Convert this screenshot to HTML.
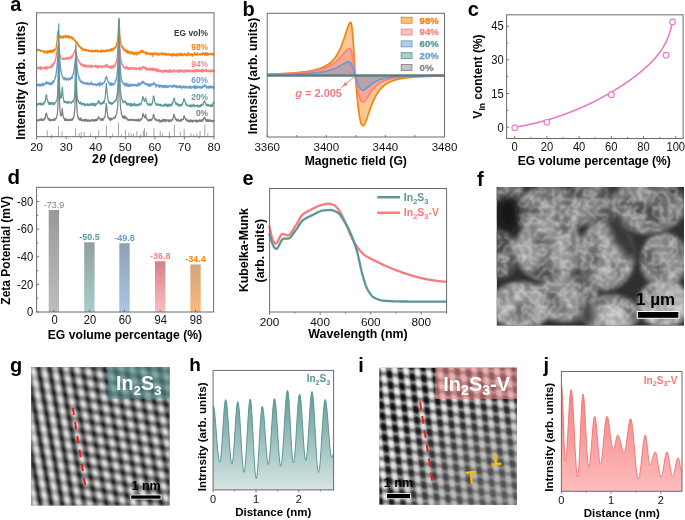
<!DOCTYPE html>
<html><head><meta charset="utf-8"><title>Figure</title>
<style>html,body{margin:0;padding:0;background:#fff;}svg{display:block;will-change:transform;-webkit-font-smoothing:antialiased;font-family:"Liberation Sans",sans-serif;}</style></head>
<body><svg width="685" height="520" viewBox="0 0 685 520" font-family="Liberation Sans, sans-serif">
<rect width="685" height="520" fill="#fff"/>
<path d="M36.60,49.81 L36.78,49.49 L36.95,50.02 L37.13,49.26 L37.31,50.15 L37.49,50.34 L37.66,50.06 L37.84,50.52 L38.02,50.03 L38.20,50.25 L38.37,49.40 L38.55,50.32 L38.73,49.81 L38.91,50.07 L39.08,50.32 L39.26,50.52 L39.44,49.45 L39.62,49.53 L39.79,50.32 L39.97,50.82 L40.15,50.79 L40.33,51.15 L40.50,51.43 L40.68,50.99 L40.86,50.72 L41.03,50.16 L41.21,50.25 L41.39,50.58 L41.57,51.07 L41.74,51.09 L41.92,51.00 L42.10,50.96 L42.28,51.48 L42.45,51.27 L42.63,51.37 L42.81,51.43 L42.99,50.96 L43.16,50.72 L43.34,51.68 L43.52,51.68 L43.70,51.34 L43.87,51.27 L44.05,52.92 L44.23,51.14 L44.41,51.51 L44.58,51.83 L44.76,51.02 L44.94,51.81 L45.12,52.85 L45.29,52.36 L45.47,52.21 L45.65,52.20 L45.82,51.94 L46.00,52.46 L46.18,51.81 L46.36,51.66 L46.53,51.98 L46.71,52.47 L46.89,52.12 L47.07,52.33 L47.24,50.70 L47.42,52.62 L47.60,53.30 L47.78,52.68 L47.95,51.67 L48.13,51.33 L48.31,51.98 L48.49,51.20 L48.66,52.20 L48.84,51.41 L49.02,52.27 L49.20,52.47 L49.37,50.40 L49.55,51.75 L49.73,51.11 L49.90,50.64 L50.08,51.07 L50.26,51.26 L50.44,51.96 L50.61,50.38 L50.79,51.87 L50.97,52.39 L51.15,51.49 L51.32,51.40 L51.50,51.01 L51.68,50.26 L51.86,51.22 L52.03,51.08 L52.21,51.23 L52.39,52.27 L52.57,51.11 L52.74,50.87 L52.92,51.49 L53.10,49.68 L53.28,49.74 L53.45,50.14 L53.63,49.90 L53.81,50.64 L53.99,49.95 L54.16,51.10 L54.34,50.87 L54.52,50.32 L54.69,49.50 L54.87,49.95 L55.05,49.89 L55.23,48.56 L55.40,49.15 L55.58,49.05 L55.76,48.37 L55.94,48.71 L56.11,47.92 L56.29,45.99 L56.47,45.68 L56.65,44.00 L56.82,43.46 L57.00,40.82 L57.18,39.66 L57.36,36.68 L57.53,34.36 L57.71,31.92 L57.89,30.99 L58.07,34.01 L58.24,34.23 L58.42,36.25 L58.60,36.39 L58.77,36.92 L58.95,37.79 L59.13,36.96 L59.31,37.60 L59.48,35.84 L59.66,37.23 L59.84,36.55 L60.02,36.61 L60.19,36.71 L60.37,36.94 L60.55,37.77 L60.73,35.72 L60.90,36.92 L61.08,36.53 L61.26,37.73 L61.44,36.84 L61.61,37.44 L61.79,36.99 L61.97,37.68 L62.15,37.94 L62.32,37.13 L62.50,37.42 L62.68,36.55 L62.86,37.58 L63.03,37.89 L63.21,37.02 L63.39,37.98 L63.56,36.01 L63.74,36.08 L63.92,36.29 L64.10,36.76 L64.27,36.99 L64.45,36.85 L64.63,36.79 L64.81,37.19 L64.98,36.40 L65.16,35.86 L65.34,35.82 L65.52,37.78 L65.69,35.06 L65.87,36.33 L66.05,37.28 L66.23,36.68 L66.40,35.88 L66.58,36.37 L66.76,36.88 L66.94,37.09 L67.11,35.84 L67.29,36.85 L67.47,36.56 L67.64,37.10 L67.82,37.29 L68.00,36.28 L68.18,35.65 L68.35,36.80 L68.53,37.66 L68.71,37.05 L68.89,36.82 L69.06,38.17 L69.24,36.16 L69.42,37.38 L69.60,36.55 L69.77,36.98 L69.95,37.07 L70.13,37.99 L70.31,36.59 L70.48,36.91 L70.66,36.35 L70.84,37.68 L71.02,37.20 L71.19,37.82 L71.37,37.02 L71.55,37.55 L71.73,38.50 L71.90,37.88 L72.08,38.48 L72.26,38.54 L72.43,38.14 L72.61,37.55 L72.79,39.22 L72.97,38.88 L73.14,39.52 L73.32,37.88 L73.50,38.26 L73.68,38.14 L73.85,39.07 L74.03,40.41 L74.21,40.31 L74.39,40.15 L74.56,40.44 L74.74,41.03 L74.92,40.60 L75.10,41.23 L75.27,41.30 L75.45,40.13 L75.63,41.44 L75.81,42.71 L75.98,41.89 L76.16,42.28 L76.34,42.24 L76.51,42.55 L76.69,43.76 L76.87,43.17 L77.05,42.95 L77.22,41.94 L77.40,43.70 L77.58,43.10 L77.76,43.43 L77.93,45.23 L78.11,45.41 L78.29,44.06 L78.47,45.94 L78.64,45.93 L78.82,45.40 L79.00,46.52 L79.18,45.30 L79.35,45.76 L79.53,45.81 L79.71,46.19 L79.89,47.57 L80.06,46.42 L80.24,46.70 L80.42,46.99 L80.60,47.83 L80.77,47.66 L80.95,48.53 L81.13,47.73 L81.30,47.52 L81.48,48.12 L81.66,48.57 L81.84,48.11 L82.01,48.95 L82.19,49.98 L82.37,48.64 L82.55,49.12 L82.72,50.00 L82.90,48.89 L83.08,48.85 L83.26,48.79 L83.43,49.76 L83.61,49.90 L83.79,49.58 L83.97,49.76 L84.14,50.56 L84.32,50.38 L84.50,49.07 L84.68,49.96 L84.85,50.09 L85.03,50.51 L85.21,49.99 L85.38,49.78 L85.56,49.93 L85.74,49.18 L85.92,50.27 L86.09,49.97 L86.27,50.64 L86.45,49.78 L86.63,50.17 L86.80,49.87 L86.98,49.85 L87.16,50.94 L87.34,50.26 L87.51,50.84 L87.69,49.92 L87.87,50.68 L88.05,49.63 L88.22,50.37 L88.40,50.38 L88.58,51.05 L88.76,50.83 L88.93,50.63 L89.11,51.26 L89.29,50.89 L89.47,51.11 L89.64,51.26 L89.82,50.78 L90.00,50.66 L90.17,51.04 L90.35,50.61 L90.53,51.10 L90.71,51.55 L90.88,51.41 L91.06,50.68 L91.24,50.15 L91.42,50.89 L91.59,50.86 L91.77,51.61 L91.95,50.73 L92.13,50.84 L92.30,51.41 L92.48,50.70 L92.66,50.89 L92.84,52.02 L93.01,51.90 L93.19,51.39 L93.37,51.18 L93.55,50.44 L93.72,51.36 L93.90,51.07 L94.08,51.17 L94.25,50.74 L94.43,51.04 L94.61,50.95 L94.79,51.25 L94.96,51.92 L95.14,51.29 L95.32,50.08 L95.50,50.50 L95.67,50.13 L95.85,50.61 L96.03,51.42 L96.21,51.33 L96.38,50.73 L96.56,51.25 L96.74,50.64 L96.92,50.25 L97.09,50.26 L97.27,50.59 L97.45,51.95 L97.63,50.30 L97.80,51.85 L97.98,51.90 L98.16,51.00 L98.34,51.08 L98.51,50.74 L98.69,51.09 L98.87,51.50 L99.04,51.11 L99.22,51.70 L99.40,51.81 L99.58,51.31 L99.75,51.30 L99.93,51.06 L100.11,51.31 L100.29,50.43 L100.46,51.34 L100.64,51.21 L100.82,50.57 L101.00,52.37 L101.17,50.50 L101.35,50.56 L101.53,51.24 L101.71,49.91 L101.88,50.59 L102.06,50.15 L102.24,50.48 L102.42,50.97 L102.59,51.24 L102.77,51.70 L102.95,51.52 L103.12,51.74 L103.30,51.37 L103.48,50.73 L103.66,51.67 L103.83,50.71 L104.01,50.62 L104.19,51.90 L104.37,51.44 L104.54,51.09 L104.72,51.40 L104.90,51.47 L105.08,50.11 L105.25,50.86 L105.43,50.20 L105.61,50.97 L105.79,50.48 L105.96,51.68 L106.14,51.16 L106.32,50.35 L106.50,50.80 L106.67,50.07 L106.85,50.80 L107.03,51.09 L107.21,50.90 L107.38,49.56 L107.56,50.50 L107.74,50.98 L107.91,50.83 L108.09,51.32 L108.27,49.83 L108.45,50.88 L108.62,50.15 L108.80,50.63 L108.98,50.72 L109.16,50.85 L109.33,50.06 L109.51,50.48 L109.69,49.63 L109.87,49.44 L110.04,50.58 L110.22,50.17 L110.40,49.18 L110.58,49.59 L110.75,50.06 L110.93,50.93 L111.11,50.56 L111.29,50.35 L111.46,48.74 L111.64,49.68 L111.82,49.95 L111.99,49.83 L112.17,49.76 L112.35,49.29 L112.53,50.39 L112.70,50.13 L112.88,49.09 L113.06,48.46 L113.24,50.17 L113.41,48.49 L113.59,49.42 L113.77,49.72 L113.95,47.87 L114.12,48.46 L114.30,47.93 L114.48,48.28 L114.66,47.99 L114.83,48.78 L115.01,47.77 L115.19,47.20 L115.37,47.65 L115.54,46.57 L115.72,46.24 L115.90,47.51 L116.08,45.35 L116.25,45.19 L116.43,45.10 L116.61,43.97 L116.78,42.80 L116.96,44.07 L117.14,42.21 L117.32,41.44 L117.49,40.41 L117.67,38.63 L117.85,36.79 L118.03,35.26 L118.20,33.77 L118.38,29.41 L118.56,25.81 L118.74,21.38 L118.91,20.78 L119.09,20.87 L119.27,24.76 L119.45,27.73 L119.62,31.42 L119.80,34.40 L119.98,36.59 L120.16,38.00 L120.33,40.82 L120.51,40.90 L120.69,42.03 L120.86,43.40 L121.04,43.86 L121.22,45.04 L121.40,46.02 L121.57,46.02 L121.75,46.40 L121.93,46.67 L122.11,47.51 L122.28,46.19 L122.46,47.81 L122.64,47.30 L122.82,47.37 L122.99,48.35 L123.17,48.34 L123.35,49.13 L123.53,49.64 L123.70,47.77 L123.88,49.31 L124.06,50.70 L124.24,50.21 L124.41,50.71 L124.59,50.05 L124.77,49.28 L124.95,49.60 L125.12,50.83 L125.30,51.11 L125.48,50.22 L125.65,50.61 L125.83,51.04 L126.01,49.95 L126.19,50.89 L126.36,52.17 L126.54,52.61 L126.72,51.33 L126.90,52.58 L127.07,51.25 L127.25,51.17 L127.43,50.39 L127.61,52.39 L127.78,51.66 L127.96,53.36 L128.14,52.23 L128.32,52.21 L128.49,51.08 L128.67,53.13 L128.85,52.08 L129.03,52.26 L129.20,51.09 L129.38,53.03 L129.56,53.12 L129.73,52.22 L129.91,52.69 L130.09,52.92 L130.27,53.31 L130.44,52.85 L130.62,53.86 L130.80,52.73 L130.98,52.56 L131.15,52.68 L131.33,51.48 L131.51,52.56 L131.69,53.69 L131.86,53.28 L132.04,52.67 L132.22,53.40 L132.40,52.02 L132.57,53.09 L132.75,53.61 L132.93,53.74 L133.11,52.88 L133.28,53.92 L133.46,54.52 L133.64,53.17 L133.82,53.89 L133.99,52.53 L134.17,52.30 L134.35,53.87 L134.52,53.54 L134.70,53.64 L134.88,53.18 L135.06,53.36 L135.23,54.02 L135.41,54.56 L135.59,53.40 L135.77,52.53 L135.94,54.27 L136.12,53.85 L136.30,53.88 L136.48,53.55 L136.65,54.81 L136.83,53.42 L137.01,53.65 L137.19,52.18 L137.36,52.90 L137.54,52.78 L137.72,53.12 L137.90,53.28 L138.07,52.56 L138.25,53.98 L138.43,52.23 L138.60,52.52 L138.78,52.86 L138.96,51.88 L139.14,52.90 L139.31,52.85 L139.49,52.21 L139.67,53.45 L139.85,52.28 L140.02,52.32 L140.20,51.50 L140.38,51.00 L140.56,51.56 L140.73,51.68 L140.91,51.54 L141.09,52.23 L141.27,50.29 L141.44,51.00 L141.62,50.56 L141.80,52.44 L141.98,51.28 L142.15,51.31 L142.33,50.96 L142.51,52.18 L142.69,51.41 L142.86,51.82 L143.04,50.51 L143.22,52.48 L143.39,52.06 L143.57,52.22 L143.75,52.69 L143.93,51.90 L144.10,51.99 L144.28,52.60 L144.46,52.51 L144.64,52.19 L144.81,52.45 L144.99,52.20 L145.17,53.02 L145.35,53.24 L145.52,52.76 L145.70,53.97 L145.88,52.00 L146.06,52.86 L146.23,54.11 L146.41,52.90 L146.59,52.26 L146.77,54.12 L146.94,53.67 L147.12,52.68 L147.30,53.92 L147.47,52.88 L147.65,52.74 L147.83,53.49 L148.01,53.33 L148.18,52.99 L148.36,53.46 L148.54,53.10 L148.72,53.77 L148.89,53.74 L149.07,54.22 L149.25,53.51 L149.43,52.99 L149.60,53.01 L149.78,53.66 L149.96,54.74 L150.14,54.33 L150.31,53.44 L150.49,54.40 L150.67,53.13 L150.85,54.44 L151.02,53.60 L151.20,54.29 L151.38,54.20 L151.56,53.66 L151.73,54.02 L151.91,53.18 L152.09,53.78 L152.26,54.47 L152.44,56.28 L152.62,54.24 L152.80,53.87 L152.97,53.20 L153.15,54.45 L153.33,52.81 L153.51,53.33 L153.68,54.02 L153.86,53.08 L154.04,54.73 L154.22,54.47 L154.39,53.47 L154.57,53.48 L154.75,53.02 L154.93,52.97 L155.10,54.08 L155.28,54.19 L155.46,54.03 L155.64,53.98 L155.81,53.49 L155.99,54.05 L156.17,52.95 L156.34,53.84 L156.52,54.73 L156.70,54.65 L156.88,53.58 L157.05,53.66 L157.23,54.70 L157.41,54.95 L157.59,52.98 L157.76,53.63 L157.94,54.04 L158.12,54.64 L158.30,53.41 L158.47,54.31 L158.65,53.75 L158.83,55.37 L159.01,54.21 L159.18,53.88 L159.36,53.77 L159.54,54.62 L159.72,54.40 L159.89,53.35 L160.07,54.15 L160.25,53.22 L160.43,53.58 L160.60,53.27 L160.78,53.26 L160.96,53.66 L161.13,53.49 L161.31,54.41 L161.49,54.59 L161.67,53.98 L161.84,53.46 L162.02,54.63 L162.20,52.94 L162.38,53.01 L162.55,54.62 L162.73,54.59 L162.91,54.80 L163.09,54.09 L163.26,53.47 L163.44,53.94 L163.62,54.60 L163.80,53.81 L163.97,53.86 L164.15,53.46 L164.33,53.61 L164.51,54.83 L164.68,54.61 L164.86,53.64 L165.04,53.70 L165.21,54.03 L165.39,54.71 L165.57,53.69 L165.75,54.30 L165.92,53.12 L166.10,53.67 L166.28,54.69 L166.46,54.98 L166.63,53.76 L166.81,54.00 L166.99,54.95 L167.17,54.25 L167.34,54.17 L167.52,54.81 L167.70,54.63 L167.88,55.19 L168.05,55.01 L168.23,54.19 L168.41,54.47 L168.59,54.52 L168.76,53.74 L168.94,53.98 L169.12,55.16 L169.30,53.62 L169.47,55.19 L169.65,54.77 L169.83,54.52 L170.00,54.93 L170.18,54.90 L170.36,55.34 L170.54,54.38 L170.71,54.49 L170.89,54.48 L171.07,55.77 L171.25,55.21 L171.42,54.09 L171.60,54.45 L171.78,54.23 L171.96,54.66 L172.13,54.78 L172.31,56.04 L172.49,53.56 L172.67,55.28 L172.84,54.93 L173.02,54.24 L173.20,54.58 L173.38,54.37 L173.55,54.70 L173.73,55.28 L173.91,53.76 L174.08,55.46 L174.26,54.45 L174.44,55.58 L174.62,54.92 L174.79,55.42 L174.97,55.01 L175.15,55.33 L175.33,54.71 L175.50,54.17 L175.68,55.07 L175.86,55.10 L176.04,55.93 L176.21,53.46 L176.39,54.54 L176.57,55.30 L176.75,53.91 L176.92,54.52 L177.10,55.93 L177.28,55.51 L177.46,54.12 L177.63,55.51 L177.81,55.36 L177.99,55.11 L178.17,54.87 L178.34,54.78 L178.52,54.11 L178.70,54.32 L178.87,55.07 L179.05,54.71 L179.23,55.73 L179.41,54.42 L179.58,53.17 L179.76,54.41 L179.94,54.77 L180.12,54.83 L180.29,54.64 L180.47,54.10 L180.65,55.49 L180.83,54.19 L181.00,55.01 L181.18,54.41 L181.36,53.85 L181.54,55.42 L181.71,53.06 L181.89,54.05 L182.07,54.82 L182.25,54.34 L182.42,55.00 L182.60,54.49 L182.78,54.27 L182.95,55.83 L183.13,54.40 L183.31,54.43 L183.49,53.87 L183.66,54.07 L183.84,54.90 L184.02,54.85 L184.20,54.51 L184.37,54.08 L184.55,54.91 L184.73,53.47 L184.91,54.28 L185.08,54.33 L185.26,53.97 L185.44,54.57 L185.62,54.07 L185.79,53.98 L185.97,55.54 L186.15,54.90 L186.33,55.17 L186.50,54.48 L186.68,55.02 L186.86,54.91 L187.04,55.17 L187.21,55.85 L187.39,54.29 L187.57,54.58 L187.74,54.39 L187.92,52.31 L188.10,53.57 L188.28,54.42 L188.45,54.78 L188.63,54.05 L188.81,55.08 L188.99,55.16 L189.16,54.14 L189.34,55.24 L189.52,55.43 L189.70,54.65 L189.87,53.78 L190.05,55.25 L190.23,54.27 L190.41,54.13 L190.58,54.43 L190.76,54.03 L190.94,54.99 L191.12,54.81 L191.29,55.07 L191.47,54.69 L191.65,53.86 L191.82,54.23 L192.00,54.85 L192.18,54.08 L192.36,56.07 L192.53,54.17 L192.71,53.96 L192.89,55.00 L193.07,54.75 L193.24,54.28 L193.42,54.16 L193.60,54.55 L193.78,54.79 L193.95,54.74 L194.13,54.10 L194.31,54.54 L194.49,54.78 L194.66,54.73 L194.84,52.42 L195.02,53.73 L195.20,53.79 L195.37,54.12 L195.55,54.36 L195.73,54.80 L195.91,54.62 L196.08,54.17 L196.26,54.25 L196.44,55.29 L196.61,53.87 L196.79,54.41 L196.97,55.17 L197.15,54.43 L197.32,53.00 L197.50,54.44 L197.68,53.98 L197.86,54.15 L198.03,54.84 L198.21,54.49 L198.39,54.05 L198.57,54.74 L198.74,54.46 L198.92,54.26 L199.10,54.37 L199.28,54.34 L199.45,53.98 L199.63,53.91 L199.81,54.20 L199.99,53.61 L200.16,53.42 L200.34,54.96 L200.52,54.03 L200.69,54.16 L200.87,54.09 L201.05,54.18 L201.23,54.18 L201.40,54.20 L201.58,53.68 L201.76,54.72 L201.94,53.74 L202.11,54.77 L202.29,53.00 L202.47,53.51 L202.65,54.74 L202.82,54.05 L203.00,53.74 L203.18,54.36 L203.36,53.51 L203.53,54.18 L203.71,52.80 L203.89,53.86 L204.07,53.74 L204.24,54.45 L204.42,54.65 L204.60,53.61 L204.78,55.09 L204.95,53.76 L205.13,52.88 L205.31,52.69 L205.48,55.04 L205.66,54.06 L205.84,53.72 L206.02,53.66 L206.19,53.45 L206.37,54.92 L206.55,54.05 L206.73,55.18 L206.90,53.98 L207.08,52.69 L207.26,54.60 L207.44,53.87 L207.61,53.95 L207.79,55.03 L207.97,53.93 L208.15,54.79 L208.32,54.08 L208.50,53.64 L208.68,54.39 L208.86,53.72 L209.03,54.82 L209.21,54.66 L209.39,54.12 L209.56,54.44 L209.74,54.42 L209.92,53.91 L210.10,54.61 L210.27,53.94 L210.45,54.44 L210.63,53.50 L210.81,54.13 L210.98,54.32 L211.16,53.59 L211.34,53.82 L211.52,53.75 L211.69,54.50 L211.87,53.63 L212.05,54.33 L212.23,54.98 L212.40,54.28 L212.58,53.09 L212.76,54.14 L212.94,54.68 L213.11,53.89 L213.29,54.72 L213.47,54.43 L213.65,54.31 L213.82,53.90 L214.00,53.75" fill="none" stroke="#f7820f" stroke-width="1.35" stroke-linejoin="round"/>
<path d="M36.60,67.45 L36.78,68.72 L36.95,67.65 L37.13,67.44 L37.31,67.76 L37.49,68.06 L37.66,68.55 L37.84,68.50 L38.02,68.11 L38.20,68.68 L38.37,68.17 L38.55,68.65 L38.73,67.27 L38.91,67.17 L39.08,68.58 L39.26,67.28 L39.44,67.93 L39.62,68.05 L39.79,67.81 L39.97,67.83 L40.15,68.93 L40.33,66.58 L40.50,68.62 L40.68,69.47 L40.86,68.10 L41.03,68.07 L41.21,68.51 L41.39,69.17 L41.57,67.36 L41.74,68.12 L41.92,67.95 L42.10,68.39 L42.28,68.14 L42.45,68.44 L42.63,67.78 L42.81,68.06 L42.99,67.62 L43.16,67.61 L43.34,67.92 L43.52,67.91 L43.70,67.28 L43.87,68.92 L44.05,67.88 L44.23,67.12 L44.41,68.60 L44.58,67.48 L44.76,68.22 L44.94,67.89 L45.12,68.03 L45.29,67.97 L45.47,67.50 L45.65,67.85 L45.82,69.03 L46.00,66.45 L46.18,67.81 L46.36,68.01 L46.53,67.09 L46.71,66.88 L46.89,68.97 L47.07,67.42 L47.24,68.86 L47.42,67.90 L47.60,67.60 L47.78,67.80 L47.95,67.86 L48.13,68.15 L48.31,67.66 L48.49,67.44 L48.66,67.42 L48.84,68.07 L49.02,67.70 L49.20,66.56 L49.37,66.72 L49.55,67.24 L49.73,66.61 L49.90,66.69 L50.08,66.27 L50.26,66.62 L50.44,66.95 L50.61,67.21 L50.79,66.53 L50.97,67.68 L51.15,66.29 L51.32,68.15 L51.50,66.73 L51.68,66.31 L51.86,65.59 L52.03,64.06 L52.21,65.53 L52.39,65.58 L52.57,66.47 L52.74,64.31 L52.92,66.10 L53.10,64.61 L53.28,64.99 L53.45,62.80 L53.63,64.17 L53.81,63.61 L53.99,63.94 L54.16,63.27 L54.34,62.19 L54.52,63.07 L54.69,62.50 L54.87,61.99 L55.05,61.74 L55.23,61.24 L55.40,59.95 L55.58,58.47 L55.76,57.69 L55.94,58.50 L56.11,57.19 L56.29,55.80 L56.47,54.37 L56.65,53.46 L56.82,52.21 L57.00,50.71 L57.18,49.24 L57.36,49.80 L57.53,47.65 L57.71,46.42 L57.89,45.59 L58.07,45.87 L58.24,47.02 L58.42,47.63 L58.60,47.86 L58.77,48.98 L58.95,49.80 L59.13,50.35 L59.31,52.79 L59.48,53.16 L59.66,55.27 L59.84,54.09 L60.02,55.12 L60.19,56.32 L60.37,56.14 L60.55,55.89 L60.73,56.53 L60.90,57.47 L61.08,57.88 L61.26,57.85 L61.44,58.69 L61.61,58.84 L61.79,58.57 L61.97,58.49 L62.15,58.40 L62.32,58.95 L62.50,59.22 L62.68,58.74 L62.86,58.99 L63.03,58.54 L63.21,57.89 L63.39,58.13 L63.56,59.17 L63.74,58.97 L63.92,59.63 L64.10,58.68 L64.27,59.14 L64.45,59.38 L64.63,59.15 L64.81,58.15 L64.98,58.37 L65.16,58.52 L65.34,57.82 L65.52,58.66 L65.69,58.95 L65.87,58.01 L66.05,59.45 L66.23,58.06 L66.40,58.07 L66.58,58.02 L66.76,57.71 L66.94,58.35 L67.11,58.08 L67.29,59.04 L67.47,58.38 L67.64,58.31 L67.82,57.83 L68.00,57.09 L68.18,57.86 L68.35,57.38 L68.53,58.44 L68.71,57.82 L68.89,58.81 L69.06,58.23 L69.24,58.26 L69.42,57.86 L69.60,57.81 L69.77,58.04 L69.95,58.16 L70.13,57.13 L70.31,57.79 L70.48,59.01 L70.66,57.30 L70.84,57.12 L71.02,56.76 L71.19,56.19 L71.37,57.65 L71.55,56.83 L71.73,56.80 L71.90,57.54 L72.08,57.72 L72.26,55.43 L72.43,56.32 L72.61,55.75 L72.79,55.27 L72.97,54.93 L73.14,54.21 L73.32,54.73 L73.50,53.66 L73.68,53.00 L73.85,53.03 L74.03,52.33 L74.21,51.60 L74.39,51.12 L74.56,51.67 L74.74,50.73 L74.92,50.31 L75.10,49.94 L75.27,50.49 L75.45,50.46 L75.63,51.66 L75.81,52.36 L75.98,51.65 L76.16,53.61 L76.34,54.72 L76.51,55.16 L76.69,55.21 L76.87,57.23 L77.05,56.70 L77.22,56.99 L77.40,57.65 L77.58,58.83 L77.76,59.92 L77.93,60.49 L78.11,60.34 L78.29,59.90 L78.47,60.58 L78.64,60.78 L78.82,61.52 L79.00,60.86 L79.18,62.26 L79.35,62.84 L79.53,62.60 L79.71,63.19 L79.89,62.56 L80.06,62.45 L80.24,63.12 L80.42,64.37 L80.60,64.46 L80.77,63.72 L80.95,64.86 L81.13,64.08 L81.30,65.31 L81.48,64.81 L81.66,64.37 L81.84,65.22 L82.01,64.38 L82.19,64.38 L82.37,64.17 L82.55,65.28 L82.72,65.17 L82.90,65.24 L83.08,65.11 L83.26,66.29 L83.43,65.24 L83.61,65.12 L83.79,66.36 L83.97,66.52 L84.14,65.92 L84.32,64.72 L84.50,65.45 L84.68,66.22 L84.85,65.90 L85.03,66.86 L85.21,65.14 L85.38,66.40 L85.56,65.65 L85.74,66.84 L85.92,66.03 L86.09,66.72 L86.27,65.73 L86.45,65.30 L86.63,65.50 L86.80,65.82 L86.98,65.58 L87.16,66.93 L87.34,67.03 L87.51,66.40 L87.69,65.62 L87.87,66.18 L88.05,65.85 L88.22,67.14 L88.40,66.47 L88.58,66.58 L88.76,66.05 L88.93,65.08 L89.11,65.83 L89.29,65.63 L89.47,66.52 L89.64,66.36 L89.82,65.82 L90.00,66.07 L90.17,67.24 L90.35,65.73 L90.53,65.75 L90.71,66.17 L90.88,65.88 L91.06,66.04 L91.24,66.62 L91.42,67.34 L91.59,65.23 L91.77,66.29 L91.95,66.32 L92.13,66.24 L92.30,66.18 L92.48,66.09 L92.66,66.89 L92.84,66.01 L93.01,66.21 L93.19,66.29 L93.37,66.35 L93.55,66.18 L93.72,66.89 L93.90,66.28 L94.08,66.39 L94.25,66.26 L94.43,65.69 L94.61,65.79 L94.79,65.66 L94.96,66.41 L95.14,65.87 L95.32,65.66 L95.50,66.44 L95.67,66.62 L95.85,65.25 L96.03,67.33 L96.21,66.33 L96.38,66.26 L96.56,66.96 L96.74,66.37 L96.92,65.97 L97.09,67.66 L97.27,65.70 L97.45,66.29 L97.63,66.87 L97.80,65.72 L97.98,66.31 L98.16,66.61 L98.34,67.83 L98.51,65.86 L98.69,66.38 L98.87,66.81 L99.04,66.47 L99.22,65.71 L99.40,66.68 L99.58,66.51 L99.75,66.72 L99.93,67.14 L100.11,67.08 L100.29,66.73 L100.46,66.68 L100.64,65.84 L100.82,66.42 L101.00,66.64 L101.17,66.28 L101.35,66.58 L101.53,66.04 L101.71,67.46 L101.88,67.83 L102.06,66.31 L102.24,66.78 L102.42,66.40 L102.59,67.30 L102.77,66.80 L102.95,66.58 L103.12,66.39 L103.30,66.59 L103.48,65.89 L103.66,66.88 L103.83,66.02 L104.01,66.74 L104.19,66.46 L104.37,67.00 L104.54,66.28 L104.72,66.84 L104.90,65.61 L105.08,66.46 L105.25,65.88 L105.43,66.05 L105.61,65.90 L105.79,66.35 L105.96,64.52 L106.14,65.89 L106.32,64.80 L106.50,66.44 L106.67,64.58 L106.85,65.24 L107.03,64.93 L107.21,67.02 L107.38,65.37 L107.56,66.33 L107.74,66.04 L107.91,65.38 L108.09,66.35 L108.27,67.04 L108.45,66.61 L108.62,67.35 L108.80,66.63 L108.98,66.91 L109.16,66.72 L109.33,67.20 L109.51,68.17 L109.69,67.28 L109.87,67.20 L110.04,66.74 L110.22,66.67 L110.40,68.02 L110.58,66.49 L110.75,66.61 L110.93,67.11 L111.11,66.91 L111.29,68.33 L111.46,65.73 L111.64,67.36 L111.82,67.55 L111.99,66.43 L112.17,66.69 L112.35,67.30 L112.53,67.98 L112.70,66.41 L112.88,65.96 L113.06,67.44 L113.24,67.70 L113.41,66.51 L113.59,65.30 L113.77,67.40 L113.95,66.30 L114.12,66.97 L114.30,66.13 L114.48,65.77 L114.66,65.55 L114.83,66.50 L115.01,66.24 L115.19,63.83 L115.37,64.24 L115.54,65.52 L115.72,63.82 L115.90,62.75 L116.08,63.02 L116.25,62.30 L116.43,61.55 L116.61,60.42 L116.78,59.46 L116.96,58.10 L117.14,57.06 L117.32,54.55 L117.49,52.70 L117.67,50.24 L117.85,48.14 L118.03,44.24 L118.20,40.39 L118.38,37.30 L118.56,34.30 L118.74,32.91 L118.91,32.30 L119.09,34.42 L119.27,36.77 L119.45,39.31 L119.62,42.69 L119.80,46.92 L119.98,49.83 L120.16,52.17 L120.33,53.65 L120.51,55.39 L120.69,58.33 L120.86,59.95 L121.04,61.12 L121.22,60.84 L121.40,63.06 L121.57,62.82 L121.75,63.98 L121.93,64.52 L122.11,64.24 L122.28,64.76 L122.46,64.21 L122.64,65.21 L122.82,64.95 L122.99,66.53 L123.17,66.52 L123.35,67.22 L123.53,67.05 L123.70,66.61 L123.88,67.34 L124.06,67.02 L124.24,67.73 L124.41,67.66 L124.59,66.97 L124.77,67.65 L124.95,67.77 L125.12,67.62 L125.30,68.41 L125.48,68.96 L125.65,67.77 L125.83,67.83 L126.01,66.74 L126.19,68.06 L126.36,67.91 L126.54,66.92 L126.72,68.42 L126.90,68.64 L127.07,67.87 L127.25,68.12 L127.43,67.79 L127.61,68.85 L127.78,67.50 L127.96,68.25 L128.14,69.62 L128.32,68.50 L128.49,68.77 L128.67,68.42 L128.85,67.81 L129.03,68.51 L129.20,68.79 L129.38,67.94 L129.56,68.77 L129.73,69.32 L129.91,69.23 L130.09,67.64 L130.27,68.02 L130.44,67.64 L130.62,69.26 L130.80,68.99 L130.98,69.05 L131.15,68.10 L131.33,67.93 L131.51,68.68 L131.69,68.70 L131.86,68.13 L132.04,68.73 L132.22,69.04 L132.40,68.79 L132.57,68.03 L132.75,67.39 L132.93,68.50 L133.11,68.76 L133.28,68.50 L133.46,68.40 L133.64,68.24 L133.82,69.09 L133.99,68.62 L134.17,68.73 L134.35,68.07 L134.52,68.28 L134.70,68.75 L134.88,68.05 L135.06,67.89 L135.23,68.45 L135.41,69.36 L135.59,68.75 L135.77,69.51 L135.94,68.55 L136.12,68.44 L136.30,67.79 L136.48,68.28 L136.65,69.48 L136.83,68.81 L137.01,69.04 L137.19,69.02 L137.36,68.58 L137.54,68.46 L137.72,68.65 L137.90,68.97 L138.07,68.83 L138.25,68.84 L138.43,68.62 L138.60,68.05 L138.78,68.34 L138.96,67.92 L139.14,69.06 L139.31,67.18 L139.49,68.28 L139.67,69.82 L139.85,68.15 L140.02,67.65 L140.20,68.28 L140.38,69.03 L140.56,68.11 L140.73,68.53 L140.91,68.17 L141.09,67.83 L141.27,69.89 L141.44,67.98 L141.62,67.55 L141.80,67.52 L141.98,67.98 L142.15,67.94 L142.33,68.11 L142.51,67.69 L142.69,66.71 L142.86,67.88 L143.04,67.38 L143.22,67.41 L143.39,66.73 L143.57,67.33 L143.75,67.30 L143.93,67.79 L144.10,67.02 L144.28,68.01 L144.46,68.14 L144.64,67.48 L144.81,67.86 L144.99,67.80 L145.17,68.94 L145.35,66.95 L145.52,68.34 L145.70,67.61 L145.88,68.41 L146.06,69.24 L146.23,68.41 L146.41,68.92 L146.59,68.38 L146.77,70.09 L146.94,69.52 L147.12,69.69 L147.30,68.26 L147.47,68.43 L147.65,69.77 L147.83,69.04 L148.01,69.03 L148.18,69.42 L148.36,68.49 L148.54,69.74 L148.72,69.31 L148.89,69.61 L149.07,68.94 L149.25,69.67 L149.43,68.96 L149.60,69.97 L149.78,70.09 L149.96,69.97 L150.14,69.75 L150.31,69.83 L150.49,67.83 L150.67,69.95 L150.85,69.29 L151.02,69.51 L151.20,69.27 L151.38,68.59 L151.56,69.08 L151.73,69.78 L151.91,70.20 L152.09,68.94 L152.26,68.73 L152.44,70.09 L152.62,68.64 L152.80,70.36 L152.97,69.10 L153.15,68.50 L153.33,69.59 L153.51,70.01 L153.68,68.14 L153.86,69.97 L154.04,68.93 L154.22,70.07 L154.39,69.04 L154.57,68.42 L154.75,69.76 L154.93,70.12 L155.10,70.92 L155.28,70.79 L155.46,70.25 L155.64,69.77 L155.81,69.68 L155.99,69.88 L156.17,69.62 L156.34,70.01 L156.52,68.70 L156.70,70.39 L156.88,70.31 L157.05,71.91 L157.23,70.86 L157.41,70.16 L157.59,70.82 L157.76,69.78 L157.94,70.19 L158.12,69.46 L158.30,71.47 L158.47,70.99 L158.65,69.96 L158.83,70.65 L159.01,71.28 L159.18,71.04 L159.36,70.99 L159.54,70.27 L159.72,70.42 L159.89,70.88 L160.07,71.40 L160.25,70.37 L160.43,70.21 L160.60,71.59 L160.78,70.36 L160.96,71.59 L161.13,71.10 L161.31,71.50 L161.49,72.03 L161.67,71.42 L161.84,71.48 L162.02,70.48 L162.20,70.63 L162.38,71.45 L162.55,71.99 L162.73,71.92 L162.91,72.49 L163.09,71.30 L163.26,71.24 L163.44,71.74 L163.62,71.16 L163.80,71.12 L163.97,70.54 L164.15,71.77 L164.33,70.54 L164.51,71.50 L164.68,70.35 L164.86,71.87 L165.04,70.60 L165.21,71.73 L165.39,70.28 L165.57,70.98 L165.75,71.95 L165.92,70.77 L166.10,71.30 L166.28,70.98 L166.46,69.88 L166.63,71.46 L166.81,71.54 L166.99,70.62 L167.17,71.63 L167.34,70.82 L167.52,70.69 L167.70,71.30 L167.88,70.89 L168.05,72.68 L168.23,70.38 L168.41,71.75 L168.59,71.91 L168.76,70.13 L168.94,70.28 L169.12,71.66 L169.30,71.03 L169.47,71.55 L169.65,72.00 L169.83,71.10 L170.00,70.68 L170.18,69.68 L170.36,71.44 L170.54,70.76 L170.71,71.51 L170.89,71.46 L171.07,70.49 L171.25,72.35 L171.42,71.97 L171.60,71.82 L171.78,70.60 L171.96,71.07 L172.13,70.98 L172.31,71.06 L172.49,70.63 L172.67,71.56 L172.84,71.44 L173.02,71.52 L173.20,70.99 L173.38,72.06 L173.55,71.40 L173.73,69.64 L173.91,70.90 L174.08,71.24 L174.26,71.85 L174.44,71.09 L174.62,71.11 L174.79,70.86 L174.97,71.66 L175.15,70.98 L175.33,70.89 L175.50,70.80 L175.68,71.57 L175.86,70.91 L176.04,70.22 L176.21,71.60 L176.39,70.80 L176.57,71.43 L176.75,71.43 L176.92,71.93 L177.10,71.83 L177.28,70.85 L177.46,71.09 L177.63,70.41 L177.81,72.18 L177.99,71.44 L178.17,72.00 L178.34,70.97 L178.52,69.93 L178.70,72.07 L178.87,71.20 L179.05,71.22 L179.23,71.17 L179.41,71.51 L179.58,71.44 L179.76,70.16 L179.94,71.76 L180.12,70.79 L180.29,70.82 L180.47,72.13 L180.65,71.64 L180.83,70.88 L181.00,69.96 L181.18,71.17 L181.36,71.39 L181.54,71.01 L181.71,70.30 L181.89,70.57 L182.07,70.29 L182.25,71.16 L182.42,71.52 L182.60,71.64 L182.78,70.58 L182.95,71.15 L183.13,71.34 L183.31,70.69 L183.49,70.91 L183.66,72.26 L183.84,71.11 L184.02,71.51 L184.20,70.71 L184.37,70.99 L184.55,69.93 L184.73,70.94 L184.91,71.67 L185.08,72.21 L185.26,71.66 L185.44,71.35 L185.62,70.96 L185.79,70.57 L185.97,70.83 L186.15,71.28 L186.33,70.44 L186.50,71.47 L186.68,70.31 L186.86,69.83 L187.04,70.29 L187.21,69.89 L187.39,70.06 L187.57,71.56 L187.74,70.75 L187.92,71.00 L188.10,71.56 L188.28,71.62 L188.45,70.55 L188.63,71.65 L188.81,71.08 L188.99,70.85 L189.16,71.11 L189.34,69.98 L189.52,70.36 L189.70,70.76 L189.87,71.19 L190.05,70.60 L190.23,70.74 L190.41,71.40 L190.58,71.66 L190.76,71.27 L190.94,71.56 L191.12,70.56 L191.29,70.61 L191.47,70.98 L191.65,70.61 L191.82,70.48 L192.00,71.78 L192.18,70.66 L192.36,70.20 L192.53,71.07 L192.71,71.87 L192.89,70.82 L193.07,71.51 L193.24,70.50 L193.42,70.47 L193.60,70.35 L193.78,70.67 L193.95,71.86 L194.13,70.06 L194.31,71.73 L194.49,70.14 L194.66,70.61 L194.84,71.25 L195.02,71.12 L195.20,70.91 L195.37,69.75 L195.55,70.96 L195.73,70.12 L195.91,72.28 L196.08,70.61 L196.26,70.84 L196.44,70.04 L196.61,70.44 L196.79,69.95 L196.97,71.32 L197.15,70.57 L197.32,71.06 L197.50,70.31 L197.68,70.42 L197.86,71.49 L198.03,70.14 L198.21,69.64 L198.39,70.96 L198.57,70.03 L198.74,70.45 L198.92,71.26 L199.10,70.22 L199.28,71.24 L199.45,70.31 L199.63,71.61 L199.81,71.51 L199.99,70.43 L200.16,70.59 L200.34,70.21 L200.52,70.83 L200.69,71.40 L200.87,69.84 L201.05,71.26 L201.23,69.92 L201.40,70.20 L201.58,69.64 L201.76,71.98 L201.94,70.75 L202.11,70.86 L202.29,70.31 L202.47,71.35 L202.65,69.45 L202.82,70.73 L203.00,72.04 L203.18,70.49 L203.36,70.73 L203.53,71.12 L203.71,70.23 L203.89,70.73 L204.07,71.30 L204.24,70.84 L204.42,70.94 L204.60,70.51 L204.78,70.91 L204.95,70.76 L205.13,71.60 L205.31,71.16 L205.48,70.58 L205.66,69.26 L205.84,71.16 L206.02,71.18 L206.19,70.18 L206.37,69.53 L206.55,70.05 L206.73,71.29 L206.90,70.10 L207.08,70.46 L207.26,70.87 L207.44,71.47 L207.61,70.73 L207.79,70.68 L207.97,70.41 L208.15,71.72 L208.32,71.38 L208.50,70.69 L208.68,69.91 L208.86,70.28 L209.03,71.10 L209.21,70.32 L209.39,71.29 L209.56,70.97 L209.74,70.93 L209.92,71.15 L210.10,71.06 L210.27,70.25 L210.45,70.57 L210.63,72.17 L210.81,70.04 L210.98,70.49 L211.16,71.41 L211.34,70.68 L211.52,70.29 L211.69,69.98 L211.87,71.10 L212.05,71.39 L212.23,71.62 L212.40,70.82 L212.58,71.41 L212.76,70.17 L212.94,70.89 L213.11,70.39 L213.29,70.90 L213.47,71.25 L213.65,71.44 L213.82,70.21 L214.00,71.56" fill="none" stroke="#fb8282" stroke-width="1.35" stroke-linejoin="round"/>
<path d="M36.60,85.09 L36.78,84.65 L36.95,85.65 L37.13,84.85 L37.31,84.87 L37.49,84.34 L37.66,84.69 L37.84,85.55 L38.02,84.18 L38.20,85.10 L38.37,85.57 L38.55,84.90 L38.73,85.27 L38.91,84.45 L39.08,85.89 L39.26,85.76 L39.44,85.23 L39.62,84.03 L39.79,84.45 L39.97,85.65 L40.15,86.08 L40.33,85.22 L40.50,85.77 L40.68,84.65 L40.86,84.88 L41.03,84.98 L41.21,85.22 L41.39,84.03 L41.57,85.49 L41.74,85.70 L41.92,84.19 L42.10,84.04 L42.28,85.04 L42.45,84.40 L42.63,83.34 L42.81,85.21 L42.99,84.78 L43.16,84.35 L43.34,85.85 L43.52,84.61 L43.70,84.01 L43.87,84.44 L44.05,83.67 L44.23,83.74 L44.41,84.32 L44.58,83.63 L44.76,83.55 L44.94,84.66 L45.12,84.00 L45.29,83.77 L45.47,83.39 L45.65,83.16 L45.82,83.54 L46.00,82.48 L46.18,83.49 L46.36,81.75 L46.53,82.18 L46.71,81.58 L46.89,82.33 L47.07,83.00 L47.24,83.73 L47.42,82.63 L47.60,83.18 L47.78,83.09 L47.95,82.98 L48.13,82.81 L48.31,83.63 L48.49,82.62 L48.66,83.77 L48.84,83.75 L49.02,83.36 L49.20,83.16 L49.37,82.93 L49.55,84.88 L49.73,82.93 L49.90,84.64 L50.08,84.04 L50.26,83.42 L50.44,82.90 L50.61,84.16 L50.79,84.52 L50.97,82.85 L51.15,83.16 L51.32,83.89 L51.50,83.37 L51.68,84.28 L51.86,82.63 L52.03,83.18 L52.21,81.98 L52.39,83.86 L52.57,82.02 L52.74,80.98 L52.92,82.06 L53.10,81.87 L53.28,82.90 L53.45,81.33 L53.63,81.29 L53.81,81.39 L53.99,81.70 L54.16,80.40 L54.34,80.72 L54.52,80.03 L54.69,79.12 L54.87,78.88 L55.05,78.34 L55.23,77.19 L55.40,77.83 L55.58,75.55 L55.76,76.27 L55.94,75.22 L56.11,73.56 L56.29,71.98 L56.47,70.97 L56.65,69.89 L56.82,68.35 L57.00,66.17 L57.18,64.47 L57.36,61.21 L57.53,59.20 L57.71,55.52 L57.89,54.35 L58.07,51.60 L58.24,49.27 L58.42,48.83 L58.60,47.92 L58.77,46.04 L58.95,48.78 L59.13,49.58 L59.31,53.25 L59.48,56.51 L59.66,57.19 L59.84,59.97 L60.02,62.04 L60.19,64.48 L60.37,66.51 L60.55,68.55 L60.73,68.64 L60.90,71.45 L61.08,71.06 L61.26,72.75 L61.44,74.13 L61.61,74.60 L61.79,74.25 L61.97,74.96 L62.15,75.59 L62.32,76.27 L62.50,77.37 L62.68,76.24 L62.86,77.59 L63.03,77.93 L63.21,78.13 L63.39,78.28 L63.56,79.08 L63.74,78.62 L63.92,78.98 L64.10,78.93 L64.27,79.77 L64.45,77.65 L64.63,79.65 L64.81,78.79 L64.98,78.85 L65.16,78.49 L65.34,78.00 L65.52,78.93 L65.69,78.79 L65.87,79.53 L66.05,78.37 L66.23,80.14 L66.40,79.46 L66.58,79.16 L66.76,78.89 L66.94,78.85 L67.11,78.65 L67.29,79.00 L67.47,79.33 L67.64,79.21 L67.82,78.46 L68.00,79.14 L68.18,78.75 L68.35,79.36 L68.53,80.36 L68.71,79.59 L68.89,79.00 L69.06,78.17 L69.24,78.26 L69.42,78.05 L69.60,79.45 L69.77,78.49 L69.95,78.92 L70.13,78.44 L70.31,78.78 L70.48,79.47 L70.66,78.12 L70.84,78.20 L71.02,77.79 L71.19,78.64 L71.37,77.33 L71.55,77.07 L71.73,76.70 L71.90,76.44 L72.08,77.29 L72.26,78.23 L72.43,75.73 L72.61,76.49 L72.79,75.60 L72.97,74.26 L73.14,74.16 L73.32,73.50 L73.50,72.45 L73.68,73.15 L73.85,69.86 L74.03,70.13 L74.21,68.87 L74.39,66.99 L74.56,66.00 L74.74,64.94 L74.92,63.01 L75.10,61.76 L75.27,60.68 L75.45,58.10 L75.63,59.64 L75.81,60.02 L75.98,59.61 L76.16,60.43 L76.34,60.14 L76.51,62.33 L76.69,63.47 L76.87,65.21 L77.05,67.72 L77.22,68.16 L77.40,69.97 L77.58,70.19 L77.76,72.40 L77.93,73.60 L78.11,74.06 L78.29,74.89 L78.47,77.21 L78.64,76.02 L78.82,76.72 L79.00,77.40 L79.18,79.09 L79.35,80.06 L79.53,79.39 L79.71,79.12 L79.89,79.61 L80.06,80.80 L80.24,79.88 L80.42,81.54 L80.60,81.74 L80.77,81.14 L80.95,81.67 L81.13,81.91 L81.30,82.55 L81.48,81.14 L81.66,82.61 L81.84,81.81 L82.01,81.69 L82.19,82.32 L82.37,82.24 L82.55,81.87 L82.72,81.59 L82.90,82.07 L83.08,83.59 L83.26,83.97 L83.43,83.25 L83.61,83.63 L83.79,82.67 L83.97,83.00 L84.14,83.27 L84.32,82.50 L84.50,82.60 L84.68,83.30 L84.85,83.09 L85.03,82.69 L85.21,83.60 L85.38,83.24 L85.56,84.05 L85.74,83.47 L85.92,83.32 L86.09,83.61 L86.27,83.46 L86.45,83.19 L86.63,83.37 L86.80,84.09 L86.98,84.05 L87.16,84.46 L87.34,82.69 L87.51,83.49 L87.69,83.50 L87.87,83.87 L88.05,83.51 L88.22,83.49 L88.40,84.29 L88.58,83.94 L88.76,83.15 L88.93,84.67 L89.11,84.48 L89.29,83.55 L89.47,84.41 L89.64,83.48 L89.82,84.61 L90.00,83.82 L90.17,83.48 L90.35,83.75 L90.53,83.53 L90.71,84.11 L90.88,84.12 L91.06,84.04 L91.24,83.70 L91.42,81.85 L91.59,84.11 L91.77,82.93 L91.95,84.23 L92.13,84.77 L92.30,84.27 L92.48,83.88 L92.66,84.02 L92.84,84.06 L93.01,83.82 L93.19,83.81 L93.37,83.61 L93.55,84.89 L93.72,84.18 L93.90,84.77 L94.08,84.06 L94.25,84.26 L94.43,84.13 L94.61,84.52 L94.79,84.74 L94.96,84.40 L95.14,83.86 L95.32,83.81 L95.50,85.28 L95.67,84.13 L95.85,84.13 L96.03,85.19 L96.21,84.97 L96.38,84.65 L96.56,84.09 L96.74,85.75 L96.92,84.58 L97.09,84.68 L97.27,84.26 L97.45,83.52 L97.63,83.57 L97.80,84.62 L97.98,84.61 L98.16,84.24 L98.34,83.68 L98.51,83.52 L98.69,84.19 L98.87,83.51 L99.04,84.92 L99.22,85.07 L99.40,86.08 L99.58,84.90 L99.75,84.01 L99.93,83.83 L100.11,82.28 L100.29,83.98 L100.46,84.21 L100.64,84.88 L100.82,84.65 L101.00,84.61 L101.17,84.36 L101.35,84.59 L101.53,85.03 L101.71,83.48 L101.88,83.79 L102.06,83.18 L102.24,84.92 L102.42,84.66 L102.59,84.25 L102.77,82.99 L102.95,83.71 L103.12,83.35 L103.30,83.40 L103.48,83.08 L103.66,83.33 L103.83,82.57 L104.01,83.09 L104.19,82.45 L104.37,81.83 L104.54,81.58 L104.72,80.99 L104.90,81.30 L105.08,80.16 L105.25,79.97 L105.43,79.01 L105.61,77.80 L105.79,78.71 L105.96,77.09 L106.14,77.82 L106.32,77.52 L106.50,76.31 L106.67,76.95 L106.85,77.58 L107.03,77.88 L107.21,78.21 L107.38,79.93 L107.56,79.90 L107.74,80.80 L107.91,80.80 L108.09,81.67 L108.27,81.43 L108.45,82.20 L108.62,82.87 L108.80,82.81 L108.98,82.74 L109.16,82.56 L109.33,83.49 L109.51,83.75 L109.69,83.52 L109.87,83.32 L110.04,84.21 L110.22,85.46 L110.40,83.86 L110.58,84.30 L110.75,84.38 L110.93,82.66 L111.11,84.30 L111.29,83.83 L111.46,85.10 L111.64,84.13 L111.82,83.82 L111.99,84.15 L112.17,84.37 L112.35,83.91 L112.53,84.19 L112.70,83.38 L112.88,84.01 L113.06,84.56 L113.24,85.22 L113.41,84.39 L113.59,84.05 L113.77,84.50 L113.95,84.30 L114.12,84.56 L114.30,84.08 L114.48,83.20 L114.66,83.24 L114.83,82.99 L115.01,82.83 L115.19,82.50 L115.37,81.60 L115.54,80.45 L115.72,80.90 L115.90,79.60 L116.08,80.29 L116.25,79.58 L116.43,77.78 L116.61,78.25 L116.78,77.21 L116.96,75.36 L117.14,74.60 L117.32,72.61 L117.49,68.14 L117.67,66.22 L117.85,61.79 L118.03,56.77 L118.20,51.10 L118.38,43.36 L118.56,36.66 L118.74,31.05 L118.91,28.55 L119.09,30.25 L119.27,34.10 L119.45,40.87 L119.62,48.72 L119.80,54.62 L119.98,60.23 L120.16,63.25 L120.33,67.43 L120.51,70.40 L120.69,73.02 L120.86,74.48 L121.04,76.89 L121.22,77.52 L121.40,78.59 L121.57,79.43 L121.75,80.56 L121.93,80.46 L122.11,81.94 L122.28,81.98 L122.46,82.18 L122.64,82.45 L122.82,83.03 L122.99,83.58 L123.17,83.77 L123.35,83.63 L123.53,84.11 L123.70,83.81 L123.88,84.63 L124.06,83.99 L124.24,82.88 L124.41,85.03 L124.59,84.38 L124.77,83.70 L124.95,84.36 L125.12,84.02 L125.30,85.87 L125.48,84.97 L125.65,83.78 L125.83,85.10 L126.01,84.57 L126.19,86.00 L126.36,84.25 L126.54,83.57 L126.72,84.99 L126.90,84.77 L127.07,84.75 L127.25,83.74 L127.43,85.30 L127.61,86.06 L127.78,83.93 L127.96,85.79 L128.14,84.76 L128.32,86.52 L128.49,85.39 L128.67,85.02 L128.85,85.81 L129.03,85.46 L129.20,84.80 L129.38,85.59 L129.56,84.86 L129.73,84.09 L129.91,86.39 L130.09,84.96 L130.27,84.80 L130.44,85.37 L130.62,84.23 L130.80,84.35 L130.98,84.86 L131.15,84.85 L131.33,85.20 L131.51,85.83 L131.69,84.87 L131.86,85.44 L132.04,85.50 L132.22,84.48 L132.40,85.27 L132.57,84.56 L132.75,85.75 L132.93,85.38 L133.11,85.11 L133.28,84.29 L133.46,85.15 L133.64,84.62 L133.82,85.49 L133.99,84.99 L134.17,84.56 L134.35,85.59 L134.52,85.46 L134.70,84.66 L134.88,85.70 L135.06,84.82 L135.23,84.80 L135.41,85.05 L135.59,84.51 L135.77,84.68 L135.94,84.84 L136.12,85.84 L136.30,85.80 L136.48,84.73 L136.65,85.84 L136.83,84.83 L137.01,85.07 L137.19,85.35 L137.36,84.98 L137.54,86.23 L137.72,84.90 L137.90,84.02 L138.07,85.49 L138.25,84.44 L138.43,84.47 L138.60,82.83 L138.78,85.19 L138.96,85.04 L139.14,84.99 L139.31,85.06 L139.49,85.44 L139.67,84.34 L139.85,84.87 L140.02,83.80 L140.20,83.96 L140.38,84.72 L140.56,84.23 L140.73,83.09 L140.91,83.99 L141.09,83.54 L141.27,83.01 L141.44,83.61 L141.62,82.93 L141.80,82.05 L141.98,82.13 L142.15,83.67 L142.33,81.51 L142.51,82.39 L142.69,82.49 L142.86,82.43 L143.04,81.28 L143.22,81.85 L143.39,82.22 L143.57,82.75 L143.75,82.05 L143.93,81.93 L144.10,83.43 L144.28,83.68 L144.46,83.43 L144.64,83.02 L144.81,83.79 L144.99,83.76 L145.17,84.33 L145.35,83.19 L145.52,84.12 L145.70,84.05 L145.88,83.56 L146.06,84.43 L146.23,84.39 L146.41,84.19 L146.59,84.73 L146.77,83.69 L146.94,84.55 L147.12,84.88 L147.30,84.83 L147.47,85.34 L147.65,84.01 L147.83,83.85 L148.01,84.92 L148.18,85.07 L148.36,86.09 L148.54,85.21 L148.72,84.33 L148.89,85.35 L149.07,84.37 L149.25,84.00 L149.43,86.46 L149.60,85.09 L149.78,85.32 L149.96,85.23 L150.14,85.97 L150.31,85.04 L150.49,85.59 L150.67,84.22 L150.85,83.97 L151.02,85.63 L151.20,85.61 L151.38,84.98 L151.56,84.75 L151.73,84.63 L151.91,84.03 L152.09,85.25 L152.26,84.60 L152.44,84.36 L152.62,84.12 L152.80,84.35 L152.97,83.85 L153.15,83.83 L153.33,82.55 L153.51,83.48 L153.68,84.47 L153.86,82.90 L154.04,83.25 L154.22,84.03 L154.39,84.27 L154.57,84.28 L154.75,83.15 L154.93,84.62 L155.10,83.79 L155.28,84.17 L155.46,85.14 L155.64,84.76 L155.81,85.54 L155.99,87.05 L156.17,85.72 L156.34,85.77 L156.52,84.87 L156.70,85.09 L156.88,84.89 L157.05,85.27 L157.23,84.98 L157.41,85.29 L157.59,85.60 L157.76,85.16 L157.94,84.95 L158.12,85.02 L158.30,86.14 L158.47,85.94 L158.65,86.55 L158.83,86.59 L159.01,85.78 L159.18,86.41 L159.36,85.17 L159.54,87.43 L159.72,86.80 L159.89,85.97 L160.07,85.43 L160.25,86.37 L160.43,85.04 L160.60,85.72 L160.78,86.65 L160.96,86.27 L161.13,85.94 L161.31,86.83 L161.49,85.65 L161.67,86.46 L161.84,86.01 L162.02,85.81 L162.20,86.61 L162.38,85.75 L162.55,87.51 L162.73,86.03 L162.91,87.59 L163.09,85.75 L163.26,86.78 L163.44,85.71 L163.62,85.64 L163.80,86.55 L163.97,86.87 L164.15,85.71 L164.33,87.20 L164.51,86.02 L164.68,86.59 L164.86,86.75 L165.04,86.89 L165.21,85.46 L165.39,87.52 L165.57,86.90 L165.75,86.31 L165.92,85.96 L166.10,85.57 L166.28,85.78 L166.46,86.93 L166.63,86.40 L166.81,85.93 L166.99,86.30 L167.17,87.56 L167.34,86.43 L167.52,86.29 L167.70,87.45 L167.88,86.92 L168.05,86.68 L168.23,86.29 L168.41,85.72 L168.59,85.95 L168.76,86.37 L168.94,86.53 L169.12,86.87 L169.30,86.99 L169.47,86.79 L169.65,86.78 L169.83,86.04 L170.00,85.35 L170.18,86.32 L170.36,86.05 L170.54,86.22 L170.71,86.43 L170.89,85.84 L171.07,85.90 L171.25,86.48 L171.42,86.58 L171.60,86.08 L171.78,86.74 L171.96,86.26 L172.13,85.73 L172.31,86.30 L172.49,87.33 L172.67,85.72 L172.84,86.73 L173.02,86.75 L173.20,86.71 L173.38,85.21 L173.55,86.81 L173.73,85.58 L173.91,85.30 L174.08,85.30 L174.26,85.83 L174.44,85.56 L174.62,85.52 L174.79,86.51 L174.97,85.42 L175.15,85.35 L175.33,86.56 L175.50,86.61 L175.68,86.94 L175.86,85.72 L176.04,87.08 L176.21,86.79 L176.39,87.61 L176.57,85.85 L176.75,86.77 L176.92,86.51 L177.10,85.76 L177.28,86.31 L177.46,87.45 L177.63,86.51 L177.81,86.38 L177.99,87.35 L178.17,87.44 L178.34,87.46 L178.52,86.41 L178.70,86.86 L178.87,87.52 L179.05,86.52 L179.23,86.48 L179.41,87.43 L179.58,87.88 L179.76,86.26 L179.94,85.40 L180.12,86.10 L180.29,86.37 L180.47,86.90 L180.65,87.36 L180.83,86.91 L181.00,86.58 L181.18,87.10 L181.36,86.44 L181.54,86.99 L181.71,86.64 L181.89,88.64 L182.07,87.52 L182.25,86.54 L182.42,86.45 L182.60,86.78 L182.78,86.07 L182.95,86.62 L183.13,86.62 L183.31,87.59 L183.49,86.81 L183.66,86.60 L183.84,86.27 L184.02,86.37 L184.20,87.04 L184.37,86.96 L184.55,87.77 L184.73,86.71 L184.91,87.73 L185.08,87.25 L185.26,87.10 L185.44,85.90 L185.62,86.33 L185.79,87.55 L185.97,87.95 L186.15,87.24 L186.33,87.58 L186.50,86.88 L186.68,86.90 L186.86,86.73 L187.04,87.71 L187.21,87.34 L187.39,86.99 L187.57,86.94 L187.74,87.47 L187.92,87.33 L188.10,86.64 L188.28,88.18 L188.45,87.30 L188.63,87.16 L188.81,88.04 L188.99,87.77 L189.16,87.10 L189.34,87.48 L189.52,86.52 L189.70,86.78 L189.87,85.81 L190.05,87.90 L190.23,86.03 L190.41,87.58 L190.58,86.68 L190.76,86.59 L190.94,87.06 L191.12,87.34 L191.29,87.55 L191.47,88.25 L191.65,87.40 L191.82,87.72 L192.00,86.83 L192.18,87.62 L192.36,87.29 L192.53,86.92 L192.71,87.14 L192.89,87.16 L193.07,87.31 L193.24,87.44 L193.42,86.90 L193.60,86.76 L193.78,87.65 L193.95,86.19 L194.13,86.84 L194.31,88.14 L194.49,85.59 L194.66,86.80 L194.84,87.63 L195.02,86.22 L195.20,88.77 L195.37,85.66 L195.55,88.08 L195.73,88.15 L195.91,87.77 L196.08,87.09 L196.26,87.43 L196.44,86.68 L196.61,87.70 L196.79,86.55 L196.97,87.05 L197.15,87.82 L197.32,86.55 L197.50,87.00 L197.68,87.32 L197.86,86.41 L198.03,87.91 L198.21,87.42 L198.39,86.30 L198.57,87.18 L198.74,86.74 L198.92,86.81 L199.10,87.24 L199.28,86.77 L199.45,87.77 L199.63,86.76 L199.81,87.76 L199.99,87.14 L200.16,87.67 L200.34,86.83 L200.52,86.84 L200.69,86.44 L200.87,87.46 L201.05,87.66 L201.23,88.35 L201.40,87.83 L201.58,87.18 L201.76,86.88 L201.94,87.20 L202.11,86.91 L202.29,87.76 L202.47,87.40 L202.65,86.27 L202.82,86.29 L203.00,87.45 L203.18,86.72 L203.36,86.30 L203.53,87.04 L203.71,85.98 L203.89,85.93 L204.07,85.72 L204.24,84.74 L204.42,86.39 L204.60,85.14 L204.78,85.57 L204.95,85.53 L205.13,86.52 L205.31,86.15 L205.48,86.32 L205.66,85.42 L205.84,86.48 L206.02,85.75 L206.19,86.91 L206.37,87.02 L206.55,86.85 L206.73,88.15 L206.90,87.29 L207.08,87.38 L207.26,87.14 L207.44,86.98 L207.61,87.70 L207.79,87.81 L207.97,86.39 L208.15,87.83 L208.32,87.52 L208.50,87.81 L208.68,87.53 L208.86,86.51 L209.03,86.57 L209.21,88.38 L209.39,87.45 L209.56,86.46 L209.74,87.53 L209.92,87.11 L210.10,86.23 L210.27,85.97 L210.45,86.39 L210.63,87.52 L210.81,87.33 L210.98,87.22 L211.16,87.55 L211.34,87.74 L211.52,86.12 L211.69,87.21 L211.87,86.90 L212.05,86.66 L212.23,87.08 L212.40,87.34 L212.58,87.25 L212.76,86.54 L212.94,87.13 L213.11,88.63 L213.29,86.80 L213.47,86.42 L213.65,87.60 L213.82,87.80 L214.00,87.72" fill="none" stroke="#6b9bd2" stroke-width="1.35" stroke-linejoin="round"/>
<path d="M36.60,120.38 L36.78,120.55 L36.95,120.21 L37.13,119.83 L37.31,120.09 L37.49,119.77 L37.66,120.40 L37.84,121.16 L38.02,120.06 L38.20,119.98 L38.37,120.64 L38.55,120.55 L38.73,120.40 L38.91,119.77 L39.08,120.31 L39.26,120.73 L39.44,119.50 L39.62,120.03 L39.79,119.16 L39.97,119.52 L40.15,119.18 L40.33,120.13 L40.50,119.50 L40.68,120.41 L40.86,120.33 L41.03,120.11 L41.21,118.70 L41.39,119.87 L41.57,120.15 L41.74,120.22 L41.92,119.22 L42.10,119.82 L42.28,119.49 L42.45,119.57 L42.63,120.65 L42.81,119.49 L42.99,119.91 L43.16,120.41 L43.34,119.47 L43.52,119.68 L43.70,119.73 L43.87,119.60 L44.05,118.70 L44.23,119.34 L44.41,119.93 L44.58,117.97 L44.76,119.15 L44.94,118.36 L45.12,117.48 L45.29,118.52 L45.47,117.10 L45.65,115.10 L45.82,114.92 L46.00,114.26 L46.18,113.06 L46.36,113.29 L46.53,113.12 L46.71,114.31 L46.89,115.72 L47.07,115.39 L47.24,116.73 L47.42,117.00 L47.60,117.90 L47.78,117.53 L47.95,118.23 L48.13,118.72 L48.31,119.59 L48.49,119.91 L48.66,118.56 L48.84,118.99 L49.02,119.95 L49.20,118.44 L49.37,119.42 L49.55,119.70 L49.73,120.55 L49.90,120.25 L50.08,119.67 L50.26,119.67 L50.44,119.76 L50.61,120.84 L50.79,119.68 L50.97,119.77 L51.15,120.17 L51.32,119.88 L51.50,119.84 L51.68,119.29 L51.86,119.95 L52.03,119.68 L52.21,120.64 L52.39,120.32 L52.57,119.90 L52.74,120.29 L52.92,119.67 L53.10,120.48 L53.28,119.82 L53.45,120.14 L53.63,118.99 L53.81,119.93 L53.99,118.67 L54.16,118.41 L54.34,119.39 L54.52,118.97 L54.69,119.54 L54.87,120.70 L55.05,118.76 L55.23,118.77 L55.40,119.14 L55.58,119.16 L55.76,118.59 L55.94,118.36 L56.11,118.65 L56.29,118.24 L56.47,116.93 L56.65,117.03 L56.82,116.51 L57.00,115.09 L57.18,114.87 L57.36,112.84 L57.53,112.05 L57.71,108.85 L57.89,104.72 L58.07,97.99 L58.24,88.20 L58.42,71.46 L58.60,52.28 L58.77,42.39 L58.95,51.63 L59.13,73.06 L59.31,87.06 L59.48,98.57 L59.66,103.87 L59.84,108.84 L60.02,111.08 L60.19,111.86 L60.37,114.76 L60.55,115.72 L60.73,115.36 L60.90,115.55 L61.08,115.71 L61.26,115.08 L61.44,115.91 L61.61,114.15 L61.79,113.23 L61.97,111.13 L62.15,109.56 L62.32,108.47 L62.50,110.92 L62.68,111.99 L62.86,114.57 L63.03,115.50 L63.21,116.16 L63.39,117.15 L63.56,117.57 L63.74,118.33 L63.92,118.41 L64.10,118.69 L64.27,118.24 L64.45,118.73 L64.63,120.33 L64.81,119.04 L64.98,118.90 L65.16,119.80 L65.34,120.51 L65.52,118.84 L65.69,119.64 L65.87,119.42 L66.05,118.78 L66.23,120.30 L66.40,119.87 L66.58,119.95 L66.76,119.48 L66.94,120.22 L67.11,119.64 L67.29,119.88 L67.47,119.32 L67.64,119.26 L67.82,120.79 L68.00,119.69 L68.18,120.17 L68.35,119.98 L68.53,119.73 L68.71,119.69 L68.89,120.37 L69.06,119.80 L69.24,119.88 L69.42,119.97 L69.60,120.65 L69.77,120.34 L69.95,120.14 L70.13,119.55 L70.31,119.04 L70.48,120.41 L70.66,120.39 L70.84,119.69 L71.02,120.06 L71.19,120.16 L71.37,120.14 L71.55,120.13 L71.73,119.24 L71.90,120.34 L72.08,118.60 L72.26,119.76 L72.43,119.42 L72.61,119.51 L72.79,119.95 L72.97,119.52 L73.14,117.71 L73.32,117.10 L73.50,118.26 L73.68,116.73 L73.85,116.80 L74.03,116.62 L74.21,114.24 L74.39,112.77 L74.56,112.56 L74.74,110.15 L74.92,106.67 L75.10,101.92 L75.27,93.95 L75.45,82.62 L75.63,69.61 L75.81,58.74 L75.98,60.74 L76.16,74.72 L76.34,87.56 L76.51,97.54 L76.69,103.19 L76.87,107.69 L77.05,110.40 L77.22,112.50 L77.40,114.62 L77.58,115.11 L77.76,116.62 L77.93,117.24 L78.11,118.75 L78.29,117.10 L78.47,118.79 L78.64,118.48 L78.82,118.74 L79.00,118.07 L79.18,118.82 L79.35,119.68 L79.53,119.30 L79.71,119.50 L79.89,119.37 L80.06,120.31 L80.24,119.68 L80.42,118.43 L80.60,119.39 L80.77,118.67 L80.95,117.95 L81.13,119.62 L81.30,120.78 L81.48,120.04 L81.66,119.33 L81.84,119.50 L82.01,120.77 L82.19,120.21 L82.37,120.16 L82.55,120.12 L82.72,120.19 L82.90,120.67 L83.08,120.53 L83.26,120.35 L83.43,119.60 L83.61,120.55 L83.79,119.84 L83.97,120.92 L84.14,119.51 L84.32,120.20 L84.50,120.29 L84.68,119.50 L84.85,121.34 L85.03,121.19 L85.21,120.04 L85.38,120.79 L85.56,120.56 L85.74,118.77 L85.92,120.49 L86.09,120.31 L86.27,120.40 L86.45,119.71 L86.63,120.19 L86.80,120.25 L86.98,121.08 L87.16,120.57 L87.34,120.36 L87.51,121.29 L87.69,120.04 L87.87,120.14 L88.05,119.29 L88.22,121.32 L88.40,120.96 L88.58,120.93 L88.76,120.78 L88.93,120.45 L89.11,120.51 L89.29,120.23 L89.47,120.26 L89.64,120.41 L89.82,121.29 L90.00,120.71 L90.17,120.34 L90.35,120.03 L90.53,119.99 L90.71,121.34 L90.88,120.68 L91.06,120.41 L91.24,120.16 L91.42,119.70 L91.59,120.32 L91.77,120.88 L91.95,120.12 L92.13,120.21 L92.30,120.21 L92.48,120.41 L92.66,119.38 L92.84,120.19 L93.01,119.81 L93.19,120.84 L93.37,119.84 L93.55,120.64 L93.72,121.20 L93.90,120.09 L94.08,119.90 L94.25,120.37 L94.43,120.23 L94.61,119.62 L94.79,120.48 L94.96,121.39 L95.14,120.00 L95.32,120.01 L95.50,119.47 L95.67,120.26 L95.85,119.28 L96.03,119.32 L96.21,120.69 L96.38,119.32 L96.56,120.44 L96.74,120.61 L96.92,119.74 L97.09,119.79 L97.27,120.47 L97.45,118.98 L97.63,118.51 L97.80,117.78 L97.98,118.29 L98.16,118.82 L98.34,118.18 L98.51,116.80 L98.69,116.76 L98.87,117.05 L99.04,117.74 L99.22,117.75 L99.40,118.32 L99.58,118.66 L99.75,118.56 L99.93,118.93 L100.11,119.25 L100.29,119.21 L100.46,119.67 L100.64,120.57 L100.82,119.86 L101.00,119.59 L101.17,118.57 L101.35,119.84 L101.53,118.44 L101.71,118.76 L101.88,120.11 L102.06,120.00 L102.24,119.46 L102.42,118.49 L102.59,119.24 L102.77,119.00 L102.95,119.72 L103.12,120.60 L103.30,119.28 L103.48,118.56 L103.66,118.18 L103.83,118.67 L104.01,118.39 L104.19,117.55 L104.37,117.99 L104.54,116.84 L104.72,117.70 L104.90,117.05 L105.08,116.27 L105.25,114.31 L105.43,113.59 L105.61,111.55 L105.79,109.38 L105.96,107.20 L106.14,104.63 L106.32,103.41 L106.50,104.98 L106.67,105.87 L106.85,108.23 L107.03,110.86 L107.21,111.10 L107.38,113.19 L107.56,114.96 L107.74,116.02 L107.91,116.27 L108.09,117.67 L108.27,117.62 L108.45,117.11 L108.62,117.56 L108.80,118.82 L108.98,118.80 L109.16,117.52 L109.33,119.59 L109.51,119.24 L109.69,119.76 L109.87,118.79 L110.04,118.89 L110.22,118.43 L110.40,120.66 L110.58,119.05 L110.75,120.12 L110.93,118.78 L111.11,119.26 L111.29,118.15 L111.46,118.91 L111.64,119.71 L111.82,118.34 L111.99,119.70 L112.17,119.22 L112.35,118.35 L112.53,118.62 L112.70,118.59 L112.88,118.77 L113.06,118.41 L113.24,118.15 L113.41,118.38 L113.59,117.85 L113.77,117.59 L113.95,118.21 L114.12,118.64 L114.30,117.05 L114.48,117.81 L114.66,117.25 L114.83,116.86 L115.01,117.74 L115.19,116.68 L115.37,117.63 L115.54,115.96 L115.72,116.33 L115.90,115.59 L116.08,114.85 L116.25,115.17 L116.43,114.17 L116.61,113.99 L116.78,112.85 L116.96,111.34 L117.14,110.86 L117.32,109.64 L117.49,108.52 L117.67,105.25 L117.85,102.87 L118.03,97.78 L118.20,93.18 L118.38,82.86 L118.56,67.81 L118.74,47.17 L118.91,24.63 L119.09,18.35 L119.27,38.24 L119.45,62.00 L119.62,78.67 L119.80,90.37 L119.98,96.59 L120.16,101.26 L120.33,105.28 L120.51,106.84 L120.69,109.36 L120.86,109.93 L121.04,110.92 L121.22,111.49 L121.40,114.50 L121.57,113.86 L121.75,114.77 L121.93,115.10 L122.11,115.65 L122.28,115.97 L122.46,117.41 L122.64,115.94 L122.82,115.88 L122.99,116.43 L123.17,116.43 L123.35,117.84 L123.53,118.01 L123.70,117.04 L123.88,116.85 L124.06,117.50 L124.24,118.54 L124.41,115.95 L124.59,117.85 L124.77,116.74 L124.95,117.85 L125.12,116.47 L125.30,116.95 L125.48,116.37 L125.65,116.96 L125.83,118.70 L126.01,118.67 L126.19,118.22 L126.36,118.17 L126.54,117.75 L126.72,118.81 L126.90,119.16 L127.07,119.24 L127.25,119.34 L127.43,118.80 L127.61,119.51 L127.78,119.59 L127.96,120.44 L128.14,120.84 L128.32,119.69 L128.49,119.35 L128.67,119.81 L128.85,119.52 L129.03,119.47 L129.20,119.91 L129.38,119.35 L129.56,120.37 L129.73,119.97 L129.91,120.20 L130.09,119.96 L130.27,119.66 L130.44,119.54 L130.62,119.99 L130.80,119.82 L130.98,120.30 L131.15,120.18 L131.33,119.38 L131.51,120.25 L131.69,119.41 L131.86,119.86 L132.04,120.07 L132.22,119.01 L132.40,120.32 L132.57,120.36 L132.75,120.19 L132.93,120.04 L133.11,120.08 L133.28,119.72 L133.46,120.15 L133.64,119.99 L133.82,120.38 L133.99,119.61 L134.17,120.48 L134.35,120.43 L134.52,120.26 L134.70,120.09 L134.88,120.68 L135.06,119.36 L135.23,120.63 L135.41,120.51 L135.59,120.53 L135.77,120.59 L135.94,119.97 L136.12,120.21 L136.30,120.74 L136.48,120.62 L136.65,120.48 L136.83,119.45 L137.01,120.67 L137.19,121.05 L137.36,120.95 L137.54,120.47 L137.72,119.39 L137.90,120.88 L138.07,120.22 L138.25,118.77 L138.43,120.51 L138.60,119.37 L138.78,119.47 L138.96,119.84 L139.14,120.96 L139.31,119.95 L139.49,120.30 L139.67,121.15 L139.85,121.01 L140.02,119.94 L140.20,119.80 L140.38,119.12 L140.56,119.38 L140.73,119.95 L140.91,119.81 L141.09,119.49 L141.27,119.84 L141.44,118.55 L141.62,118.70 L141.80,118.82 L141.98,118.28 L142.15,118.01 L142.33,116.93 L142.51,115.72 L142.69,115.34 L142.86,113.88 L143.04,113.23 L143.22,114.74 L143.39,114.89 L143.57,115.80 L143.75,115.25 L143.93,116.60 L144.10,116.85 L144.28,116.95 L144.46,116.23 L144.64,117.36 L144.81,117.95 L144.99,117.38 L145.17,116.42 L145.35,116.38 L145.52,116.54 L145.70,114.35 L145.88,116.15 L146.06,117.01 L146.23,117.64 L146.41,118.80 L146.59,118.93 L146.77,118.82 L146.94,119.13 L147.12,119.67 L147.30,119.07 L147.47,119.53 L147.65,120.22 L147.83,120.95 L148.01,119.77 L148.18,119.90 L148.36,120.10 L148.54,120.83 L148.72,120.05 L148.89,120.97 L149.07,119.53 L149.25,120.02 L149.43,120.02 L149.60,120.62 L149.78,120.77 L149.96,119.23 L150.14,119.57 L150.31,120.31 L150.49,119.68 L150.67,119.13 L150.85,120.62 L151.02,120.24 L151.20,120.17 L151.38,119.51 L151.56,120.31 L151.73,119.41 L151.91,120.05 L152.09,118.64 L152.26,118.41 L152.44,118.71 L152.62,117.74 L152.80,118.03 L152.97,117.13 L153.15,115.67 L153.33,115.52 L153.51,114.67 L153.68,115.20 L153.86,114.51 L154.04,115.23 L154.22,116.98 L154.39,118.35 L154.57,118.87 L154.75,118.26 L154.93,118.78 L155.10,119.92 L155.28,119.20 L155.46,118.90 L155.64,119.73 L155.81,120.08 L155.99,119.43 L156.17,119.03 L156.34,119.24 L156.52,120.57 L156.70,119.77 L156.88,120.19 L157.05,120.45 L157.23,120.73 L157.41,120.19 L157.59,120.72 L157.76,119.91 L157.94,120.25 L158.12,119.87 L158.30,121.19 L158.47,120.51 L158.65,120.10 L158.83,120.34 L159.01,120.43 L159.18,121.00 L159.36,119.63 L159.54,119.97 L159.72,120.38 L159.89,122.13 L160.07,121.19 L160.25,120.56 L160.43,121.06 L160.60,121.87 L160.78,120.50 L160.96,120.43 L161.13,121.38 L161.31,120.96 L161.49,121.07 L161.67,120.36 L161.84,121.82 L162.02,121.70 L162.20,121.02 L162.38,121.09 L162.55,119.47 L162.73,121.07 L162.91,120.57 L163.09,120.95 L163.26,121.10 L163.44,120.49 L163.62,119.68 L163.80,120.91 L163.97,120.25 L164.15,120.50 L164.33,120.33 L164.51,120.49 L164.68,119.31 L164.86,121.43 L165.04,120.85 L165.21,121.36 L165.39,121.88 L165.57,120.71 L165.75,119.61 L165.92,120.16 L166.10,119.97 L166.28,120.39 L166.46,120.74 L166.63,119.48 L166.81,120.89 L166.99,119.77 L167.17,120.86 L167.34,120.61 L167.52,120.48 L167.70,120.62 L167.88,120.34 L168.05,120.29 L168.23,119.64 L168.41,120.62 L168.59,121.74 L168.76,121.81 L168.94,121.41 L169.12,121.03 L169.30,120.18 L169.47,121.44 L169.65,120.53 L169.83,120.50 L170.00,120.35 L170.18,120.55 L170.36,120.21 L170.54,120.39 L170.71,119.76 L170.89,120.14 L171.07,121.69 L171.25,120.22 L171.42,120.05 L171.60,120.44 L171.78,120.45 L171.96,119.24 L172.13,119.65 L172.31,120.15 L172.49,119.55 L172.67,119.19 L172.84,119.70 L173.02,117.93 L173.20,117.85 L173.38,116.83 L173.55,117.28 L173.73,114.46 L173.91,114.63 L174.08,114.48 L174.26,115.43 L174.44,115.99 L174.62,117.22 L174.79,116.19 L174.97,118.25 L175.15,118.16 L175.33,118.37 L175.50,119.43 L175.68,118.83 L175.86,118.35 L176.04,119.54 L176.21,119.00 L176.39,119.62 L176.57,120.33 L176.75,120.37 L176.92,121.20 L177.10,120.18 L177.28,119.43 L177.46,119.93 L177.63,119.86 L177.81,119.71 L177.99,120.73 L178.17,120.10 L178.34,119.31 L178.52,120.93 L178.70,120.46 L178.87,120.75 L179.05,120.60 L179.23,120.92 L179.41,120.57 L179.58,121.28 L179.76,120.79 L179.94,120.77 L180.12,120.77 L180.29,119.64 L180.47,120.40 L180.65,120.33 L180.83,120.58 L181.00,119.62 L181.18,121.38 L181.36,120.42 L181.54,119.59 L181.71,119.23 L181.89,120.02 L182.07,120.04 L182.25,119.56 L182.42,119.91 L182.60,119.30 L182.78,119.80 L182.95,118.76 L183.13,118.82 L183.31,119.00 L183.49,119.44 L183.66,116.71 L183.84,116.50 L184.02,115.90 L184.20,116.82 L184.37,115.94 L184.55,116.85 L184.73,117.70 L184.91,117.68 L185.08,118.16 L185.26,118.83 L185.44,118.15 L185.62,118.79 L185.79,119.59 L185.97,120.08 L186.15,120.00 L186.33,119.15 L186.50,120.02 L186.68,120.84 L186.86,120.76 L187.04,120.42 L187.21,119.98 L187.39,120.92 L187.57,120.23 L187.74,119.90 L187.92,120.15 L188.10,121.52 L188.28,120.80 L188.45,121.38 L188.63,120.41 L188.81,121.27 L188.99,120.36 L189.16,120.64 L189.34,122.23 L189.52,121.21 L189.70,120.46 L189.87,120.71 L190.05,120.97 L190.23,121.50 L190.41,120.49 L190.58,119.74 L190.76,120.63 L190.94,120.81 L191.12,120.87 L191.29,121.60 L191.47,121.00 L191.65,121.30 L191.82,120.16 L192.00,121.34 L192.18,122.08 L192.36,121.29 L192.53,120.98 L192.71,120.92 L192.89,121.90 L193.07,120.28 L193.24,120.77 L193.42,121.11 L193.60,121.28 L193.78,120.58 L193.95,121.02 L194.13,120.67 L194.31,120.91 L194.49,120.76 L194.66,120.16 L194.84,120.83 L195.02,121.37 L195.20,120.26 L195.37,120.70 L195.55,121.24 L195.73,120.20 L195.91,120.95 L196.08,120.21 L196.26,121.52 L196.44,122.23 L196.61,122.05 L196.79,120.71 L196.97,121.28 L197.15,120.91 L197.32,120.89 L197.50,121.76 L197.68,120.04 L197.86,121.46 L198.03,120.79 L198.21,121.66 L198.39,120.93 L198.57,120.41 L198.74,120.97 L198.92,121.24 L199.10,120.81 L199.28,121.08 L199.45,120.46 L199.63,119.49 L199.81,121.30 L199.99,121.17 L200.16,120.82 L200.34,120.76 L200.52,121.33 L200.69,120.41 L200.87,120.24 L201.05,120.53 L201.23,121.33 L201.40,119.75 L201.58,121.26 L201.76,120.12 L201.94,119.79 L202.11,121.15 L202.29,120.26 L202.47,119.45 L202.65,119.91 L202.82,120.56 L203.00,120.56 L203.18,119.40 L203.36,119.66 L203.53,119.57 L203.71,118.42 L203.89,118.64 L204.07,118.03 L204.24,117.38 L204.42,117.19 L204.60,117.49 L204.78,117.64 L204.95,117.59 L205.13,118.05 L205.31,119.36 L205.48,119.17 L205.66,119.87 L205.84,120.31 L206.02,120.15 L206.19,121.33 L206.37,119.61 L206.55,120.70 L206.73,120.12 L206.90,121.50 L207.08,121.48 L207.26,119.34 L207.44,119.98 L207.61,121.00 L207.79,121.11 L207.97,121.11 L208.15,120.65 L208.32,120.99 L208.50,121.13 L208.68,120.71 L208.86,121.39 L209.03,119.43 L209.21,121.18 L209.39,120.19 L209.56,121.40 L209.74,120.69 L209.92,120.31 L210.10,121.07 L210.27,120.31 L210.45,120.31 L210.63,119.93 L210.81,120.86 L210.98,121.18 L211.16,121.50 L211.34,120.81 L211.52,121.52 L211.69,120.91 L211.87,120.85 L212.05,121.25 L212.23,121.55 L212.40,120.71 L212.58,120.77 L212.76,120.82 L212.94,120.97 L213.11,120.39 L213.29,121.55 L213.47,120.69 L213.65,121.21 L213.82,120.44 L214.00,121.15" fill="none" stroke="#7d7d7d" stroke-width="1.2" stroke-linejoin="round"/>
<path d="M36.60,104.59 L36.78,104.10 L36.95,105.56 L37.13,104.57 L37.31,105.41 L37.49,104.91 L37.66,103.94 L37.84,104.10 L38.02,104.59 L38.20,104.36 L38.37,104.35 L38.55,104.14 L38.73,103.22 L38.91,104.17 L39.08,102.97 L39.26,104.51 L39.44,103.85 L39.62,103.84 L39.79,104.13 L39.97,104.42 L40.15,103.39 L40.33,103.18 L40.50,103.58 L40.68,102.98 L40.86,103.61 L41.03,105.13 L41.21,103.52 L41.39,104.53 L41.57,103.29 L41.74,104.27 L41.92,103.87 L42.10,104.00 L42.28,104.34 L42.45,105.01 L42.63,104.03 L42.81,103.94 L42.99,103.22 L43.16,104.09 L43.34,103.51 L43.52,104.07 L43.70,103.44 L43.87,104.38 L44.05,102.00 L44.23,102.82 L44.41,103.31 L44.58,102.29 L44.76,101.68 L44.94,101.57 L45.12,100.36 L45.29,100.57 L45.47,101.10 L45.65,99.28 L45.82,96.73 L46.00,95.66 L46.18,94.99 L46.36,95.47 L46.53,94.73 L46.71,95.75 L46.89,97.89 L47.07,99.07 L47.24,99.36 L47.42,99.76 L47.60,100.18 L47.78,101.23 L47.95,100.73 L48.13,102.85 L48.31,102.28 L48.49,103.16 L48.66,104.17 L48.84,103.89 L49.02,102.61 L49.20,103.91 L49.37,104.17 L49.55,103.09 L49.73,103.01 L49.90,103.56 L50.08,102.70 L50.26,104.57 L50.44,102.27 L50.61,103.07 L50.79,103.58 L50.97,103.61 L51.15,103.85 L51.32,103.92 L51.50,103.62 L51.68,104.43 L51.86,102.45 L52.03,103.72 L52.21,103.28 L52.39,103.77 L52.57,103.80 L52.74,103.10 L52.92,103.23 L53.10,104.06 L53.28,103.76 L53.45,103.10 L53.63,104.69 L53.81,104.80 L53.99,102.48 L54.16,103.48 L54.34,104.73 L54.52,103.62 L54.69,103.20 L54.87,102.84 L55.05,102.53 L55.23,102.60 L55.40,102.26 L55.58,102.87 L55.76,101.99 L55.94,101.73 L56.11,101.01 L56.29,101.37 L56.47,100.47 L56.65,100.40 L56.82,100.52 L57.00,99.32 L57.18,98.36 L57.36,96.88 L57.53,94.76 L57.71,91.87 L57.89,87.61 L58.07,81.82 L58.24,70.48 L58.42,56.10 L58.60,35.33 L58.77,23.91 L58.95,34.90 L59.13,54.65 L59.31,70.87 L59.48,80.44 L59.66,87.84 L59.84,90.68 L60.02,92.39 L60.19,95.05 L60.37,95.43 L60.55,97.35 L60.73,98.43 L60.90,98.33 L61.08,96.99 L61.26,96.88 L61.44,97.55 L61.61,95.27 L61.79,92.99 L61.97,90.86 L62.15,88.91 L62.32,87.01 L62.50,87.73 L62.68,90.86 L62.86,94.01 L63.03,95.61 L63.21,97.02 L63.39,98.88 L63.56,99.13 L63.74,100.28 L63.92,100.84 L64.10,102.54 L64.27,100.90 L64.45,101.55 L64.63,101.70 L64.81,102.20 L64.98,102.68 L65.16,101.85 L65.34,101.73 L65.52,101.30 L65.69,101.79 L65.87,102.71 L66.05,102.46 L66.23,101.85 L66.40,102.27 L66.58,102.54 L66.76,102.84 L66.94,102.20 L67.11,102.42 L67.29,101.49 L67.47,101.90 L67.64,103.57 L67.82,101.30 L68.00,102.41 L68.18,102.75 L68.35,102.40 L68.53,102.14 L68.71,102.58 L68.89,102.62 L69.06,102.57 L69.24,101.48 L69.42,102.51 L69.60,102.08 L69.77,102.26 L69.95,102.71 L70.13,102.94 L70.31,103.08 L70.48,102.22 L70.66,103.05 L70.84,103.18 L71.02,103.12 L71.19,103.24 L71.37,102.28 L71.55,102.21 L71.73,102.76 L71.90,101.38 L72.08,102.25 L72.26,101.72 L72.43,101.71 L72.61,100.77 L72.79,101.13 L72.97,101.48 L73.14,101.81 L73.32,101.62 L73.50,100.65 L73.68,100.19 L73.85,99.30 L74.03,99.39 L74.21,98.16 L74.39,97.53 L74.56,96.66 L74.74,93.40 L74.92,89.34 L75.10,84.98 L75.27,77.44 L75.45,67.03 L75.63,55.18 L75.81,44.49 L75.98,45.79 L76.16,59.40 L76.34,72.54 L76.51,80.97 L76.69,87.07 L76.87,91.46 L77.05,94.67 L77.22,96.87 L77.40,98.64 L77.58,99.72 L77.76,100.52 L77.93,101.26 L78.11,101.34 L78.29,100.43 L78.47,101.61 L78.64,102.15 L78.82,101.97 L79.00,102.94 L79.18,102.36 L79.35,102.17 L79.53,103.72 L79.71,103.37 L79.89,103.21 L80.06,103.73 L80.24,103.89 L80.42,103.54 L80.60,101.93 L80.77,103.06 L80.95,103.26 L81.13,102.99 L81.30,103.76 L81.48,104.40 L81.66,103.44 L81.84,103.09 L82.01,105.03 L82.19,103.58 L82.37,103.15 L82.55,104.06 L82.72,104.21 L82.90,103.56 L83.08,104.49 L83.26,103.75 L83.43,103.52 L83.61,104.20 L83.79,104.58 L83.97,103.76 L84.14,104.36 L84.32,104.13 L84.50,105.90 L84.68,103.80 L84.85,105.08 L85.03,104.23 L85.21,104.21 L85.38,104.73 L85.56,104.85 L85.74,105.09 L85.92,104.54 L86.09,104.00 L86.27,104.05 L86.45,104.69 L86.63,104.75 L86.80,105.25 L86.98,104.68 L87.16,105.07 L87.34,105.36 L87.51,104.56 L87.69,103.58 L87.87,103.77 L88.05,103.62 L88.22,105.45 L88.40,103.99 L88.58,105.25 L88.76,104.87 L88.93,105.55 L89.11,105.13 L89.29,104.47 L89.47,104.42 L89.64,104.60 L89.82,104.65 L90.00,104.24 L90.17,104.54 L90.35,105.53 L90.53,103.54 L90.71,104.72 L90.88,104.02 L91.06,104.68 L91.24,105.08 L91.42,104.54 L91.59,105.04 L91.77,103.62 L91.95,105.24 L92.13,104.21 L92.30,104.94 L92.48,104.68 L92.66,103.01 L92.84,104.11 L93.01,104.69 L93.19,105.48 L93.37,104.72 L93.55,104.69 L93.72,103.68 L93.90,105.38 L94.08,105.59 L94.25,104.51 L94.43,104.35 L94.61,103.50 L94.79,104.98 L94.96,106.05 L95.14,104.84 L95.32,105.14 L95.50,104.68 L95.67,103.73 L95.85,105.08 L96.03,103.49 L96.21,104.05 L96.38,104.28 L96.56,104.57 L96.74,104.20 L96.92,104.07 L97.09,103.25 L97.27,102.77 L97.45,103.39 L97.63,102.69 L97.80,102.05 L97.98,101.75 L98.16,101.88 L98.34,100.73 L98.51,100.80 L98.69,100.53 L98.87,101.69 L99.04,102.04 L99.22,103.29 L99.40,101.51 L99.58,102.29 L99.75,103.50 L99.93,103.02 L100.11,103.12 L100.29,104.47 L100.46,103.34 L100.64,102.92 L100.82,102.88 L101.00,103.91 L101.17,103.91 L101.35,102.91 L101.53,103.13 L101.71,104.03 L101.88,104.02 L102.06,103.25 L102.24,103.96 L102.42,103.86 L102.59,102.37 L102.77,103.17 L102.95,103.49 L103.12,102.77 L103.30,101.68 L103.48,102.61 L103.66,103.02 L103.83,103.26 L104.01,100.68 L104.19,103.19 L104.37,100.49 L104.54,101.18 L104.72,100.64 L104.90,99.61 L105.08,98.01 L105.25,95.82 L105.43,95.13 L105.61,92.15 L105.79,88.51 L105.96,89.01 L106.14,85.37 L106.32,84.72 L106.50,83.35 L106.67,86.50 L106.85,89.12 L107.03,91.78 L107.21,93.26 L107.38,94.57 L107.56,96.80 L107.74,96.87 L107.91,98.17 L108.09,100.05 L108.27,100.03 L108.45,101.03 L108.62,101.48 L108.80,103.03 L108.98,102.93 L109.16,102.34 L109.33,103.28 L109.51,102.24 L109.69,102.63 L109.87,103.48 L110.04,102.28 L110.22,102.92 L110.40,102.35 L110.58,103.26 L110.75,104.20 L110.93,102.79 L111.11,103.39 L111.29,102.72 L111.46,102.56 L111.64,102.50 L111.82,104.10 L111.99,104.62 L112.17,103.45 L112.35,102.70 L112.53,103.50 L112.70,102.82 L112.88,103.44 L113.06,103.07 L113.24,102.98 L113.41,103.09 L113.59,102.28 L113.77,102.27 L113.95,101.36 L114.12,102.00 L114.30,101.26 L114.48,101.86 L114.66,101.19 L114.83,101.63 L115.01,101.62 L115.19,100.25 L115.37,100.34 L115.54,99.95 L115.72,100.62 L115.90,100.81 L116.08,99.86 L116.25,98.64 L116.43,99.17 L116.61,96.73 L116.78,97.79 L116.96,95.61 L117.14,93.28 L117.32,95.25 L117.49,93.00 L117.67,89.38 L117.85,87.37 L118.03,83.35 L118.20,78.06 L118.38,68.88 L118.56,56.83 L118.74,39.85 L118.91,21.85 L119.09,18.96 L119.27,33.11 L119.45,53.29 L119.62,65.73 L119.80,75.80 L119.98,80.76 L120.16,85.42 L120.33,90.00 L120.51,90.90 L120.69,93.52 L120.86,94.54 L121.04,95.08 L121.22,96.44 L121.40,97.13 L121.57,97.83 L121.75,99.17 L121.93,99.62 L122.11,99.33 L122.28,99.53 L122.46,100.60 L122.64,100.67 L122.82,101.62 L122.99,102.83 L123.17,101.95 L123.35,101.60 L123.53,101.66 L123.70,101.36 L123.88,101.41 L124.06,101.39 L124.24,101.75 L124.41,101.69 L124.59,102.29 L124.77,101.46 L124.95,101.43 L125.12,100.72 L125.30,102.45 L125.48,101.93 L125.65,102.97 L125.83,102.70 L126.01,103.44 L126.19,102.68 L126.36,103.49 L126.54,104.89 L126.72,102.69 L126.90,104.27 L127.07,104.70 L127.25,104.04 L127.43,104.33 L127.61,104.72 L127.78,103.62 L127.96,104.33 L128.14,103.60 L128.32,103.77 L128.49,103.85 L128.67,104.18 L128.85,104.40 L129.03,104.62 L129.20,103.51 L129.38,105.62 L129.56,105.15 L129.73,104.91 L129.91,104.27 L130.09,104.46 L130.27,104.87 L130.44,104.81 L130.62,103.54 L130.80,105.05 L130.98,106.40 L131.15,103.49 L131.33,105.26 L131.51,104.89 L131.69,104.60 L131.86,105.53 L132.04,103.97 L132.22,104.81 L132.40,105.62 L132.57,104.61 L132.75,104.48 L132.93,104.82 L133.11,104.48 L133.28,105.72 L133.46,104.21 L133.64,105.32 L133.82,104.01 L133.99,105.20 L134.17,104.73 L134.35,103.21 L134.52,104.80 L134.70,104.15 L134.88,104.54 L135.06,105.76 L135.23,104.12 L135.41,104.16 L135.59,105.70 L135.77,104.88 L135.94,105.76 L136.12,105.01 L136.30,104.26 L136.48,104.76 L136.65,105.55 L136.83,105.37 L137.01,104.78 L137.19,104.80 L137.36,104.69 L137.54,104.39 L137.72,105.93 L137.90,104.72 L138.07,104.00 L138.25,104.39 L138.43,105.10 L138.60,105.02 L138.78,104.51 L138.96,104.15 L139.14,104.54 L139.31,103.45 L139.49,103.62 L139.67,104.86 L139.85,104.00 L140.02,104.45 L140.20,104.87 L140.38,104.41 L140.56,103.89 L140.73,105.04 L140.91,103.95 L141.09,103.10 L141.27,103.50 L141.44,102.98 L141.62,101.80 L141.80,101.88 L141.98,101.14 L142.15,99.33 L142.33,99.63 L142.51,98.70 L142.69,97.79 L142.86,96.42 L143.04,96.95 L143.22,97.29 L143.39,97.88 L143.57,97.80 L143.75,99.61 L143.93,99.10 L144.10,100.21 L144.28,101.50 L144.46,100.46 L144.64,100.59 L144.81,101.43 L144.99,100.24 L145.17,99.88 L145.35,99.74 L145.52,99.90 L145.70,97.83 L145.88,98.97 L146.06,99.44 L146.23,100.10 L146.41,100.94 L146.59,101.55 L146.77,102.75 L146.94,102.42 L147.12,103.36 L147.30,103.78 L147.47,103.29 L147.65,103.98 L147.83,105.04 L148.01,104.34 L148.18,103.84 L148.36,104.26 L148.54,103.80 L148.72,104.57 L148.89,104.97 L149.07,103.97 L149.25,104.36 L149.43,105.18 L149.60,104.20 L149.78,104.61 L149.96,103.86 L150.14,103.96 L150.31,104.12 L150.49,105.70 L150.67,104.10 L150.85,103.96 L151.02,103.86 L151.20,103.99 L151.38,104.36 L151.56,103.92 L151.73,104.84 L151.91,103.49 L152.09,103.92 L152.26,102.82 L152.44,102.52 L152.62,100.65 L152.80,100.64 L152.97,99.69 L153.15,98.47 L153.33,96.19 L153.51,97.12 L153.68,96.02 L153.86,96.34 L154.04,97.35 L154.22,98.52 L154.39,100.03 L154.57,100.02 L154.75,101.04 L154.93,102.43 L155.10,102.86 L155.28,102.95 L155.46,103.16 L155.64,103.27 L155.81,103.95 L155.99,104.87 L156.17,103.67 L156.34,105.34 L156.52,105.04 L156.70,104.35 L156.88,105.16 L157.05,103.88 L157.23,103.78 L157.41,104.09 L157.59,104.66 L157.76,104.75 L157.94,104.67 L158.12,105.07 L158.30,103.76 L158.47,105.36 L158.65,104.24 L158.83,104.71 L159.01,104.88 L159.18,104.45 L159.36,104.34 L159.54,104.57 L159.72,105.18 L159.89,105.56 L160.07,105.55 L160.25,104.63 L160.43,104.76 L160.60,104.69 L160.78,105.52 L160.96,104.04 L161.13,106.01 L161.31,104.98 L161.49,104.81 L161.67,105.49 L161.84,105.91 L162.02,105.50 L162.20,105.93 L162.38,105.39 L162.55,106.05 L162.73,106.06 L162.91,105.26 L163.09,106.18 L163.26,105.42 L163.44,105.38 L163.62,104.78 L163.80,105.16 L163.97,105.80 L164.15,104.55 L164.33,105.73 L164.51,105.55 L164.68,105.50 L164.86,104.01 L165.04,105.28 L165.21,105.73 L165.39,104.88 L165.57,105.39 L165.75,103.91 L165.92,105.74 L166.10,104.93 L166.28,105.85 L166.46,104.22 L166.63,105.74 L166.81,105.17 L166.99,105.80 L167.17,104.75 L167.34,104.93 L167.52,106.64 L167.70,104.79 L167.88,104.85 L168.05,105.10 L168.23,104.64 L168.41,105.96 L168.59,106.27 L168.76,104.80 L168.94,104.17 L169.12,105.89 L169.30,105.83 L169.47,105.63 L169.65,105.81 L169.83,104.56 L170.00,104.95 L170.18,104.18 L170.36,104.12 L170.54,105.51 L170.71,104.46 L170.89,106.17 L171.07,104.77 L171.25,104.25 L171.42,105.01 L171.60,105.49 L171.78,104.55 L171.96,103.35 L172.13,104.10 L172.31,104.44 L172.49,103.01 L172.67,102.45 L172.84,103.06 L173.02,101.96 L173.20,100.54 L173.38,100.19 L173.55,99.14 L173.73,98.99 L173.91,98.30 L174.08,98.71 L174.26,98.66 L174.44,97.87 L174.62,99.83 L174.79,100.96 L174.97,101.47 L175.15,102.49 L175.33,102.11 L175.50,102.34 L175.68,103.85 L175.86,102.97 L176.04,102.57 L176.21,104.69 L176.39,103.81 L176.57,104.21 L176.75,103.67 L176.92,103.82 L177.10,104.00 L177.28,104.55 L177.46,105.05 L177.63,103.50 L177.81,105.38 L177.99,104.25 L178.17,104.35 L178.34,105.42 L178.52,104.99 L178.70,104.13 L178.87,106.17 L179.05,104.56 L179.23,105.23 L179.41,105.20 L179.58,105.92 L179.76,104.79 L179.94,105.66 L180.12,104.59 L180.29,105.69 L180.47,104.53 L180.65,104.73 L180.83,106.05 L181.00,105.05 L181.18,104.86 L181.36,106.07 L181.54,104.85 L181.71,104.04 L181.89,104.84 L182.07,103.54 L182.25,104.74 L182.42,104.55 L182.60,103.20 L182.78,102.81 L182.95,102.87 L183.13,102.25 L183.31,101.04 L183.49,101.28 L183.66,99.00 L183.84,99.34 L184.02,98.95 L184.20,98.97 L184.37,99.62 L184.55,99.28 L184.73,101.08 L184.91,101.33 L185.08,101.70 L185.26,101.83 L185.44,102.41 L185.62,103.72 L185.79,103.24 L185.97,104.12 L186.15,104.93 L186.33,105.09 L186.50,105.55 L186.68,104.56 L186.86,104.19 L187.04,105.54 L187.21,105.19 L187.39,105.75 L187.57,105.14 L187.74,105.90 L187.92,105.73 L188.10,105.69 L188.28,105.60 L188.45,105.57 L188.63,105.50 L188.81,105.52 L188.99,106.00 L189.16,105.12 L189.34,106.49 L189.52,105.40 L189.70,106.07 L189.87,105.44 L190.05,105.36 L190.23,106.74 L190.41,105.35 L190.58,104.78 L190.76,105.12 L190.94,105.37 L191.12,106.86 L191.29,105.70 L191.47,106.15 L191.65,104.99 L191.82,105.81 L192.00,106.01 L192.18,106.69 L192.36,105.20 L192.53,105.98 L192.71,105.81 L192.89,105.02 L193.07,105.62 L193.24,105.48 L193.42,104.25 L193.60,106.00 L193.78,105.97 L193.95,105.39 L194.13,104.85 L194.31,106.54 L194.49,105.82 L194.66,106.27 L194.84,106.51 L195.02,105.35 L195.20,106.15 L195.37,105.52 L195.55,105.63 L195.73,105.61 L195.91,105.66 L196.08,106.33 L196.26,105.74 L196.44,105.57 L196.61,105.50 L196.79,105.86 L196.97,105.12 L197.15,105.35 L197.32,105.62 L197.50,105.31 L197.68,105.57 L197.86,105.28 L198.03,106.84 L198.21,106.43 L198.39,105.90 L198.57,105.59 L198.74,106.93 L198.92,105.80 L199.10,105.54 L199.28,105.76 L199.45,105.75 L199.63,106.40 L199.81,105.53 L199.99,106.78 L200.16,104.97 L200.34,105.90 L200.52,104.85 L200.69,106.52 L200.87,105.19 L201.05,105.32 L201.23,105.87 L201.40,106.01 L201.58,104.54 L201.76,104.93 L201.94,104.22 L202.11,105.05 L202.29,104.79 L202.47,104.51 L202.65,104.16 L202.82,104.15 L203.00,103.72 L203.18,104.22 L203.36,104.50 L203.53,102.07 L203.71,102.75 L203.89,102.14 L204.07,102.26 L204.24,101.04 L204.42,101.30 L204.60,100.73 L204.78,101.94 L204.95,101.90 L205.13,102.15 L205.31,102.91 L205.48,102.96 L205.66,102.55 L205.84,104.17 L206.02,104.27 L206.19,104.24 L206.37,105.12 L206.55,105.42 L206.73,104.18 L206.90,104.48 L207.08,105.98 L207.26,105.98 L207.44,104.76 L207.61,104.56 L207.79,104.93 L207.97,105.06 L208.15,104.45 L208.32,105.45 L208.50,104.70 L208.68,104.76 L208.86,106.06 L209.03,105.12 L209.21,105.50 L209.39,105.93 L209.56,106.05 L209.74,105.36 L209.92,105.59 L210.10,105.07 L210.27,106.61 L210.45,105.95 L210.63,104.88 L210.81,105.53 L210.98,105.93 L211.16,105.77 L211.34,106.54 L211.52,106.22 L211.69,105.02 L211.87,105.21 L212.05,104.40 L212.23,105.21 L212.40,104.99 L212.58,106.33 L212.76,104.52 L212.94,102.90 L213.11,103.40 L213.29,103.49 L213.47,102.33 L213.65,102.39 L213.82,102.73 L214.00,103.41" fill="none" stroke="#5b9a96" stroke-width="1.2" stroke-linejoin="round"/>
<line x1="47.24" y1="136.70" x2="47.24" y2="130.20" stroke="#999" stroke-width="0.9" />
<line x1="51.68" y1="136.70" x2="51.68" y2="134.20" stroke="#999" stroke-width="0.9" />
<line x1="58.48" y1="136.70" x2="58.48" y2="126.20" stroke="#999" stroke-width="0.9" />
<line x1="62.03" y1="136.70" x2="62.03" y2="131.20" stroke="#999" stroke-width="0.9" />
<line x1="75.63" y1="136.70" x2="75.63" y2="128.20" stroke="#999" stroke-width="0.9" />
<line x1="79.18" y1="136.70" x2="79.18" y2="133.20" stroke="#999" stroke-width="0.9" />
<line x1="81.25" y1="136.70" x2="81.25" y2="132.20" stroke="#999" stroke-width="0.9" />
<line x1="84.20" y1="136.70" x2="84.20" y2="132.20" stroke="#999" stroke-width="0.9" />
<line x1="90.41" y1="136.70" x2="90.41" y2="133.20" stroke="#999" stroke-width="0.9" />
<line x1="98.69" y1="136.70" x2="98.69" y2="130.20" stroke="#999" stroke-width="0.9" />
<line x1="106.38" y1="136.70" x2="106.38" y2="125.20" stroke="#999" stroke-width="0.9" />
<line x1="112.59" y1="136.70" x2="112.59" y2="133.70" stroke="#999" stroke-width="0.9" />
<line x1="118.50" y1="136.70" x2="118.50" y2="122.70" stroke="#999" stroke-width="0.9" />
<line x1="121.75" y1="136.70" x2="121.75" y2="134.20" stroke="#999" stroke-width="0.9" />
<line x1="125.60" y1="136.70" x2="125.60" y2="130.20" stroke="#999" stroke-width="0.9" />
<line x1="128.85" y1="136.70" x2="128.85" y2="132.70" stroke="#999" stroke-width="0.9" />
<line x1="131.21" y1="136.70" x2="131.21" y2="133.70" stroke="#999" stroke-width="0.9" />
<line x1="133.58" y1="136.70" x2="133.58" y2="133.70" stroke="#999" stroke-width="0.9" />
<line x1="136.83" y1="136.70" x2="136.83" y2="131.20" stroke="#999" stroke-width="0.9" />
<line x1="140.67" y1="136.70" x2="140.67" y2="134.20" stroke="#999" stroke-width="0.9" />
<line x1="143.34" y1="136.70" x2="143.34" y2="130.70" stroke="#999" stroke-width="0.9" />
<line x1="144.52" y1="136.70" x2="144.52" y2="128.20" stroke="#999" stroke-width="0.9" />
<line x1="146.59" y1="136.70" x2="146.59" y2="132.20" stroke="#999" stroke-width="0.9" />
<line x1="153.98" y1="136.70" x2="153.98" y2="128.20" stroke="#999" stroke-width="0.9" />
<line x1="160.19" y1="136.70" x2="160.19" y2="131.20" stroke="#999" stroke-width="0.9" />
<line x1="162.26" y1="136.70" x2="162.26" y2="133.20" stroke="#999" stroke-width="0.9" />
<line x1="169.35" y1="136.70" x2="169.35" y2="131.70" stroke="#999" stroke-width="0.9" />
<line x1="174.38" y1="136.70" x2="174.38" y2="124.70" stroke="#999" stroke-width="0.9" />
<line x1="180.29" y1="136.70" x2="180.29" y2="131.70" stroke="#999" stroke-width="0.9" />
<line x1="184.14" y1="136.70" x2="184.14" y2="128.70" stroke="#999" stroke-width="0.9" />
<line x1="190.94" y1="136.70" x2="190.94" y2="133.20" stroke="#999" stroke-width="0.9" />
<line x1="193.60" y1="136.70" x2="193.60" y2="134.20" stroke="#999" stroke-width="0.9" />
<line x1="196.85" y1="136.70" x2="196.85" y2="133.20" stroke="#999" stroke-width="0.9" />
<line x1="200.10" y1="136.70" x2="200.10" y2="131.20" stroke="#999" stroke-width="0.9" />
<line x1="204.83" y1="136.70" x2="204.83" y2="124.20" stroke="#999" stroke-width="0.9" />
<line x1="207.79" y1="136.70" x2="207.79" y2="133.20" stroke="#999" stroke-width="0.9" />
<rect x="36.6" y="12.8" width="177.4" height="123.89999999999999" fill="none" stroke="#6a6a6a" stroke-width="1"/>
<line x1="36.60" y1="136.70" x2="36.60" y2="139.30" stroke="#6a6a6a" stroke-width="0.9" />
<text x="36.6" y="150.8" font-size="11.6" fill="#111" text-anchor="middle" >20</text>
<line x1="51.38" y1="136.70" x2="51.38" y2="138.30" stroke="#6a6a6a" stroke-width="0.9" />
<line x1="66.17" y1="136.70" x2="66.17" y2="139.30" stroke="#6a6a6a" stroke-width="0.9" />
<text x="66.17" y="150.8" font-size="11.6" fill="#111" text-anchor="middle" >30</text>
<line x1="80.95" y1="136.70" x2="80.95" y2="138.30" stroke="#6a6a6a" stroke-width="0.9" />
<line x1="95.73" y1="136.70" x2="95.73" y2="139.30" stroke="#6a6a6a" stroke-width="0.9" />
<text x="95.73" y="150.8" font-size="11.6" fill="#111" text-anchor="middle" >40</text>
<line x1="110.52" y1="136.70" x2="110.52" y2="138.30" stroke="#6a6a6a" stroke-width="0.9" />
<line x1="125.30" y1="136.70" x2="125.30" y2="139.30" stroke="#6a6a6a" stroke-width="0.9" />
<text x="125.3" y="150.8" font-size="11.6" fill="#111" text-anchor="middle" >50</text>
<line x1="140.08" y1="136.70" x2="140.08" y2="138.30" stroke="#6a6a6a" stroke-width="0.9" />
<line x1="154.87" y1="136.70" x2="154.87" y2="139.30" stroke="#6a6a6a" stroke-width="0.9" />
<text x="154.87" y="150.8" font-size="11.6" fill="#111" text-anchor="middle" >60</text>
<line x1="169.65" y1="136.70" x2="169.65" y2="138.30" stroke="#6a6a6a" stroke-width="0.9" />
<line x1="184.43" y1="136.70" x2="184.43" y2="139.30" stroke="#6a6a6a" stroke-width="0.9" />
<text x="184.43" y="150.8" font-size="11.6" fill="#111" text-anchor="middle" >70</text>
<line x1="199.22" y1="136.70" x2="199.22" y2="138.30" stroke="#6a6a6a" stroke-width="0.9" />
<line x1="214.00" y1="136.70" x2="214.00" y2="139.30" stroke="#6a6a6a" stroke-width="0.9" />
<text x="214.0" y="150.8" font-size="11.6" fill="#111" text-anchor="middle" >80</text>
<text x="125.1" y="163.3" font-size="12.4" font-weight="bold" fill="#000" text-anchor="middle" >2<tspan font-style="italic">θ</tspan> (degree)</text>
<text x="0" y="0" font-size="12.4" font-weight="bold" fill="#000" text-anchor="middle" transform="translate(25.3,80.6) rotate(-90)">Intensity (arb. units)</text>
<text x="208.0" y="35.9" font-size="8.4" font-weight="bold" fill="#383838" text-anchor="end" >EG vol%</text>
<text x="208.0" y="50.0" font-size="8.4" font-weight="bold" fill="#f7820f" text-anchor="end" >98%</text>
<text x="208.0" y="66.6" font-size="8.4" font-weight="bold" fill="#fb8282" text-anchor="end" >94%</text>
<text x="208.0" y="83.0" font-size="8.4" font-weight="bold" fill="#6b9bd2" text-anchor="end" >60%</text>
<text x="208.0" y="99.6" font-size="8.4" font-weight="bold" fill="#5b9a96" text-anchor="end" >20%</text>
<text x="208.0" y="116.3" font-size="8.4" font-weight="bold" fill="#7d7d7d" text-anchor="end" >0%</text>
<text x="10.3" y="10.8" font-size="20" font-weight="bold" fill="#000" text-anchor="start" >a</text>
<path d="M267.20,74.13 L267.57,74.12 L267.94,74.11 L268.31,74.10 L268.68,74.09 L269.05,74.08 L269.42,74.07 L269.79,74.05 L270.15,74.04 L270.52,74.03 L270.89,74.02 L271.26,74.01 L271.63,74.00 L272.00,73.98 L272.37,73.97 L272.74,73.96 L273.11,73.95 L273.48,73.93 L273.85,73.92 L274.22,73.91 L274.59,73.90 L274.96,73.88 L275.33,73.87 L275.70,73.85 L276.06,73.84 L276.43,73.83 L276.80,73.81 L277.17,73.80 L277.54,73.78 L277.91,73.77 L278.28,73.75 L278.65,73.74 L279.02,73.72 L279.39,73.71 L279.76,73.69 L280.13,73.67 L280.50,73.66 L280.87,73.64 L281.24,73.63 L281.61,73.61 L281.97,73.59 L282.34,73.57 L282.71,73.56 L283.08,73.54 L283.45,73.52 L283.82,73.50 L284.19,73.48 L284.56,73.46 L284.93,73.44 L285.30,73.42 L285.67,73.40 L286.04,73.38 L286.41,73.36 L286.78,73.34 L287.15,73.32 L287.52,73.30 L287.88,73.28 L288.25,73.25 L288.62,73.23 L288.99,73.21 L289.36,73.19 L289.73,73.16 L290.10,73.14 L290.47,73.11 L290.84,73.09 L291.21,73.06 L291.58,73.04 L291.95,73.01 L292.32,72.99 L292.69,72.96 L293.06,72.93 L293.43,72.90 L293.80,72.88 L294.16,72.85 L294.53,72.82 L294.90,72.79 L295.27,72.76 L295.64,72.73 L296.01,72.69 L296.38,72.66 L296.75,72.63 L297.12,72.60 L297.49,72.56 L297.86,72.53 L298.23,72.49 L298.60,72.46 L298.97,72.42 L299.34,72.39 L299.70,72.35 L300.07,72.31 L300.44,72.27 L300.81,72.23 L301.18,72.19 L301.55,72.15 L301.92,72.11 L302.29,72.07 L302.66,72.02 L303.03,71.98 L303.40,71.93 L303.77,71.89 L304.14,71.84 L304.51,71.79 L304.88,71.74 L305.25,71.69 L305.62,71.64 L305.98,71.59 L306.35,71.54 L306.72,71.48 L307.09,71.43 L307.46,71.37 L307.83,71.31 L308.20,71.25 L308.57,71.19 L308.94,71.13 L309.31,71.07 L309.68,71.00 L310.05,70.94 L310.42,70.87 L310.79,70.80 L311.16,70.73 L311.52,70.66 L311.89,70.58 L312.26,70.51 L312.63,70.43 L313.00,70.35 L313.37,70.27 L313.74,70.19 L314.11,70.10 L314.48,70.01 L314.85,69.92 L315.22,69.83 L315.59,69.74 L315.96,69.64 L316.33,69.54 L316.70,69.44 L317.07,69.34 L317.44,69.23 L317.80,69.12 L318.17,69.01 L318.54,68.89 L318.91,68.77 L319.28,68.65 L319.65,68.53 L320.02,68.40 L320.39,68.26 L320.76,68.13 L321.13,67.99 L321.50,67.84 L321.87,67.70 L322.24,67.54 L322.61,67.39 L322.98,67.23 L323.34,67.06 L323.71,66.89 L324.08,66.71 L324.45,66.53 L324.82,66.34 L325.19,66.15 L325.56,65.95 L325.93,65.74 L326.30,65.53 L326.67,65.31 L327.04,65.08 L327.41,64.85 L327.78,64.61 L328.15,64.36 L328.52,64.10 L328.89,63.83 L329.25,63.55 L329.62,63.27 L329.99,62.97 L330.36,62.66 L330.73,62.35 L331.10,62.02 L331.47,61.68 L331.84,61.33 L332.21,60.96 L332.58,60.58 L332.95,60.19 L333.32,59.78 L333.69,59.36 L334.06,58.92 L334.43,58.47 L334.80,57.99 L335.16,57.50 L335.53,56.99 L335.90,56.47 L336.27,55.92 L336.64,55.35 L337.01,54.76 L337.38,54.14 L337.75,53.51 L338.12,52.85 L338.49,52.16 L338.86,51.45 L339.23,50.71 L339.60,49.95 L339.97,49.15 L340.34,48.33 L340.71,47.48 L341.07,46.60 L341.44,45.69 L341.81,44.76 L342.18,43.79 L342.55,42.80 L342.92,41.78 L343.29,40.73 L343.66,39.66 L344.03,38.57 L344.40,37.46 L344.77,36.33 L345.14,35.19 L345.51,34.04 L345.88,32.90 L346.25,31.76 L346.62,30.63 L346.99,29.52 L347.35,28.45 L347.72,27.42 L348.09,26.44 L348.46,25.53 L348.83,24.70 L349.20,23.97 L349.57,23.35 L349.94,22.86 L350.31,22.53 L350.68,22.40 L351.05,22.87 L351.42,24.17 L351.79,26.29 L352.16,29.19 L352.53,32.83 L352.89,37.14 L353.26,42.06 L353.63,47.52 L354.00,53.42 L354.37,59.67 L354.74,66.17 L355.11,72.82 L355.48,78.10 L355.85,82.42 L356.22,86.67 L356.59,90.82 L356.96,94.82 L357.33,98.66 L357.70,102.29 L358.07,105.69 L358.44,108.84 L358.81,111.72 L359.17,114.34 L359.54,116.66 L359.91,118.71 L360.28,120.47 L360.65,121.95 L361.02,123.17 L361.39,124.13 L361.76,124.85 L362.13,125.34 L362.50,125.62 L362.87,125.70 L363.24,125.61 L363.61,125.35 L363.98,124.96 L364.35,124.43 L364.72,123.80 L365.08,123.06 L365.45,122.25 L365.82,121.37 L366.19,120.43 L366.56,119.45 L366.93,118.42 L367.30,117.38 L367.67,116.31 L368.04,115.23 L368.41,114.15 L368.78,113.06 L369.15,111.98 L369.52,110.91 L369.89,109.85 L370.26,108.81 L370.62,107.78 L370.99,106.78 L371.36,105.79 L371.73,104.83 L372.10,103.89 L372.47,102.98 L372.84,102.09 L373.21,101.23 L373.58,100.40 L373.95,99.59 L374.32,98.80 L374.69,98.04 L375.06,97.31 L375.43,96.60 L375.80,95.91 L376.17,95.25 L376.53,94.61 L376.90,93.99 L377.27,93.40 L377.64,92.82 L378.01,92.27 L378.38,91.73 L378.75,91.22 L379.12,90.72 L379.49,90.24 L379.86,89.78 L380.23,89.34 L380.60,88.91 L380.97,88.50 L381.34,88.10 L381.71,87.71 L382.08,87.35 L382.44,86.99 L382.81,86.65 L383.18,86.31 L383.55,85.99 L383.92,85.69 L384.29,85.39 L384.66,85.10 L385.03,84.83 L385.40,84.56 L385.77,84.30 L386.14,84.05 L386.51,83.81 L386.88,83.58 L387.25,83.36 L387.62,83.14 L387.99,82.93 L388.36,82.73 L388.72,82.54 L389.09,82.35 L389.46,82.17 L389.83,81.99 L390.20,81.82 L390.57,81.66 L390.94,81.50 L391.31,81.34 L391.68,81.19 L392.05,81.05 L392.42,80.91 L392.79,80.78 L393.16,80.64 L393.53,80.52 L393.90,80.39 L394.26,80.28 L394.63,80.16 L395.00,80.05 L395.37,79.94 L395.74,79.83 L396.11,79.73 L396.48,79.63 L396.85,79.54 L397.22,79.44 L397.59,79.35 L397.96,79.27 L398.33,79.18 L398.70,79.10 L399.07,79.02 L399.44,78.94 L399.81,78.86 L400.18,78.79 L400.54,78.72 L400.91,78.65 L401.28,78.58 L401.65,78.52 L402.02,78.45 L402.39,78.39 L402.76,78.33 L403.13,78.27 L403.50,78.21 L403.87,78.16 L404.24,78.10 L404.61,78.05 L404.98,78.00 L405.35,77.95 L405.72,77.90 L406.09,77.85 L406.45,77.81 L406.82,77.76 L407.19,77.72 L407.56,77.67 L407.93,77.63 L408.30,77.59 L408.67,77.55 L409.04,77.51 L409.41,77.47 L409.78,77.44 L410.15,77.40 L410.52,77.37 L410.89,77.33 L411.26,77.30 L411.63,77.27 L412.00,77.23 L412.36,77.20 L412.73,77.17 L413.10,77.14 L413.47,77.11 L413.84,77.08 L414.21,77.06 L414.58,77.03 L414.95,77.00 L415.32,76.98 L415.69,76.95 L416.06,76.93 L416.43,76.90 L416.80,76.88 L417.17,76.86 L417.54,76.83 L417.90,76.81 L418.27,76.79 L418.64,76.77 L419.01,76.75 L419.38,76.73 L419.75,76.71 L420.12,76.69 L420.49,76.67 L420.86,76.65 L421.23,76.63 L421.60,76.61 L421.97,76.60 L422.34,76.58 L422.71,76.56 L423.08,76.55 L423.45,76.53 L423.82,76.51 L424.18,76.50 L424.55,76.48 L424.92,76.47 L425.29,76.45 L425.66,76.44 L426.03,76.43 L426.40,76.41 L426.77,76.40 L427.14,76.39 L427.51,76.37 L427.88,76.36 L428.25,76.35 L428.62,76.34 L428.99,76.32 L429.36,76.31 L429.73,76.30 L430.09,76.29 L430.46,76.28 L430.83,76.27 L431.20,76.26 L431.57,76.25 L431.94,76.24 L432.31,76.23 L432.68,76.22 L433.05,76.21 L433.42,76.20 L433.79,76.19 L434.16,76.18 L434.53,76.17 L434.90,76.16 L435.27,76.15 L435.63,76.14 L436.00,76.13 L436.37,76.13 L436.74,76.12 L437.11,76.11 L437.48,76.10 L437.85,76.09 L438.22,76.09 L438.59,76.08 L438.96,76.07 L439.33,76.06 L439.70,76.06 L440.07,76.05 L440.44,76.04 L440.81,76.04 L441.18,76.03 L441.54,76.02 L441.91,76.02 L442.28,76.01 L442.65,76.00 L443.02,76.00 L443.39,75.99 L443.76,75.99 L444.13,75.98 L444.50,75.97 L444.50,75.5 L267.20,75.5 Z" fill="#f6820f" fill-opacity="0.45" stroke="none"/>
<path d="M267.20,74.30 L267.57,74.29 L267.94,74.28 L268.31,74.27 L268.68,74.26 L269.05,74.25 L269.42,74.24 L269.79,74.23 L270.15,74.22 L270.52,74.21 L270.89,74.20 L271.26,74.19 L271.63,74.18 L272.00,74.17 L272.37,74.16 L272.74,74.15 L273.11,74.14 L273.48,74.13 L273.85,74.12 L274.22,74.11 L274.59,74.10 L274.96,74.08 L275.33,74.07 L275.70,74.06 L276.06,74.05 L276.43,74.04 L276.80,74.02 L277.17,74.01 L277.54,74.00 L277.91,73.99 L278.28,73.97 L278.65,73.96 L279.02,73.95 L279.39,73.93 L279.76,73.92 L280.13,73.90 L280.50,73.89 L280.87,73.88 L281.24,73.86 L281.61,73.85 L281.97,73.83 L282.34,73.82 L282.71,73.80 L283.08,73.79 L283.45,73.77 L283.82,73.75 L284.19,73.74 L284.56,73.72 L284.93,73.71 L285.30,73.69 L285.67,73.67 L286.04,73.65 L286.41,73.64 L286.78,73.62 L287.15,73.60 L287.52,73.58 L287.88,73.56 L288.25,73.54 L288.62,73.53 L288.99,73.51 L289.36,73.49 L289.73,73.47 L290.10,73.45 L290.47,73.42 L290.84,73.40 L291.21,73.38 L291.58,73.36 L291.95,73.34 L292.32,73.32 L292.69,73.29 L293.06,73.27 L293.43,73.25 L293.80,73.22 L294.16,73.20 L294.53,73.17 L294.90,73.15 L295.27,73.12 L295.64,73.10 L296.01,73.07 L296.38,73.04 L296.75,73.01 L297.12,72.99 L297.49,72.96 L297.86,72.93 L298.23,72.90 L298.60,72.87 L298.97,72.84 L299.34,72.81 L299.70,72.78 L300.07,72.75 L300.44,72.71 L300.81,72.68 L301.18,72.65 L301.55,72.61 L301.92,72.58 L302.29,72.54 L302.66,72.51 L303.03,72.47 L303.40,72.43 L303.77,72.39 L304.14,72.35 L304.51,72.31 L304.88,72.27 L305.25,72.23 L305.62,72.19 L305.98,72.15 L306.35,72.10 L306.72,72.06 L307.09,72.01 L307.46,71.96 L307.83,71.92 L308.20,71.87 L308.57,71.82 L308.94,71.77 L309.31,71.72 L309.68,71.66 L310.05,71.61 L310.42,71.56 L310.79,71.50 L311.16,71.44 L311.52,71.38 L311.89,71.32 L312.26,71.26 L312.63,71.20 L313.00,71.14 L313.37,71.07 L313.74,71.00 L314.11,70.94 L314.48,70.87 L314.85,70.80 L315.22,70.72 L315.59,70.65 L315.96,70.57 L316.33,70.49 L316.70,70.41 L317.07,70.33 L317.44,70.25 L317.80,70.16 L318.17,70.07 L318.54,69.98 L318.91,69.89 L319.28,69.80 L319.65,69.70 L320.02,69.60 L320.39,69.50 L320.76,69.40 L321.13,69.29 L321.50,69.18 L321.87,69.07 L322.24,68.95 L322.61,68.84 L322.98,68.71 L323.34,68.59 L323.71,68.46 L324.08,68.33 L324.45,68.20 L324.82,68.06 L325.19,67.92 L325.56,67.77 L325.93,67.62 L326.30,67.47 L326.67,67.31 L327.04,67.15 L327.41,66.98 L327.78,66.81 L328.15,66.64 L328.52,66.46 L328.89,66.27 L329.25,66.08 L329.62,65.88 L329.99,65.68 L330.36,65.48 L330.73,65.26 L331.10,65.05 L331.47,64.82 L331.84,64.59 L332.21,64.35 L332.58,64.11 L332.95,63.86 L333.32,63.60 L333.69,63.34 L334.06,63.07 L334.43,62.79 L334.80,62.50 L335.16,62.21 L335.53,61.91 L335.90,61.60 L336.27,61.28 L336.64,60.96 L337.01,60.62 L337.38,60.28 L337.75,59.93 L338.12,59.58 L338.49,59.21 L338.86,58.84 L339.23,58.46 L339.60,58.08 L339.97,57.69 L340.34,57.29 L340.71,56.88 L341.07,56.47 L341.44,56.06 L341.81,55.64 L342.18,55.22 L342.55,54.80 L342.92,54.37 L343.29,53.95 L343.66,53.52 L344.03,53.10 L344.40,52.69 L344.77,52.28 L345.14,51.88 L345.51,51.49 L345.88,51.11 L346.25,50.75 L346.62,50.40 L346.99,50.07 L347.35,49.77 L347.72,49.49 L348.09,49.25 L348.46,49.03 L348.83,48.85 L349.20,48.72 L349.57,48.63 L349.94,48.61 L350.31,48.83 L350.68,49.36 L351.05,50.19 L351.42,51.32 L351.79,52.72 L352.16,54.39 L352.53,56.30 L352.89,58.43 L353.26,60.75 L353.63,63.25 L354.00,65.89 L354.37,68.64 L354.74,71.47 L355.11,74.34 L355.48,76.87 L355.85,79.15 L356.22,81.40 L356.59,83.59 L356.96,85.70 L357.33,87.72 L357.70,89.64 L358.07,91.43 L358.44,93.10 L358.81,94.62 L359.17,96.00 L359.54,97.23 L359.91,98.31 L360.28,99.24 L360.65,100.02 L361.02,100.67 L361.39,101.17 L361.76,101.55 L362.13,101.81 L362.50,101.96 L362.87,102.00 L363.24,101.95 L363.61,101.82 L363.98,101.61 L364.35,101.33 L364.72,100.99 L365.08,100.61 L365.45,100.18 L365.82,99.71 L366.19,99.22 L366.56,98.70 L366.93,98.16 L367.30,97.61 L367.67,97.04 L368.04,96.47 L368.41,95.90 L368.78,95.33 L369.15,94.76 L369.52,94.19 L369.89,93.63 L370.26,93.08 L370.62,92.54 L370.99,92.01 L371.36,91.49 L371.73,90.98 L372.10,90.49 L372.47,90.01 L372.84,89.54 L373.21,89.08 L373.58,88.64 L373.95,88.22 L374.32,87.80 L374.69,87.40 L375.06,87.01 L375.43,86.64 L375.80,86.27 L376.17,85.92 L376.53,85.59 L376.90,85.26 L377.27,84.95 L377.64,84.64 L378.01,84.35 L378.38,84.07 L378.75,83.80 L379.12,83.54 L379.49,83.28 L379.86,83.04 L380.23,82.80 L380.60,82.58 L380.97,82.36 L381.34,82.15 L381.71,81.95 L382.08,81.75 L382.44,81.56 L382.81,81.38 L383.18,81.21 L383.55,81.04 L383.92,80.88 L384.29,80.72 L384.66,80.57 L385.03,80.42 L385.40,80.28 L385.77,80.15 L386.14,80.02 L386.51,79.89 L386.88,79.77 L387.25,79.65 L387.62,79.53 L387.99,79.42 L388.36,79.32 L388.72,79.21 L389.09,79.12 L389.46,79.02 L389.83,78.93 L390.20,78.84 L390.57,78.75 L390.94,78.67 L391.31,78.58 L391.68,78.51 L392.05,78.43 L392.42,78.36 L392.79,78.28 L393.16,78.22 L393.53,78.15 L393.90,78.08 L394.26,78.02 L394.63,77.96 L395.00,77.90 L395.37,77.84 L395.74,77.79 L396.11,77.73 L396.48,77.68 L396.85,77.63 L397.22,77.58 L397.59,77.53 L397.96,77.49 L398.33,77.44 L398.70,77.40 L399.07,77.36 L399.44,77.32 L399.81,77.28 L400.18,77.24 L400.54,77.20 L400.91,77.16 L401.28,77.13 L401.65,77.09 L402.02,77.06 L402.39,77.03 L402.76,76.99 L403.13,76.96 L403.50,76.93 L403.87,76.90 L404.24,76.87 L404.61,76.85 L404.98,76.82 L405.35,76.79 L405.72,76.77 L406.09,76.74 L406.45,76.72 L406.82,76.69 L407.19,76.67 L407.56,76.65 L407.93,76.63 L408.30,76.60 L408.67,76.58 L409.04,76.56 L409.41,76.54 L409.78,76.52 L410.15,76.50 L410.52,76.48 L410.89,76.47 L411.26,76.45 L411.63,76.43 L412.00,76.42 L412.36,76.40 L412.73,76.38 L413.10,76.37 L413.47,76.35 L413.84,76.34 L414.21,76.32 L414.58,76.31 L414.95,76.29 L415.32,76.28 L415.69,76.27 L416.06,76.25 L416.43,76.24 L416.80,76.23 L417.17,76.22 L417.54,76.20 L417.90,76.19 L418.27,76.18 L418.64,76.17 L419.01,76.16 L419.38,76.15 L419.75,76.14 L420.12,76.13 L420.49,76.12 L420.86,76.11 L421.23,76.10 L421.60,76.09 L421.97,76.08 L422.34,76.07 L422.71,76.06 L423.08,76.05 L423.45,76.04 L423.82,76.04 L424.18,76.03 L424.55,76.02 L424.92,76.01 L425.29,76.00 L425.66,76.00 L426.03,75.99 L426.40,75.98 L426.77,75.97 L427.14,75.97 L427.51,75.96 L427.88,75.95 L428.25,75.95 L428.62,75.94 L428.99,75.93 L429.36,75.93 L429.73,75.92 L430.09,75.92 L430.46,75.91 L430.83,75.90 L431.20,75.90 L431.57,75.89 L431.94,75.89 L432.31,75.88 L432.68,75.88 L433.05,75.87 L433.42,75.87 L433.79,75.86 L434.16,75.86 L434.53,75.85 L434.90,75.85 L435.27,75.84 L435.63,75.84 L436.00,75.83 L436.37,75.83 L436.74,75.83 L437.11,75.82 L437.48,75.82 L437.85,75.81 L438.22,75.81 L438.59,75.81 L438.96,75.80 L439.33,75.80 L439.70,75.79 L440.07,75.79 L440.44,75.79 L440.81,75.78 L441.18,75.78 L441.54,75.78 L441.91,75.77 L442.28,75.77 L442.65,75.77 L443.02,75.76 L443.39,75.76 L443.76,75.76 L444.13,75.75 L444.50,75.75 L444.50,75.5 L267.20,75.5 Z" fill="#f88282" fill-opacity="0.45" stroke="none"/>
<path d="M267.20,74.84 L267.57,74.84 L267.94,74.83 L268.31,74.83 L268.68,74.82 L269.05,74.82 L269.42,74.81 L269.79,74.81 L270.15,74.80 L270.52,74.79 L270.89,74.79 L271.26,74.78 L271.63,74.78 L272.00,74.77 L272.37,74.77 L272.74,74.76 L273.11,74.75 L273.48,74.75 L273.85,74.74 L274.22,74.74 L274.59,74.73 L274.96,74.72 L275.33,74.72 L275.70,74.71 L276.06,74.70 L276.43,74.70 L276.80,74.69 L277.17,74.68 L277.54,74.68 L277.91,74.67 L278.28,74.66 L278.65,74.65 L279.02,74.65 L279.39,74.64 L279.76,74.63 L280.13,74.62 L280.50,74.62 L280.87,74.61 L281.24,74.60 L281.61,74.59 L281.97,74.58 L282.34,74.58 L282.71,74.57 L283.08,74.56 L283.45,74.55 L283.82,74.54 L284.19,74.53 L284.56,74.52 L284.93,74.51 L285.30,74.50 L285.67,74.50 L286.04,74.49 L286.41,74.48 L286.78,74.47 L287.15,74.46 L287.52,74.45 L287.88,74.44 L288.25,74.42 L288.62,74.41 L288.99,74.40 L289.36,74.39 L289.73,74.38 L290.10,74.37 L290.47,74.36 L290.84,74.35 L291.21,74.33 L291.58,74.32 L291.95,74.31 L292.32,74.30 L292.69,74.29 L293.06,74.27 L293.43,74.26 L293.80,74.25 L294.16,74.23 L294.53,74.22 L294.90,74.20 L295.27,74.19 L295.64,74.18 L296.01,74.16 L296.38,74.15 L296.75,74.13 L297.12,74.12 L297.49,74.10 L297.86,74.08 L298.23,74.07 L298.60,74.05 L298.97,74.03 L299.34,74.02 L299.70,74.00 L300.07,73.98 L300.44,73.96 L300.81,73.95 L301.18,73.93 L301.55,73.91 L301.92,73.89 L302.29,73.87 L302.66,73.85 L303.03,73.83 L303.40,73.81 L303.77,73.79 L304.14,73.76 L304.51,73.74 L304.88,73.72 L305.25,73.70 L305.62,73.67 L305.98,73.65 L306.35,73.62 L306.72,73.60 L307.09,73.57 L307.46,73.55 L307.83,73.52 L308.20,73.50 L308.57,73.47 L308.94,73.44 L309.31,73.41 L309.68,73.38 L310.05,73.35 L310.42,73.32 L310.79,73.29 L311.16,73.26 L311.52,73.23 L311.89,73.19 L312.26,73.16 L312.63,73.12 L313.00,73.09 L313.37,73.05 L313.74,73.02 L314.11,72.98 L314.48,72.94 L314.85,72.90 L315.22,72.86 L315.59,72.82 L315.96,72.77 L316.33,72.73 L316.70,72.69 L317.07,72.64 L317.44,72.60 L317.80,72.55 L318.17,72.50 L318.54,72.45 L318.91,72.40 L319.28,72.35 L319.65,72.29 L320.02,72.24 L320.39,72.18 L320.76,72.12 L321.13,72.06 L321.50,72.00 L321.87,71.94 L322.24,71.88 L322.61,71.81 L322.98,71.74 L323.34,71.68 L323.71,71.60 L324.08,71.53 L324.45,71.46 L324.82,71.38 L325.19,71.30 L325.56,71.22 L325.93,71.14 L326.30,71.06 L326.67,70.97 L327.04,70.88 L327.41,70.79 L327.78,70.69 L328.15,70.60 L328.52,70.50 L328.89,70.40 L329.25,70.29 L329.62,70.18 L329.99,70.07 L330.36,69.96 L330.73,69.85 L331.10,69.73 L331.47,69.60 L331.84,69.48 L332.21,69.35 L332.58,69.22 L332.95,69.08 L333.32,68.94 L333.69,68.80 L334.06,68.65 L334.43,68.50 L334.80,68.35 L335.16,68.19 L335.53,68.03 L335.90,67.86 L336.27,67.69 L336.64,67.52 L337.01,67.34 L337.38,67.16 L337.75,66.98 L338.12,66.79 L338.49,66.60 L338.86,66.41 L339.23,66.21 L339.60,66.02 L339.97,65.81 L340.34,65.61 L340.71,65.40 L341.07,65.20 L341.44,64.99 L341.81,64.78 L342.18,64.57 L342.55,64.36 L342.92,64.15 L343.29,63.95 L343.66,63.75 L344.03,63.55 L344.40,63.35 L344.77,63.16 L345.14,62.98 L345.51,62.81 L345.88,62.64 L346.25,62.48 L346.62,62.34 L346.99,62.21 L347.35,62.09 L347.72,61.99 L348.09,61.91 L348.46,61.85 L348.83,61.81 L349.20,61.81 L349.57,61.91 L349.94,62.14 L350.31,62.48 L350.68,62.94 L351.05,63.50 L351.42,64.17 L351.79,64.94 L352.16,65.81 L352.53,66.75 L352.89,67.78 L353.26,68.87 L353.63,70.02 L354.00,71.21 L354.37,72.45 L354.74,73.71 L355.11,74.99 L355.48,76.26 L355.85,77.51 L356.22,78.75 L356.59,79.95 L356.96,81.12 L357.33,82.23 L357.70,83.29 L358.07,84.28 L358.44,85.20 L358.81,86.04 L359.17,86.79 L359.54,87.47 L359.91,88.07 L360.28,88.58 L360.65,89.01 L361.02,89.36 L361.39,89.64 L361.76,89.85 L362.13,90.00 L362.50,90.08 L362.87,90.10 L363.24,90.07 L363.61,90.00 L363.98,89.88 L364.35,89.73 L364.72,89.55 L365.08,89.33 L365.45,89.10 L365.82,88.84 L366.19,88.57 L366.56,88.28 L366.93,87.98 L367.30,87.68 L367.67,87.37 L368.04,87.05 L368.41,86.74 L368.78,86.42 L369.15,86.11 L369.52,85.80 L369.89,85.49 L370.26,85.19 L370.62,84.89 L370.99,84.60 L371.36,84.31 L371.73,84.03 L372.10,83.76 L372.47,83.49 L372.84,83.23 L373.21,82.98 L373.58,82.74 L373.95,82.51 L374.32,82.28 L374.69,82.06 L375.06,81.84 L375.43,81.64 L375.80,81.44 L376.17,81.24 L376.53,81.06 L376.90,80.88 L377.27,80.70 L377.64,80.54 L378.01,80.38 L378.38,80.22 L378.75,80.07 L379.12,79.93 L379.49,79.79 L379.86,79.65 L380.23,79.52 L380.60,79.40 L380.97,79.28 L381.34,79.16 L381.71,79.05 L382.08,78.94 L382.44,78.84 L382.81,78.74 L383.18,78.65 L383.55,78.55 L383.92,78.46 L384.29,78.38 L384.66,78.29 L385.03,78.21 L385.40,78.13 L385.77,78.06 L386.14,77.99 L386.51,77.92 L386.88,77.85 L387.25,77.79 L387.62,77.72 L387.99,77.66 L388.36,77.60 L388.72,77.55 L389.09,77.49 L389.46,77.44 L389.83,77.39 L390.20,77.34 L390.57,77.29 L390.94,77.24 L391.31,77.20 L391.68,77.16 L392.05,77.11 L392.42,77.07 L392.79,77.03 L393.16,77.00 L393.53,76.96 L393.90,76.92 L394.26,76.89 L394.63,76.86 L395.00,76.82 L395.37,76.79 L395.74,76.76 L396.11,76.73 L396.48,76.70 L396.85,76.67 L397.22,76.65 L397.59,76.62 L397.96,76.60 L398.33,76.57 L398.70,76.55 L399.07,76.52 L399.44,76.50 L399.81,76.48 L400.18,76.46 L400.54,76.44 L400.91,76.42 L401.28,76.40 L401.65,76.38 L402.02,76.36 L402.39,76.34 L402.76,76.32 L403.13,76.31 L403.50,76.29 L403.87,76.27 L404.24,76.26 L404.61,76.24 L404.98,76.23 L405.35,76.21 L405.72,76.20 L406.09,76.18 L406.45,76.17 L406.82,76.16 L407.19,76.14 L407.56,76.13 L407.93,76.12 L408.30,76.11 L408.67,76.10 L409.04,76.09 L409.41,76.07 L409.78,76.06 L410.15,76.05 L410.52,76.04 L410.89,76.03 L411.26,76.02 L411.63,76.01 L412.00,76.00 L412.36,76.00 L412.73,75.99 L413.10,75.98 L413.47,75.97 L413.84,75.96 L414.21,75.95 L414.58,75.94 L414.95,75.94 L415.32,75.93 L415.69,75.92 L416.06,75.92 L416.43,75.91 L416.80,75.90 L417.17,75.89 L417.54,75.89 L417.90,75.88 L418.27,75.88 L418.64,75.87 L419.01,75.86 L419.38,75.86 L419.75,75.85 L420.12,75.85 L420.49,75.84 L420.86,75.83 L421.23,75.83 L421.60,75.82 L421.97,75.82 L422.34,75.81 L422.71,75.81 L423.08,75.80 L423.45,75.80 L423.82,75.80 L424.18,75.79 L424.55,75.79 L424.92,75.78 L425.29,75.78 L425.66,75.77 L426.03,75.77 L426.40,75.77 L426.77,75.76 L427.14,75.76 L427.51,75.75 L427.88,75.75 L428.25,75.75 L428.62,75.74 L428.99,75.74 L429.36,75.74 L429.73,75.73 L430.09,75.73 L430.46,75.73 L430.83,75.72 L431.20,75.72 L431.57,75.72 L431.94,75.71 L432.31,75.71 L432.68,75.71 L433.05,75.71 L433.42,75.70 L433.79,75.70 L434.16,75.70 L434.53,75.69 L434.90,75.69 L435.27,75.69 L435.63,75.69 L436.00,75.68 L436.37,75.68 L436.74,75.68 L437.11,75.68 L437.48,75.67 L437.85,75.67 L438.22,75.67 L438.59,75.67 L438.96,75.67 L439.33,75.66 L439.70,75.66 L440.07,75.66 L440.44,75.66 L440.81,75.66 L441.18,75.65 L441.54,75.65 L441.91,75.65 L442.28,75.65 L442.65,75.65 L443.02,75.64 L443.39,75.64 L443.76,75.64 L444.13,75.64 L444.50,75.64 L444.50,75.5 L267.20,75.5 Z" fill="#6b9bd2" fill-opacity="0.45" stroke="none"/>
<path d="M267.20,74.13 L267.57,74.12 L267.94,74.11 L268.31,74.10 L268.68,74.09 L269.05,74.08 L269.42,74.07 L269.79,74.05 L270.15,74.04 L270.52,74.03 L270.89,74.02 L271.26,74.01 L271.63,74.00 L272.00,73.98 L272.37,73.97 L272.74,73.96 L273.11,73.95 L273.48,73.93 L273.85,73.92 L274.22,73.91 L274.59,73.90 L274.96,73.88 L275.33,73.87 L275.70,73.85 L276.06,73.84 L276.43,73.83 L276.80,73.81 L277.17,73.80 L277.54,73.78 L277.91,73.77 L278.28,73.75 L278.65,73.74 L279.02,73.72 L279.39,73.71 L279.76,73.69 L280.13,73.67 L280.50,73.66 L280.87,73.64 L281.24,73.63 L281.61,73.61 L281.97,73.59 L282.34,73.57 L282.71,73.56 L283.08,73.54 L283.45,73.52 L283.82,73.50 L284.19,73.48 L284.56,73.46 L284.93,73.44 L285.30,73.42 L285.67,73.40 L286.04,73.38 L286.41,73.36 L286.78,73.34 L287.15,73.32 L287.52,73.30 L287.88,73.28 L288.25,73.25 L288.62,73.23 L288.99,73.21 L289.36,73.19 L289.73,73.16 L290.10,73.14 L290.47,73.11 L290.84,73.09 L291.21,73.06 L291.58,73.04 L291.95,73.01 L292.32,72.99 L292.69,72.96 L293.06,72.93 L293.43,72.90 L293.80,72.88 L294.16,72.85 L294.53,72.82 L294.90,72.79 L295.27,72.76 L295.64,72.73 L296.01,72.69 L296.38,72.66 L296.75,72.63 L297.12,72.60 L297.49,72.56 L297.86,72.53 L298.23,72.49 L298.60,72.46 L298.97,72.42 L299.34,72.39 L299.70,72.35 L300.07,72.31 L300.44,72.27 L300.81,72.23 L301.18,72.19 L301.55,72.15 L301.92,72.11 L302.29,72.07 L302.66,72.02 L303.03,71.98 L303.40,71.93 L303.77,71.89 L304.14,71.84 L304.51,71.79 L304.88,71.74 L305.25,71.69 L305.62,71.64 L305.98,71.59 L306.35,71.54 L306.72,71.48 L307.09,71.43 L307.46,71.37 L307.83,71.31 L308.20,71.25 L308.57,71.19 L308.94,71.13 L309.31,71.07 L309.68,71.00 L310.05,70.94 L310.42,70.87 L310.79,70.80 L311.16,70.73 L311.52,70.66 L311.89,70.58 L312.26,70.51 L312.63,70.43 L313.00,70.35 L313.37,70.27 L313.74,70.19 L314.11,70.10 L314.48,70.01 L314.85,69.92 L315.22,69.83 L315.59,69.74 L315.96,69.64 L316.33,69.54 L316.70,69.44 L317.07,69.34 L317.44,69.23 L317.80,69.12 L318.17,69.01 L318.54,68.89 L318.91,68.77 L319.28,68.65 L319.65,68.53 L320.02,68.40 L320.39,68.26 L320.76,68.13 L321.13,67.99 L321.50,67.84 L321.87,67.70 L322.24,67.54 L322.61,67.39 L322.98,67.23 L323.34,67.06 L323.71,66.89 L324.08,66.71 L324.45,66.53 L324.82,66.34 L325.19,66.15 L325.56,65.95 L325.93,65.74 L326.30,65.53 L326.67,65.31 L327.04,65.08 L327.41,64.85 L327.78,64.61 L328.15,64.36 L328.52,64.10 L328.89,63.83 L329.25,63.55 L329.62,63.27 L329.99,62.97 L330.36,62.66 L330.73,62.35 L331.10,62.02 L331.47,61.68 L331.84,61.33 L332.21,60.96 L332.58,60.58 L332.95,60.19 L333.32,59.78 L333.69,59.36 L334.06,58.92 L334.43,58.47 L334.80,57.99 L335.16,57.50 L335.53,56.99 L335.90,56.47 L336.27,55.92 L336.64,55.35 L337.01,54.76 L337.38,54.14 L337.75,53.51 L338.12,52.85 L338.49,52.16 L338.86,51.45 L339.23,50.71 L339.60,49.95 L339.97,49.15 L340.34,48.33 L340.71,47.48 L341.07,46.60 L341.44,45.69 L341.81,44.76 L342.18,43.79 L342.55,42.80 L342.92,41.78 L343.29,40.73 L343.66,39.66 L344.03,38.57 L344.40,37.46 L344.77,36.33 L345.14,35.19 L345.51,34.04 L345.88,32.90 L346.25,31.76 L346.62,30.63 L346.99,29.52 L347.35,28.45 L347.72,27.42 L348.09,26.44 L348.46,25.53 L348.83,24.70 L349.20,23.97 L349.57,23.35 L349.94,22.86 L350.31,22.53 L350.68,22.40 L351.05,22.87 L351.42,24.17 L351.79,26.29 L352.16,29.19 L352.53,32.83 L352.89,37.14 L353.26,42.06 L353.63,47.52 L354.00,53.42 L354.37,59.67 L354.74,66.17 L355.11,72.82 L355.48,78.10 L355.85,82.42 L356.22,86.67 L356.59,90.82 L356.96,94.82 L357.33,98.66 L357.70,102.29 L358.07,105.69 L358.44,108.84 L358.81,111.72 L359.17,114.34 L359.54,116.66 L359.91,118.71 L360.28,120.47 L360.65,121.95 L361.02,123.17 L361.39,124.13 L361.76,124.85 L362.13,125.34 L362.50,125.62 L362.87,125.70 L363.24,125.61 L363.61,125.35 L363.98,124.96 L364.35,124.43 L364.72,123.80 L365.08,123.06 L365.45,122.25 L365.82,121.37 L366.19,120.43 L366.56,119.45 L366.93,118.42 L367.30,117.38 L367.67,116.31 L368.04,115.23 L368.41,114.15 L368.78,113.06 L369.15,111.98 L369.52,110.91 L369.89,109.85 L370.26,108.81 L370.62,107.78 L370.99,106.78 L371.36,105.79 L371.73,104.83 L372.10,103.89 L372.47,102.98 L372.84,102.09 L373.21,101.23 L373.58,100.40 L373.95,99.59 L374.32,98.80 L374.69,98.04 L375.06,97.31 L375.43,96.60 L375.80,95.91 L376.17,95.25 L376.53,94.61 L376.90,93.99 L377.27,93.40 L377.64,92.82 L378.01,92.27 L378.38,91.73 L378.75,91.22 L379.12,90.72 L379.49,90.24 L379.86,89.78 L380.23,89.34 L380.60,88.91 L380.97,88.50 L381.34,88.10 L381.71,87.71 L382.08,87.35 L382.44,86.99 L382.81,86.65 L383.18,86.31 L383.55,85.99 L383.92,85.69 L384.29,85.39 L384.66,85.10 L385.03,84.83 L385.40,84.56 L385.77,84.30 L386.14,84.05 L386.51,83.81 L386.88,83.58 L387.25,83.36 L387.62,83.14 L387.99,82.93 L388.36,82.73 L388.72,82.54 L389.09,82.35 L389.46,82.17 L389.83,81.99 L390.20,81.82 L390.57,81.66 L390.94,81.50 L391.31,81.34 L391.68,81.19 L392.05,81.05 L392.42,80.91 L392.79,80.78 L393.16,80.64 L393.53,80.52 L393.90,80.39 L394.26,80.28 L394.63,80.16 L395.00,80.05 L395.37,79.94 L395.74,79.83 L396.11,79.73 L396.48,79.63 L396.85,79.54 L397.22,79.44 L397.59,79.35 L397.96,79.27 L398.33,79.18 L398.70,79.10 L399.07,79.02 L399.44,78.94 L399.81,78.86 L400.18,78.79 L400.54,78.72 L400.91,78.65 L401.28,78.58 L401.65,78.52 L402.02,78.45 L402.39,78.39 L402.76,78.33 L403.13,78.27 L403.50,78.21 L403.87,78.16 L404.24,78.10 L404.61,78.05 L404.98,78.00 L405.35,77.95 L405.72,77.90 L406.09,77.85 L406.45,77.81 L406.82,77.76 L407.19,77.72 L407.56,77.67 L407.93,77.63 L408.30,77.59 L408.67,77.55 L409.04,77.51 L409.41,77.47 L409.78,77.44 L410.15,77.40 L410.52,77.37 L410.89,77.33 L411.26,77.30 L411.63,77.27 L412.00,77.23 L412.36,77.20 L412.73,77.17 L413.10,77.14 L413.47,77.11 L413.84,77.08 L414.21,77.06 L414.58,77.03 L414.95,77.00 L415.32,76.98 L415.69,76.95 L416.06,76.93 L416.43,76.90 L416.80,76.88 L417.17,76.86 L417.54,76.83 L417.90,76.81 L418.27,76.79 L418.64,76.77 L419.01,76.75 L419.38,76.73 L419.75,76.71 L420.12,76.69 L420.49,76.67 L420.86,76.65 L421.23,76.63 L421.60,76.61 L421.97,76.60 L422.34,76.58 L422.71,76.56 L423.08,76.55 L423.45,76.53 L423.82,76.51 L424.18,76.50 L424.55,76.48 L424.92,76.47 L425.29,76.45 L425.66,76.44 L426.03,76.43 L426.40,76.41 L426.77,76.40 L427.14,76.39 L427.51,76.37 L427.88,76.36 L428.25,76.35 L428.62,76.34 L428.99,76.32 L429.36,76.31 L429.73,76.30 L430.09,76.29 L430.46,76.28 L430.83,76.27 L431.20,76.26 L431.57,76.25 L431.94,76.24 L432.31,76.23 L432.68,76.22 L433.05,76.21 L433.42,76.20 L433.79,76.19 L434.16,76.18 L434.53,76.17 L434.90,76.16 L435.27,76.15 L435.63,76.14 L436.00,76.13 L436.37,76.13 L436.74,76.12 L437.11,76.11 L437.48,76.10 L437.85,76.09 L438.22,76.09 L438.59,76.08 L438.96,76.07 L439.33,76.06 L439.70,76.06 L440.07,76.05 L440.44,76.04 L440.81,76.04 L441.18,76.03 L441.54,76.02 L441.91,76.02 L442.28,76.01 L442.65,76.00 L443.02,76.00 L443.39,75.99 L443.76,75.99 L444.13,75.98 L444.50,75.97" fill="none" stroke="#f6820f" stroke-width="1.7"/>
<path d="M267.20,74.30 L267.57,74.29 L267.94,74.28 L268.31,74.27 L268.68,74.26 L269.05,74.25 L269.42,74.24 L269.79,74.23 L270.15,74.22 L270.52,74.21 L270.89,74.20 L271.26,74.19 L271.63,74.18 L272.00,74.17 L272.37,74.16 L272.74,74.15 L273.11,74.14 L273.48,74.13 L273.85,74.12 L274.22,74.11 L274.59,74.10 L274.96,74.08 L275.33,74.07 L275.70,74.06 L276.06,74.05 L276.43,74.04 L276.80,74.02 L277.17,74.01 L277.54,74.00 L277.91,73.99 L278.28,73.97 L278.65,73.96 L279.02,73.95 L279.39,73.93 L279.76,73.92 L280.13,73.90 L280.50,73.89 L280.87,73.88 L281.24,73.86 L281.61,73.85 L281.97,73.83 L282.34,73.82 L282.71,73.80 L283.08,73.79 L283.45,73.77 L283.82,73.75 L284.19,73.74 L284.56,73.72 L284.93,73.71 L285.30,73.69 L285.67,73.67 L286.04,73.65 L286.41,73.64 L286.78,73.62 L287.15,73.60 L287.52,73.58 L287.88,73.56 L288.25,73.54 L288.62,73.53 L288.99,73.51 L289.36,73.49 L289.73,73.47 L290.10,73.45 L290.47,73.42 L290.84,73.40 L291.21,73.38 L291.58,73.36 L291.95,73.34 L292.32,73.32 L292.69,73.29 L293.06,73.27 L293.43,73.25 L293.80,73.22 L294.16,73.20 L294.53,73.17 L294.90,73.15 L295.27,73.12 L295.64,73.10 L296.01,73.07 L296.38,73.04 L296.75,73.01 L297.12,72.99 L297.49,72.96 L297.86,72.93 L298.23,72.90 L298.60,72.87 L298.97,72.84 L299.34,72.81 L299.70,72.78 L300.07,72.75 L300.44,72.71 L300.81,72.68 L301.18,72.65 L301.55,72.61 L301.92,72.58 L302.29,72.54 L302.66,72.51 L303.03,72.47 L303.40,72.43 L303.77,72.39 L304.14,72.35 L304.51,72.31 L304.88,72.27 L305.25,72.23 L305.62,72.19 L305.98,72.15 L306.35,72.10 L306.72,72.06 L307.09,72.01 L307.46,71.96 L307.83,71.92 L308.20,71.87 L308.57,71.82 L308.94,71.77 L309.31,71.72 L309.68,71.66 L310.05,71.61 L310.42,71.56 L310.79,71.50 L311.16,71.44 L311.52,71.38 L311.89,71.32 L312.26,71.26 L312.63,71.20 L313.00,71.14 L313.37,71.07 L313.74,71.00 L314.11,70.94 L314.48,70.87 L314.85,70.80 L315.22,70.72 L315.59,70.65 L315.96,70.57 L316.33,70.49 L316.70,70.41 L317.07,70.33 L317.44,70.25 L317.80,70.16 L318.17,70.07 L318.54,69.98 L318.91,69.89 L319.28,69.80 L319.65,69.70 L320.02,69.60 L320.39,69.50 L320.76,69.40 L321.13,69.29 L321.50,69.18 L321.87,69.07 L322.24,68.95 L322.61,68.84 L322.98,68.71 L323.34,68.59 L323.71,68.46 L324.08,68.33 L324.45,68.20 L324.82,68.06 L325.19,67.92 L325.56,67.77 L325.93,67.62 L326.30,67.47 L326.67,67.31 L327.04,67.15 L327.41,66.98 L327.78,66.81 L328.15,66.64 L328.52,66.46 L328.89,66.27 L329.25,66.08 L329.62,65.88 L329.99,65.68 L330.36,65.48 L330.73,65.26 L331.10,65.05 L331.47,64.82 L331.84,64.59 L332.21,64.35 L332.58,64.11 L332.95,63.86 L333.32,63.60 L333.69,63.34 L334.06,63.07 L334.43,62.79 L334.80,62.50 L335.16,62.21 L335.53,61.91 L335.90,61.60 L336.27,61.28 L336.64,60.96 L337.01,60.62 L337.38,60.28 L337.75,59.93 L338.12,59.58 L338.49,59.21 L338.86,58.84 L339.23,58.46 L339.60,58.08 L339.97,57.69 L340.34,57.29 L340.71,56.88 L341.07,56.47 L341.44,56.06 L341.81,55.64 L342.18,55.22 L342.55,54.80 L342.92,54.37 L343.29,53.95 L343.66,53.52 L344.03,53.10 L344.40,52.69 L344.77,52.28 L345.14,51.88 L345.51,51.49 L345.88,51.11 L346.25,50.75 L346.62,50.40 L346.99,50.07 L347.35,49.77 L347.72,49.49 L348.09,49.25 L348.46,49.03 L348.83,48.85 L349.20,48.72 L349.57,48.63 L349.94,48.61 L350.31,48.83 L350.68,49.36 L351.05,50.19 L351.42,51.32 L351.79,52.72 L352.16,54.39 L352.53,56.30 L352.89,58.43 L353.26,60.75 L353.63,63.25 L354.00,65.89 L354.37,68.64 L354.74,71.47 L355.11,74.34 L355.48,76.87 L355.85,79.15 L356.22,81.40 L356.59,83.59 L356.96,85.70 L357.33,87.72 L357.70,89.64 L358.07,91.43 L358.44,93.10 L358.81,94.62 L359.17,96.00 L359.54,97.23 L359.91,98.31 L360.28,99.24 L360.65,100.02 L361.02,100.67 L361.39,101.17 L361.76,101.55 L362.13,101.81 L362.50,101.96 L362.87,102.00 L363.24,101.95 L363.61,101.82 L363.98,101.61 L364.35,101.33 L364.72,100.99 L365.08,100.61 L365.45,100.18 L365.82,99.71 L366.19,99.22 L366.56,98.70 L366.93,98.16 L367.30,97.61 L367.67,97.04 L368.04,96.47 L368.41,95.90 L368.78,95.33 L369.15,94.76 L369.52,94.19 L369.89,93.63 L370.26,93.08 L370.62,92.54 L370.99,92.01 L371.36,91.49 L371.73,90.98 L372.10,90.49 L372.47,90.01 L372.84,89.54 L373.21,89.08 L373.58,88.64 L373.95,88.22 L374.32,87.80 L374.69,87.40 L375.06,87.01 L375.43,86.64 L375.80,86.27 L376.17,85.92 L376.53,85.59 L376.90,85.26 L377.27,84.95 L377.64,84.64 L378.01,84.35 L378.38,84.07 L378.75,83.80 L379.12,83.54 L379.49,83.28 L379.86,83.04 L380.23,82.80 L380.60,82.58 L380.97,82.36 L381.34,82.15 L381.71,81.95 L382.08,81.75 L382.44,81.56 L382.81,81.38 L383.18,81.21 L383.55,81.04 L383.92,80.88 L384.29,80.72 L384.66,80.57 L385.03,80.42 L385.40,80.28 L385.77,80.15 L386.14,80.02 L386.51,79.89 L386.88,79.77 L387.25,79.65 L387.62,79.53 L387.99,79.42 L388.36,79.32 L388.72,79.21 L389.09,79.12 L389.46,79.02 L389.83,78.93 L390.20,78.84 L390.57,78.75 L390.94,78.67 L391.31,78.58 L391.68,78.51 L392.05,78.43 L392.42,78.36 L392.79,78.28 L393.16,78.22 L393.53,78.15 L393.90,78.08 L394.26,78.02 L394.63,77.96 L395.00,77.90 L395.37,77.84 L395.74,77.79 L396.11,77.73 L396.48,77.68 L396.85,77.63 L397.22,77.58 L397.59,77.53 L397.96,77.49 L398.33,77.44 L398.70,77.40 L399.07,77.36 L399.44,77.32 L399.81,77.28 L400.18,77.24 L400.54,77.20 L400.91,77.16 L401.28,77.13 L401.65,77.09 L402.02,77.06 L402.39,77.03 L402.76,76.99 L403.13,76.96 L403.50,76.93 L403.87,76.90 L404.24,76.87 L404.61,76.85 L404.98,76.82 L405.35,76.79 L405.72,76.77 L406.09,76.74 L406.45,76.72 L406.82,76.69 L407.19,76.67 L407.56,76.65 L407.93,76.63 L408.30,76.60 L408.67,76.58 L409.04,76.56 L409.41,76.54 L409.78,76.52 L410.15,76.50 L410.52,76.48 L410.89,76.47 L411.26,76.45 L411.63,76.43 L412.00,76.42 L412.36,76.40 L412.73,76.38 L413.10,76.37 L413.47,76.35 L413.84,76.34 L414.21,76.32 L414.58,76.31 L414.95,76.29 L415.32,76.28 L415.69,76.27 L416.06,76.25 L416.43,76.24 L416.80,76.23 L417.17,76.22 L417.54,76.20 L417.90,76.19 L418.27,76.18 L418.64,76.17 L419.01,76.16 L419.38,76.15 L419.75,76.14 L420.12,76.13 L420.49,76.12 L420.86,76.11 L421.23,76.10 L421.60,76.09 L421.97,76.08 L422.34,76.07 L422.71,76.06 L423.08,76.05 L423.45,76.04 L423.82,76.04 L424.18,76.03 L424.55,76.02 L424.92,76.01 L425.29,76.00 L425.66,76.00 L426.03,75.99 L426.40,75.98 L426.77,75.97 L427.14,75.97 L427.51,75.96 L427.88,75.95 L428.25,75.95 L428.62,75.94 L428.99,75.93 L429.36,75.93 L429.73,75.92 L430.09,75.92 L430.46,75.91 L430.83,75.90 L431.20,75.90 L431.57,75.89 L431.94,75.89 L432.31,75.88 L432.68,75.88 L433.05,75.87 L433.42,75.87 L433.79,75.86 L434.16,75.86 L434.53,75.85 L434.90,75.85 L435.27,75.84 L435.63,75.84 L436.00,75.83 L436.37,75.83 L436.74,75.83 L437.11,75.82 L437.48,75.82 L437.85,75.81 L438.22,75.81 L438.59,75.81 L438.96,75.80 L439.33,75.80 L439.70,75.79 L440.07,75.79 L440.44,75.79 L440.81,75.78 L441.18,75.78 L441.54,75.78 L441.91,75.77 L442.28,75.77 L442.65,75.77 L443.02,75.76 L443.39,75.76 L443.76,75.76 L444.13,75.75 L444.50,75.75" fill="none" stroke="#f88282" stroke-width="1.7"/>
<path d="M267.20,74.84 L267.57,74.84 L267.94,74.83 L268.31,74.83 L268.68,74.82 L269.05,74.82 L269.42,74.81 L269.79,74.81 L270.15,74.80 L270.52,74.79 L270.89,74.79 L271.26,74.78 L271.63,74.78 L272.00,74.77 L272.37,74.77 L272.74,74.76 L273.11,74.75 L273.48,74.75 L273.85,74.74 L274.22,74.74 L274.59,74.73 L274.96,74.72 L275.33,74.72 L275.70,74.71 L276.06,74.70 L276.43,74.70 L276.80,74.69 L277.17,74.68 L277.54,74.68 L277.91,74.67 L278.28,74.66 L278.65,74.65 L279.02,74.65 L279.39,74.64 L279.76,74.63 L280.13,74.62 L280.50,74.62 L280.87,74.61 L281.24,74.60 L281.61,74.59 L281.97,74.58 L282.34,74.58 L282.71,74.57 L283.08,74.56 L283.45,74.55 L283.82,74.54 L284.19,74.53 L284.56,74.52 L284.93,74.51 L285.30,74.50 L285.67,74.50 L286.04,74.49 L286.41,74.48 L286.78,74.47 L287.15,74.46 L287.52,74.45 L287.88,74.44 L288.25,74.42 L288.62,74.41 L288.99,74.40 L289.36,74.39 L289.73,74.38 L290.10,74.37 L290.47,74.36 L290.84,74.35 L291.21,74.33 L291.58,74.32 L291.95,74.31 L292.32,74.30 L292.69,74.29 L293.06,74.27 L293.43,74.26 L293.80,74.25 L294.16,74.23 L294.53,74.22 L294.90,74.20 L295.27,74.19 L295.64,74.18 L296.01,74.16 L296.38,74.15 L296.75,74.13 L297.12,74.12 L297.49,74.10 L297.86,74.08 L298.23,74.07 L298.60,74.05 L298.97,74.03 L299.34,74.02 L299.70,74.00 L300.07,73.98 L300.44,73.96 L300.81,73.95 L301.18,73.93 L301.55,73.91 L301.92,73.89 L302.29,73.87 L302.66,73.85 L303.03,73.83 L303.40,73.81 L303.77,73.79 L304.14,73.76 L304.51,73.74 L304.88,73.72 L305.25,73.70 L305.62,73.67 L305.98,73.65 L306.35,73.62 L306.72,73.60 L307.09,73.57 L307.46,73.55 L307.83,73.52 L308.20,73.50 L308.57,73.47 L308.94,73.44 L309.31,73.41 L309.68,73.38 L310.05,73.35 L310.42,73.32 L310.79,73.29 L311.16,73.26 L311.52,73.23 L311.89,73.19 L312.26,73.16 L312.63,73.12 L313.00,73.09 L313.37,73.05 L313.74,73.02 L314.11,72.98 L314.48,72.94 L314.85,72.90 L315.22,72.86 L315.59,72.82 L315.96,72.77 L316.33,72.73 L316.70,72.69 L317.07,72.64 L317.44,72.60 L317.80,72.55 L318.17,72.50 L318.54,72.45 L318.91,72.40 L319.28,72.35 L319.65,72.29 L320.02,72.24 L320.39,72.18 L320.76,72.12 L321.13,72.06 L321.50,72.00 L321.87,71.94 L322.24,71.88 L322.61,71.81 L322.98,71.74 L323.34,71.68 L323.71,71.60 L324.08,71.53 L324.45,71.46 L324.82,71.38 L325.19,71.30 L325.56,71.22 L325.93,71.14 L326.30,71.06 L326.67,70.97 L327.04,70.88 L327.41,70.79 L327.78,70.69 L328.15,70.60 L328.52,70.50 L328.89,70.40 L329.25,70.29 L329.62,70.18 L329.99,70.07 L330.36,69.96 L330.73,69.85 L331.10,69.73 L331.47,69.60 L331.84,69.48 L332.21,69.35 L332.58,69.22 L332.95,69.08 L333.32,68.94 L333.69,68.80 L334.06,68.65 L334.43,68.50 L334.80,68.35 L335.16,68.19 L335.53,68.03 L335.90,67.86 L336.27,67.69 L336.64,67.52 L337.01,67.34 L337.38,67.16 L337.75,66.98 L338.12,66.79 L338.49,66.60 L338.86,66.41 L339.23,66.21 L339.60,66.02 L339.97,65.81 L340.34,65.61 L340.71,65.40 L341.07,65.20 L341.44,64.99 L341.81,64.78 L342.18,64.57 L342.55,64.36 L342.92,64.15 L343.29,63.95 L343.66,63.75 L344.03,63.55 L344.40,63.35 L344.77,63.16 L345.14,62.98 L345.51,62.81 L345.88,62.64 L346.25,62.48 L346.62,62.34 L346.99,62.21 L347.35,62.09 L347.72,61.99 L348.09,61.91 L348.46,61.85 L348.83,61.81 L349.20,61.81 L349.57,61.91 L349.94,62.14 L350.31,62.48 L350.68,62.94 L351.05,63.50 L351.42,64.17 L351.79,64.94 L352.16,65.81 L352.53,66.75 L352.89,67.78 L353.26,68.87 L353.63,70.02 L354.00,71.21 L354.37,72.45 L354.74,73.71 L355.11,74.99 L355.48,76.26 L355.85,77.51 L356.22,78.75 L356.59,79.95 L356.96,81.12 L357.33,82.23 L357.70,83.29 L358.07,84.28 L358.44,85.20 L358.81,86.04 L359.17,86.79 L359.54,87.47 L359.91,88.07 L360.28,88.58 L360.65,89.01 L361.02,89.36 L361.39,89.64 L361.76,89.85 L362.13,90.00 L362.50,90.08 L362.87,90.10 L363.24,90.07 L363.61,90.00 L363.98,89.88 L364.35,89.73 L364.72,89.55 L365.08,89.33 L365.45,89.10 L365.82,88.84 L366.19,88.57 L366.56,88.28 L366.93,87.98 L367.30,87.68 L367.67,87.37 L368.04,87.05 L368.41,86.74 L368.78,86.42 L369.15,86.11 L369.52,85.80 L369.89,85.49 L370.26,85.19 L370.62,84.89 L370.99,84.60 L371.36,84.31 L371.73,84.03 L372.10,83.76 L372.47,83.49 L372.84,83.23 L373.21,82.98 L373.58,82.74 L373.95,82.51 L374.32,82.28 L374.69,82.06 L375.06,81.84 L375.43,81.64 L375.80,81.44 L376.17,81.24 L376.53,81.06 L376.90,80.88 L377.27,80.70 L377.64,80.54 L378.01,80.38 L378.38,80.22 L378.75,80.07 L379.12,79.93 L379.49,79.79 L379.86,79.65 L380.23,79.52 L380.60,79.40 L380.97,79.28 L381.34,79.16 L381.71,79.05 L382.08,78.94 L382.44,78.84 L382.81,78.74 L383.18,78.65 L383.55,78.55 L383.92,78.46 L384.29,78.38 L384.66,78.29 L385.03,78.21 L385.40,78.13 L385.77,78.06 L386.14,77.99 L386.51,77.92 L386.88,77.85 L387.25,77.79 L387.62,77.72 L387.99,77.66 L388.36,77.60 L388.72,77.55 L389.09,77.49 L389.46,77.44 L389.83,77.39 L390.20,77.34 L390.57,77.29 L390.94,77.24 L391.31,77.20 L391.68,77.16 L392.05,77.11 L392.42,77.07 L392.79,77.03 L393.16,77.00 L393.53,76.96 L393.90,76.92 L394.26,76.89 L394.63,76.86 L395.00,76.82 L395.37,76.79 L395.74,76.76 L396.11,76.73 L396.48,76.70 L396.85,76.67 L397.22,76.65 L397.59,76.62 L397.96,76.60 L398.33,76.57 L398.70,76.55 L399.07,76.52 L399.44,76.50 L399.81,76.48 L400.18,76.46 L400.54,76.44 L400.91,76.42 L401.28,76.40 L401.65,76.38 L402.02,76.36 L402.39,76.34 L402.76,76.32 L403.13,76.31 L403.50,76.29 L403.87,76.27 L404.24,76.26 L404.61,76.24 L404.98,76.23 L405.35,76.21 L405.72,76.20 L406.09,76.18 L406.45,76.17 L406.82,76.16 L407.19,76.14 L407.56,76.13 L407.93,76.12 L408.30,76.11 L408.67,76.10 L409.04,76.09 L409.41,76.07 L409.78,76.06 L410.15,76.05 L410.52,76.04 L410.89,76.03 L411.26,76.02 L411.63,76.01 L412.00,76.00 L412.36,76.00 L412.73,75.99 L413.10,75.98 L413.47,75.97 L413.84,75.96 L414.21,75.95 L414.58,75.94 L414.95,75.94 L415.32,75.93 L415.69,75.92 L416.06,75.92 L416.43,75.91 L416.80,75.90 L417.17,75.89 L417.54,75.89 L417.90,75.88 L418.27,75.88 L418.64,75.87 L419.01,75.86 L419.38,75.86 L419.75,75.85 L420.12,75.85 L420.49,75.84 L420.86,75.83 L421.23,75.83 L421.60,75.82 L421.97,75.82 L422.34,75.81 L422.71,75.81 L423.08,75.80 L423.45,75.80 L423.82,75.80 L424.18,75.79 L424.55,75.79 L424.92,75.78 L425.29,75.78 L425.66,75.77 L426.03,75.77 L426.40,75.77 L426.77,75.76 L427.14,75.76 L427.51,75.75 L427.88,75.75 L428.25,75.75 L428.62,75.74 L428.99,75.74 L429.36,75.74 L429.73,75.73 L430.09,75.73 L430.46,75.73 L430.83,75.72 L431.20,75.72 L431.57,75.72 L431.94,75.71 L432.31,75.71 L432.68,75.71 L433.05,75.71 L433.42,75.70 L433.79,75.70 L434.16,75.70 L434.53,75.69 L434.90,75.69 L435.27,75.69 L435.63,75.69 L436.00,75.68 L436.37,75.68 L436.74,75.68 L437.11,75.68 L437.48,75.67 L437.85,75.67 L438.22,75.67 L438.59,75.67 L438.96,75.67 L439.33,75.66 L439.70,75.66 L440.07,75.66 L440.44,75.66 L440.81,75.66 L441.18,75.65 L441.54,75.65 L441.91,75.65 L442.28,75.65 L442.65,75.65 L443.02,75.64 L443.39,75.64 L443.76,75.64 L444.13,75.64 L444.50,75.64" fill="none" stroke="#6b9bd2" stroke-width="1.7"/>
<line x1="267.20" y1="75.50" x2="444.50" y2="75.50" stroke="#5b9a96" stroke-width="2.2" />
<line x1="267.20" y1="75.50" x2="444.50" y2="75.50" stroke="#6e7474" stroke-width="1.8" />
<rect x="267.2" y="13.3" width="177.3" height="123.7" fill="none" stroke="#6a6a6a" stroke-width="1"/>
<line x1="267.20" y1="137.00" x2="267.20" y2="135.00" stroke="#6a6a6a" stroke-width="0.9" />
<text x="267.2" y="151.0" font-size="11.5" fill="#111" text-anchor="middle" >3360</text>
<line x1="296.75" y1="137.00" x2="296.75" y2="135.00" stroke="#6a6a6a" stroke-width="0.9" />
<line x1="326.30" y1="137.00" x2="326.30" y2="135.00" stroke="#6a6a6a" stroke-width="0.9" />
<text x="326.3" y="151.0" font-size="11.5" fill="#111" text-anchor="middle" >3400</text>
<line x1="355.85" y1="137.00" x2="355.85" y2="135.00" stroke="#6a6a6a" stroke-width="0.9" />
<line x1="385.40" y1="137.00" x2="385.40" y2="135.00" stroke="#6a6a6a" stroke-width="0.9" />
<text x="385.4" y="151.0" font-size="11.5" fill="#111" text-anchor="middle" >3440</text>
<line x1="414.95" y1="137.00" x2="414.95" y2="135.00" stroke="#6a6a6a" stroke-width="0.9" />
<line x1="444.50" y1="137.00" x2="444.50" y2="135.00" stroke="#6a6a6a" stroke-width="0.9" />
<text x="444.5" y="151.0" font-size="11.5" fill="#111" text-anchor="middle" >3480</text>
<text x="355.8" y="164.9" font-size="12.2" font-weight="bold" fill="#000" text-anchor="middle" >Magnetic field (G)</text>
<text x="0" y="0" font-size="12.2" font-weight="bold" fill="#000" text-anchor="middle" transform="translate(257.4,75.95) rotate(-90)">Intensity (arb. units)</text>
<rect x="401.2" y="17.30" width="10.8" height="5.9" fill="#f6820f" fill-opacity="0.5" stroke="#f6820f" stroke-width="0.9"/>
<text x="419.6" y="23.6" font-size="9.6" font-weight="bold" stroke="#f6820f" stroke-width="0.3" fill="#f6820f" text-anchor="start" >98%</text>
<rect x="401.2" y="29.10" width="10.8" height="5.9" fill="#f88282" fill-opacity="0.5" stroke="#f88282" stroke-width="0.9"/>
<text x="419.6" y="35.4" font-size="9.6" font-weight="bold" stroke="#f88282" stroke-width="0.3" fill="#f88282" text-anchor="start" >94%</text>
<rect x="401.2" y="40.90" width="10.8" height="5.9" fill="#6b9bd2" fill-opacity="0.5" stroke="#6b9bd2" stroke-width="0.9"/>
<text x="419.6" y="47.2" font-size="9.6" font-weight="bold" stroke="#5b9a96" stroke-width="0.3" fill="#5b9a96" text-anchor="start" >60%</text>
<rect x="401.2" y="52.70" width="10.8" height="5.9" fill="#5b9a96" fill-opacity="0.5" stroke="#5b9a96" stroke-width="0.9"/>
<text x="419.6" y="59.0" font-size="9.6" font-weight="bold" stroke="#6b9bd2" stroke-width="0.3" fill="#6b9bd2" text-anchor="start" >20%</text>
<rect x="401.2" y="64.50" width="10.8" height="5.9" fill="#888" fill-opacity="0.5" stroke="#888" stroke-width="0.9"/>
<text x="419.6" y="70.8" font-size="9.6" font-weight="bold" stroke="#888" stroke-width="0.3" fill="#888" text-anchor="start" >0%</text>
<text x="295.2" y="97.1" font-size="11" font-weight="bold" fill="#f47c7c" text-anchor="start" ><tspan font-style="italic">g</tspan> = 2.005</text>
<line x1="341.00" y1="87.80" x2="353.80" y2="77.20" stroke="#f77c7c" stroke-width="1.0" />
<path d="M342.4,86.7 L345.1,81.8 L346.3,83.4 L347.7,84.9 Z" fill="#f77c7c"/>
<text x="242.5" y="16.0" font-size="20" font-weight="bold" fill="#000" text-anchor="start" >b</text>
<path d="M514.70,127.20 L515.23,127.12 L515.76,127.03 L516.28,126.95 L516.81,126.86 L517.34,126.78 L517.87,126.69 L518.39,126.60 L518.92,126.51 L519.45,126.42 L519.98,126.33 L520.51,126.23 L521.03,126.14 L521.56,126.04 L522.09,125.94 L522.62,125.85 L523.15,125.75 L523.67,125.65 L524.20,125.54 L524.73,125.44 L525.26,125.34 L525.78,125.23 L526.31,125.12 L526.84,125.02 L527.37,124.91 L527.90,124.80 L528.42,124.69 L528.95,124.57 L529.48,124.46 L530.01,124.35 L530.54,124.23 L531.06,124.11 L531.59,124.00 L532.12,123.88 L532.65,123.76 L533.17,123.64 L533.70,123.51 L534.23,123.39 L534.76,123.26 L535.29,123.14 L535.81,123.01 L536.34,122.88 L536.87,122.75 L537.40,122.62 L537.93,122.49 L538.45,122.36 L538.98,122.22 L539.51,122.09 L540.04,121.95 L540.56,121.81 L541.09,121.67 L541.62,121.53 L542.15,121.39 L542.68,121.25 L543.20,121.10 L543.73,120.96 L544.26,120.81 L544.79,120.67 L545.32,120.52 L545.84,120.37 L546.37,120.22 L546.90,120.07 L547.43,119.91 L547.95,119.76 L548.48,119.60 L549.01,119.45 L549.54,119.29 L550.07,119.13 L550.59,118.97 L551.12,118.81 L551.65,118.64 L552.18,118.48 L552.71,118.32 L553.23,118.15 L553.76,117.98 L554.29,117.81 L554.82,117.64 L555.34,117.47 L555.87,117.30 L556.40,117.13 L556.93,116.95 L557.46,116.78 L557.98,116.60 L558.51,116.42 L559.04,116.24 L559.57,116.06 L560.10,115.88 L560.62,115.70 L561.15,115.51 L561.68,115.33 L562.21,115.14 L562.73,114.95 L563.26,114.76 L563.79,114.57 L564.32,114.38 L564.85,114.19 L565.37,114.00 L565.90,113.80 L566.43,113.61 L566.96,113.41 L567.49,113.21 L568.01,113.01 L568.54,112.81 L569.07,112.61 L569.60,112.40 L570.12,112.20 L570.65,111.99 L571.18,111.78 L571.71,111.58 L572.24,111.37 L572.76,111.15 L573.29,110.94 L573.82,110.73 L574.35,110.51 L574.88,110.30 L575.40,110.08 L575.93,109.86 L576.46,109.64 L576.99,109.42 L577.51,109.20 L578.04,108.98 L578.57,108.75 L579.10,108.52 L579.63,108.30 L580.15,108.07 L580.68,107.84 L581.21,107.61 L581.74,107.38 L582.27,107.14 L582.79,106.91 L583.32,106.67 L583.85,106.43 L584.38,106.19 L584.90,105.95 L585.43,105.71 L585.96,105.47 L586.49,105.23 L587.02,104.98 L587.54,104.73 L588.07,104.49 L588.60,104.24 L589.13,103.99 L589.66,103.73 L590.18,103.48 L590.71,103.23 L591.24,102.97 L591.77,102.71 L592.29,102.46 L592.82,102.20 L593.35,101.93 L593.88,101.67 L594.41,101.41 L594.93,101.14 L595.46,100.88 L595.99,100.61 L596.52,100.34 L597.05,100.07 L597.57,99.80 L598.10,99.52 L598.63,99.25 L599.16,98.97 L599.68,98.69 L600.21,98.41 L600.74,98.13 L601.27,97.85 L601.80,97.57 L602.32,97.28 L602.85,97.00 L603.38,96.71 L603.91,96.42 L604.44,96.13 L604.96,95.84 L605.49,95.54 L606.02,95.25 L606.55,94.95 L607.07,94.65 L607.60,94.35 L608.13,94.05 L608.66,93.75 L609.19,93.45 L609.71,93.14 L610.24,92.83 L610.77,92.52 L611.30,92.21 L611.83,91.90 L612.35,91.59 L612.88,91.27 L613.41,90.96 L613.94,90.64 L614.46,90.32 L614.99,90.00 L615.52,89.67 L616.05,89.35 L616.58,89.02 L617.10,88.69 L617.63,88.36 L618.16,88.03 L618.69,87.69 L619.22,87.36 L619.74,87.02 L620.27,86.68 L620.80,86.34 L621.33,86.00 L621.85,85.65 L622.38,85.31 L622.91,84.96 L623.44,84.61 L623.97,84.26 L624.49,83.90 L625.02,83.54 L625.55,83.19 L626.08,82.83 L626.61,82.46 L627.13,82.10 L627.66,81.73 L628.19,81.36 L628.72,80.99 L629.24,80.62 L629.77,80.24 L630.30,79.86 L630.83,79.48 L631.36,79.10 L631.88,78.71 L632.41,78.33 L632.94,77.94 L633.47,77.54 L634.00,77.15 L634.52,76.75 L635.05,76.35 L635.58,75.95 L636.11,75.54 L636.63,75.13 L637.16,74.72 L637.69,74.30 L638.22,73.88 L638.75,73.46 L639.27,73.04 L639.80,72.61 L640.33,72.18 L640.86,71.74 L641.39,71.30 L641.91,70.86 L642.44,70.41 L642.97,69.96 L643.50,69.51 L644.02,69.05 L644.55,68.59 L645.08,68.12 L645.61,67.65 L646.14,67.17 L646.66,66.69 L647.19,66.20 L647.72,65.71 L648.25,65.21 L648.78,64.71 L649.30,64.20 L649.83,63.68 L650.36,63.16 L650.89,62.63 L651.41,62.10 L651.94,61.55 L652.47,61.00 L653.00,60.44 L653.53,59.87 L654.05,59.30 L654.58,58.71 L655.11,58.12 L655.64,57.51 L656.17,56.89 L656.69,56.26 L657.22,55.62 L657.75,54.96 L658.28,54.29 L658.80,53.61 L659.33,52.91 L659.86,52.19 L660.39,51.45 L660.92,50.70 L661.44,49.92 L661.97,49.12 L662.50,48.29 L663.03,47.44 L663.56,46.55 L664.08,45.64 L664.61,44.68 L665.14,43.69 L665.67,42.66 L666.19,41.58 L666.72,40.45 L667.25,39.26 L667.78,38.00 L668.31,36.67 L668.83,35.25 L669.36,33.74 L669.89,32.13 L670.42,30.38 L670.95,28.50 L671.47,26.44 L672.00,24.18 L672.53,21.68" fill="none" stroke="#e87ac8" stroke-width="1.6"/>
<circle cx="514.70" cy="127.65" r="2.8" fill="#fff" stroke="#e87ac8" stroke-width="1.1"/>
<circle cx="546.91" cy="122.26" r="2.8" fill="#fff" stroke="#e87ac8" stroke-width="1.1"/>
<circle cx="611.33" cy="94.65" r="2.8" fill="#fff" stroke="#e87ac8" stroke-width="1.1"/>
<circle cx="666.09" cy="55.14" r="2.8" fill="#fff" stroke="#e87ac8" stroke-width="1.1"/>
<circle cx="672.53" cy="21.91" r="2.8" fill="#fff" stroke="#e87ac8" stroke-width="1.1"/>
<rect x="506.6" y="14.8" width="176.5" height="123.7" fill="none" stroke="#6a6a6a" stroke-width="1"/>
<line x1="514.70" y1="138.50" x2="514.70" y2="135.90" stroke="#6a6a6a" stroke-width="0.9" />
<text x="0" y="0" font-size="11.2" fill="#111" text-anchor="middle" transform="translate(514.70,150.7) scale(1,1.09)">0</text>
<line x1="530.81" y1="138.50" x2="530.81" y2="136.90" stroke="#6a6a6a" stroke-width="0.9" />
<line x1="546.91" y1="138.50" x2="546.91" y2="135.90" stroke="#6a6a6a" stroke-width="0.9" />
<text x="0" y="0" font-size="11.2" fill="#111" text-anchor="middle" transform="translate(546.91,150.7) scale(1,1.09)">20</text>
<line x1="563.02" y1="138.50" x2="563.02" y2="136.90" stroke="#6a6a6a" stroke-width="0.9" />
<line x1="579.12" y1="138.50" x2="579.12" y2="135.90" stroke="#6a6a6a" stroke-width="0.9" />
<text x="0" y="0" font-size="11.2" fill="#111" text-anchor="middle" transform="translate(579.12,150.7) scale(1,1.09)">40</text>
<line x1="595.23" y1="138.50" x2="595.23" y2="136.90" stroke="#6a6a6a" stroke-width="0.9" />
<line x1="611.33" y1="138.50" x2="611.33" y2="135.90" stroke="#6a6a6a" stroke-width="0.9" />
<text x="0" y="0" font-size="11.2" fill="#111" text-anchor="middle" transform="translate(611.33,150.7) scale(1,1.09)">60</text>
<line x1="627.44" y1="138.50" x2="627.44" y2="136.90" stroke="#6a6a6a" stroke-width="0.9" />
<line x1="643.54" y1="138.50" x2="643.54" y2="135.90" stroke="#6a6a6a" stroke-width="0.9" />
<text x="0" y="0" font-size="11.2" fill="#111" text-anchor="middle" transform="translate(643.54,150.7) scale(1,1.09)">80</text>
<line x1="659.64" y1="138.50" x2="659.64" y2="136.90" stroke="#6a6a6a" stroke-width="0.9" />
<line x1="675.75" y1="138.50" x2="675.75" y2="135.90" stroke="#6a6a6a" stroke-width="0.9" />
<text x="0" y="0" font-size="11.2" fill="#111" text-anchor="middle" transform="translate(675.75,150.7) scale(1,1.09)">100</text>
<line x1="506.60" y1="127.20" x2="509.20" y2="127.20" stroke="#6a6a6a" stroke-width="0.9" />
<text x="0" y="0" font-size="11.2" fill="#111" text-anchor="end" transform="translate(503.7,131.50) scale(1,1.09)">0</text>
<line x1="506.60" y1="110.36" x2="508.20" y2="110.36" stroke="#6a6a6a" stroke-width="0.9" />
<line x1="506.60" y1="93.53" x2="509.20" y2="93.53" stroke="#6a6a6a" stroke-width="0.9" />
<text x="0" y="0" font-size="11.2" fill="#111" text-anchor="end" transform="translate(503.7,97.83) scale(1,1.09)">15</text>
<line x1="506.60" y1="76.69" x2="508.20" y2="76.69" stroke="#6a6a6a" stroke-width="0.9" />
<line x1="506.60" y1="59.85" x2="509.20" y2="59.85" stroke="#6a6a6a" stroke-width="0.9" />
<text x="0" y="0" font-size="11.2" fill="#111" text-anchor="end" transform="translate(503.7,64.15) scale(1,1.09)">30</text>
<line x1="506.60" y1="43.01" x2="508.20" y2="43.01" stroke="#6a6a6a" stroke-width="0.9" />
<line x1="506.60" y1="26.17" x2="509.20" y2="26.17" stroke="#6a6a6a" stroke-width="0.9" />
<text x="0" y="0" font-size="11.2" fill="#111" text-anchor="end" transform="translate(503.7,30.47) scale(1,1.09)">45</text>
<text x="594.3" y="164.9" font-size="12.1" font-weight="bold" fill="#000" text-anchor="middle" >EG volume percentage (%)</text>
<text x="0" y="0" font-size="12" font-weight="bold" fill="#000" text-anchor="middle" transform="translate(482.2,76.5) rotate(-90)">V<tspan font-size="8.5" dy="2.5">In</tspan><tspan dy="-2.5"> content (%)</tspan></text>
<text x="467.8" y="15.6" font-size="20" font-weight="bold" fill="#000" text-anchor="start" >c</text>
<defs>
<linearGradient id="gd0" x1="0" y1="0" x2="0" y2="1"><stop offset="0" stop-color="#999999"/><stop offset="1" stop-color="#bdbdbd"/></linearGradient>
<linearGradient id="gd1" x1="0" y1="0" x2="0" y2="1"><stop offset="0" stop-color="#8fa09e"/><stop offset="1" stop-color="#a9cdcc"/></linearGradient>
<linearGradient id="gd2" x1="0" y1="0" x2="0" y2="1"><stop offset="0" stop-color="#8fa0b6"/><stop offset="1" stop-color="#a8c6e4"/></linearGradient>
<linearGradient id="gd3" x1="0" y1="0" x2="0" y2="1"><stop offset="0" stop-color="#d68088"/><stop offset="1" stop-color="#fcbcc2"/></linearGradient>
<linearGradient id="gd4" x1="0" y1="0" x2="0" y2="1"><stop offset="0" stop-color="#d4a47e"/><stop offset="1" stop-color="#fcb878"/></linearGradient>
</defs>
<rect x="48.70" y="209.94" width="10.4" height="102.06" fill="url(#gd0)"/>
<text x="53.9" y="207.94" font-size="9" fill="#7f7f7f" text-anchor="middle" >-73.9</text>
<rect x="84.20" y="242.26" width="10.4" height="69.74" fill="url(#gd1)"/>
<text x="89.4" y="240.26" font-size="9" font-weight="bold" fill="#5b9a96" text-anchor="middle" >-50.5</text>
<rect x="119.30" y="243.23" width="10.4" height="68.77" fill="url(#gd2)"/>
<text x="124.5" y="241.23" font-size="9" font-weight="bold" fill="#6b9bd2" text-anchor="middle" >-49.8</text>
<rect x="155.00" y="261.18" width="10.4" height="50.82" fill="url(#gd3)"/>
<text x="160.2" y="259.18" font-size="9" font-weight="bold" fill="#f88282" text-anchor="middle" >-36.8</text>
<rect x="190.30" y="264.49" width="10.4" height="47.51" fill="url(#gd4)"/>
<text x="195.5" y="262.49" font-size="9" font-weight="bold" fill="#f6820f" text-anchor="middle" >-34.4</text>
<rect x="36.6" y="187.3" width="177.0" height="124.69999999999999" fill="none" stroke="#6a6a6a" stroke-width="1"/>
<line x1="36.60" y1="312.00" x2="39.20" y2="312.00" stroke="#6a6a6a" stroke-width="0.9" />
<text x="0" y="0" font-size="11.2" fill="#111" text-anchor="end" transform="translate(33.2,316.35) scale(1,1.1)">0</text>
<line x1="36.60" y1="298.19" x2="38.20" y2="298.19" stroke="#6a6a6a" stroke-width="0.9" />
<line x1="36.60" y1="284.38" x2="39.20" y2="284.38" stroke="#6a6a6a" stroke-width="0.9" />
<text x="0" y="0" font-size="11.2" fill="#111" text-anchor="end" transform="translate(33.2,288.73) scale(1,1.1)">-20</text>
<line x1="36.60" y1="270.57" x2="38.20" y2="270.57" stroke="#6a6a6a" stroke-width="0.9" />
<line x1="36.60" y1="256.76" x2="39.20" y2="256.76" stroke="#6a6a6a" stroke-width="0.9" />
<text x="0" y="0" font-size="11.2" fill="#111" text-anchor="end" transform="translate(33.2,261.11) scale(1,1.1)">-40</text>
<line x1="36.60" y1="242.95" x2="38.20" y2="242.95" stroke="#6a6a6a" stroke-width="0.9" />
<line x1="36.60" y1="229.14" x2="39.20" y2="229.14" stroke="#6a6a6a" stroke-width="0.9" />
<text x="0" y="0" font-size="11.2" fill="#111" text-anchor="end" transform="translate(33.2,233.49) scale(1,1.1)">-60</text>
<line x1="36.60" y1="215.33" x2="38.20" y2="215.33" stroke="#6a6a6a" stroke-width="0.9" />
<line x1="36.60" y1="201.52" x2="39.20" y2="201.52" stroke="#6a6a6a" stroke-width="0.9" />
<text x="0" y="0" font-size="11.2" fill="#111" text-anchor="end" transform="translate(33.2,205.87) scale(1,1.1)">-80</text>
<line x1="53.90" y1="312.00" x2="53.90" y2="309.80" stroke="#6a6a6a" stroke-width="0.9" />
<text x="0" y="0" font-size="11.2" fill="#111" text-anchor="middle" transform="translate(54.50,323.9) scale(1,1.1)">0</text>
<line x1="89.40" y1="312.00" x2="89.40" y2="309.80" stroke="#6a6a6a" stroke-width="0.9" />
<text x="0" y="0" font-size="11.2" fill="#111" text-anchor="middle" transform="translate(90.00,323.9) scale(1,1.1)">20</text>
<line x1="124.50" y1="312.00" x2="124.50" y2="309.80" stroke="#6a6a6a" stroke-width="0.9" />
<text x="0" y="0" font-size="11.2" fill="#111" text-anchor="middle" transform="translate(125.10,323.9) scale(1,1.1)">60</text>
<line x1="160.20" y1="312.00" x2="160.20" y2="309.80" stroke="#6a6a6a" stroke-width="0.9" />
<text x="0" y="0" font-size="11.2" fill="#111" text-anchor="middle" transform="translate(160.80,323.9) scale(1,1.1)">94</text>
<line x1="195.50" y1="312.00" x2="195.50" y2="309.80" stroke="#6a6a6a" stroke-width="0.9" />
<text x="0" y="0" font-size="11.2" fill="#111" text-anchor="middle" transform="translate(196.10,323.9) scale(1,1.1)">98</text>
<text x="124.9" y="338.6" font-size="12.2" font-weight="bold" fill="#000" text-anchor="middle" >EG volume percentage (%)</text>
<text x="0" y="0" font-size="12" font-weight="bold" fill="#000" text-anchor="middle" transform="translate(10.0,250.3) rotate(-90)">Zeta Potential (mV)</text>
<text x="7.4" y="183.9" font-size="20.5" font-weight="bold" fill="#000" text-anchor="start" >d</text>
<path d="M269.20,225.40 L269.79,228.26 L270.39,230.96 L270.98,233.46 L271.57,235.74 L272.16,237.78 L272.76,239.56 L273.35,241.05 L273.94,242.23 L274.53,243.08 L275.13,243.58 L275.72,243.69 L276.31,243.39 L276.90,242.74 L277.50,241.81 L278.09,240.68 L278.68,239.43 L279.27,238.15 L279.87,236.91 L280.46,235.79 L281.05,234.88 L281.65,234.26 L282.24,234.00 L282.83,234.03 L283.42,234.14 L284.02,234.30 L284.61,234.49 L285.20,234.70 L285.79,234.91 L286.39,235.11 L286.98,235.26 L287.57,235.37 L288.16,235.40 L288.76,235.27 L289.35,234.94 L289.94,234.44 L290.54,233.79 L291.13,233.01 L291.72,232.14 L292.31,231.19 L292.91,230.19 L293.50,229.16 L294.09,228.14 L294.68,227.14 L295.28,226.18 L295.87,225.30 L296.46,224.39 L297.05,223.41 L297.65,222.37 L298.24,221.30 L298.83,220.22 L299.42,219.15 L300.02,218.13 L300.61,217.17 L301.20,216.30 L301.80,215.53 L302.39,214.90 L302.98,214.39 L303.57,213.91 L304.17,213.47 L304.76,213.06 L305.35,212.68 L305.94,212.32 L306.54,211.98 L307.13,211.65 L307.72,211.34 L308.31,211.04 L308.91,210.75 L309.50,210.45 L310.09,210.16 L310.68,209.86 L311.28,209.56 L311.87,209.25 L312.46,208.94 L313.06,208.62 L313.65,208.31 L314.24,207.99 L314.83,207.69 L315.43,207.38 L316.02,207.09 L316.61,206.80 L317.20,206.53 L317.80,206.27 L318.39,206.02 L318.98,205.79 L319.57,205.58 L320.17,205.38 L320.76,205.21 L321.35,205.05 L321.95,204.89 L322.54,204.72 L323.13,204.57 L323.72,204.41 L324.32,204.27 L324.91,204.13 L325.50,204.01 L326.09,203.91 L326.69,203.82 L327.28,203.76 L327.87,203.72 L328.46,203.70 L329.06,203.72 L329.65,203.78 L330.24,203.88 L330.83,204.01 L331.43,204.17 L332.02,204.35 L332.61,204.56 L333.21,204.79 L333.80,205.03 L334.39,205.29 L334.98,205.65 L335.58,206.13 L336.17,206.71 L336.76,207.38 L337.35,208.12 L337.95,208.92 L338.54,209.76 L339.13,210.62 L339.72,211.50 L340.32,212.38 L340.91,213.35 L341.50,214.40 L342.09,215.53 L342.69,216.72 L343.28,217.96 L343.87,219.24 L344.47,220.54 L345.06,221.86 L345.65,223.17 L346.24,224.51 L346.84,225.93 L347.43,227.41 L348.02,228.92 L348.61,230.41 L349.21,231.87 L349.80,233.25 L350.39,234.56 L350.98,235.85 L351.58,237.13 L352.17,238.39 L352.76,239.61 L353.36,240.78 L353.95,241.89 L354.54,242.93 L355.13,243.90 L355.73,244.80 L356.32,245.68 L356.91,246.54 L357.50,247.38 L358.10,248.19 L358.69,248.97 L359.28,249.73 L359.87,250.46 L360.47,251.15 L361.06,251.82 L361.65,252.44 L362.24,253.03 L362.84,253.59 L363.43,254.10 L364.02,254.57 L364.62,255.02 L365.21,255.45 L365.80,255.86 L366.39,256.25 L366.99,256.62 L367.58,256.98 L368.17,257.33 L368.76,257.67 L369.36,257.99 L369.95,258.31 L370.54,258.61 L371.13,258.91 L371.73,259.21 L372.32,259.50 L372.91,259.79 L373.51,260.07 L374.10,260.36 L374.69,260.65 L375.28,260.94 L375.88,261.24 L376.47,261.54 L377.06,261.83 L377.65,262.13 L378.25,262.42 L378.84,262.71 L379.43,263.00 L380.02,263.28 L380.62,263.57 L381.21,263.85 L381.80,264.13 L382.39,264.40 L382.99,264.68 L383.58,264.95 L384.17,265.22 L384.77,265.49 L385.36,265.75 L385.95,266.02 L386.54,266.28 L387.14,266.54 L387.73,266.80 L388.32,267.05 L388.91,267.30 L389.51,267.55 L390.10,267.80 L390.69,268.05 L391.28,268.29 L391.88,268.53 L392.47,268.77 L393.06,269.01 L393.65,269.24 L394.25,269.47 L394.84,269.71 L395.43,269.94 L396.03,270.17 L396.62,270.39 L397.21,270.62 L397.80,270.85 L398.40,271.07 L398.99,271.29 L399.58,271.51 L400.17,271.73 L400.77,271.95 L401.36,272.16 L401.95,272.38 L402.54,272.59 L403.14,272.79 L403.73,273.00 L404.32,273.20 L404.92,273.41 L405.51,273.60 L406.10,273.80 L406.69,273.99 L407.29,274.19 L407.88,274.37 L408.47,274.56 L409.06,274.74 L409.66,274.92 L410.25,275.10 L410.84,275.27 L411.43,275.44 L412.03,275.62 L412.62,275.79 L413.21,275.96 L413.80,276.13 L414.40,276.30 L414.99,276.46 L415.58,276.63 L416.18,276.80 L416.77,276.96 L417.36,277.12 L417.95,277.28 L418.55,277.44 L419.14,277.59 L419.73,277.74 L420.32,277.89 L420.92,278.04 L421.51,278.18 L422.10,278.33 L422.69,278.46 L423.29,278.60 L423.88,278.73 L424.47,278.85 L425.06,278.97 L425.66,279.09 L426.25,279.21 L426.84,279.32 L427.44,279.42 L428.03,279.52 L428.62,279.62 L429.21,279.72 L429.81,279.81 L430.40,279.91 L430.99,280.00 L431.58,280.10 L432.18,280.19 L432.77,280.28 L433.36,280.37 L433.95,280.45 L434.55,280.54 L435.14,280.62 L435.73,280.71 L436.33,280.79 L436.92,280.87 L437.51,280.94 L438.10,281.02 L438.70,281.09 L439.29,281.16 L439.88,281.23 L440.47,281.29 L441.07,281.36 L441.66,281.42 L442.25,281.47 L442.84,281.53 L443.44,281.58 L444.03,281.63 L444.62,281.68 L445.21,281.72 L445.81,281.76 L446.40,281.80" fill="none" stroke="#f77b7b" stroke-width="2.3"/>
<path d="M269.20,233.10 L269.79,235.43 L270.39,237.61 L270.98,239.64 L271.57,241.49 L272.16,243.15 L272.76,244.63 L273.35,245.90 L273.94,246.95 L274.53,247.78 L275.13,248.37 L275.72,248.71 L276.31,248.79 L276.90,248.53 L277.50,247.94 L278.09,247.09 L278.68,246.05 L279.27,244.88 L279.87,243.66 L280.46,242.44 L281.05,241.29 L281.65,240.29 L282.24,239.49 L282.83,238.97 L283.42,238.79 L284.02,238.73 L284.61,238.70 L285.20,238.67 L285.79,238.64 L286.39,238.62 L286.98,238.59 L287.57,238.55 L288.16,238.49 L288.76,238.33 L289.35,238.03 L289.94,237.60 L290.54,237.06 L291.13,236.43 L291.72,235.72 L292.31,234.96 L292.91,234.15 L293.50,233.32 L294.09,232.49 L294.68,231.66 L295.28,230.87 L295.87,230.11 L296.46,229.32 L297.05,228.45 L297.65,227.52 L298.24,226.55 L298.83,225.58 L299.42,224.61 L300.02,223.67 L300.61,222.79 L301.20,221.98 L301.80,221.28 L302.39,220.69 L302.98,220.22 L303.57,219.77 L304.17,219.35 L304.76,218.96 L305.35,218.59 L305.94,218.24 L306.54,217.91 L307.13,217.60 L307.72,217.30 L308.31,217.01 L308.91,216.73 L309.50,216.45 L310.09,216.18 L310.68,215.92 L311.28,215.65 L311.87,215.38 L312.46,215.10 L313.06,214.82 L313.65,214.53 L314.24,214.22 L314.83,213.91 L315.43,213.59 L316.02,213.26 L316.61,212.94 L317.20,212.63 L317.80,212.32 L318.39,212.03 L318.98,211.75 L319.57,211.50 L320.17,211.26 L320.76,211.05 L321.35,210.87 L321.95,210.73 L322.54,210.62 L323.13,210.55 L323.72,210.47 L324.32,210.40 L324.91,210.34 L325.50,210.27 L326.09,210.22 L326.69,210.16 L327.28,210.12 L327.87,210.08 L328.46,210.05 L329.06,210.02 L329.65,210.01 L330.24,210.00 L330.83,210.01 L331.43,210.07 L332.02,210.17 L332.61,210.31 L333.21,210.48 L333.80,210.69 L334.39,210.93 L334.98,211.19 L335.58,211.48 L336.17,211.79 L336.76,212.11 L337.35,212.45 L337.95,212.81 L338.54,213.21 L339.13,213.75 L339.72,214.41 L340.32,215.17 L340.91,216.02 L341.50,216.92 L342.09,217.86 L342.69,218.82 L343.28,219.78 L343.87,220.71 L344.47,221.65 L345.06,222.61 L345.65,223.61 L346.24,224.64 L346.84,225.70 L347.43,226.80 L348.02,227.94 L348.61,229.13 L349.21,230.36 L349.80,231.63 L350.39,232.95 L350.98,234.32 L351.58,235.73 L352.17,237.20 L352.76,238.71 L353.36,240.28 L353.95,241.91 L354.54,243.61 L355.13,245.36 L355.73,247.18 L356.32,249.07 L356.91,251.04 L357.50,253.21 L358.10,255.65 L358.69,258.30 L359.28,261.06 L359.87,263.86 L360.47,266.63 L361.06,269.28 L361.65,271.73 L362.24,273.91 L362.84,276.01 L363.43,278.09 L364.02,280.11 L364.62,282.05 L365.21,283.88 L365.80,285.57 L366.39,287.09 L366.99,288.40 L367.58,289.50 L368.17,290.54 L368.76,291.53 L369.36,292.48 L369.95,293.37 L370.54,294.20 L371.13,294.97 L371.73,295.67 L372.32,296.29 L372.91,296.83 L373.51,297.28 L374.10,297.65 L374.69,297.94 L375.28,298.22 L375.88,298.49 L376.47,298.75 L377.06,298.99 L377.65,299.22 L378.25,299.43 L378.84,299.63 L379.43,299.81 L380.02,299.99 L380.62,300.14 L381.21,300.28 L381.80,300.41 L382.39,300.52 L382.99,300.62 L383.58,300.70 L384.17,300.76 L384.77,300.81 L385.36,300.86 L385.95,300.90 L386.54,300.94 L387.14,300.98 L387.73,301.02 L388.32,301.05 L388.91,301.09 L389.51,301.12 L390.10,301.16 L390.69,301.19 L391.28,301.22 L391.88,301.24 L392.47,301.27 L393.06,301.30 L393.65,301.32 L394.25,301.34 L394.84,301.36 L395.43,301.38 L396.03,301.40 L396.62,301.42 L397.21,301.43 L397.80,301.45 L398.40,301.46 L398.99,301.47 L399.58,301.48 L400.17,301.49 L400.77,301.49 L401.36,301.50 L401.95,301.50 L402.54,301.50 L403.14,301.51 L403.73,301.51 L404.32,301.51 L404.92,301.51 L405.51,301.52 L406.10,301.52 L406.69,301.52 L407.29,301.52 L407.88,301.53 L408.47,301.53 L409.06,301.53 L409.66,301.53 L410.25,301.54 L410.84,301.54 L411.43,301.54 L412.03,301.54 L412.62,301.54 L413.21,301.55 L413.80,301.55 L414.40,301.55 L414.99,301.55 L415.58,301.55 L416.18,301.56 L416.77,301.56 L417.36,301.56 L417.95,301.56 L418.55,301.56 L419.14,301.57 L419.73,301.57 L420.32,301.57 L420.92,301.57 L421.51,301.57 L422.10,301.57 L422.69,301.57 L423.29,301.58 L423.88,301.58 L424.47,301.58 L425.06,301.58 L425.66,301.58 L426.25,301.58 L426.84,301.58 L427.44,301.58 L428.03,301.58 L428.62,301.59 L429.21,301.59 L429.81,301.59 L430.40,301.59 L430.99,301.59 L431.58,301.59 L432.18,301.59 L432.77,301.59 L433.36,301.59 L433.95,301.59 L434.55,301.59 L435.14,301.59 L435.73,301.60 L436.33,301.60 L436.92,301.60 L437.51,301.60 L438.10,301.60 L438.70,301.60 L439.29,301.60 L439.88,301.60 L440.47,301.60 L441.07,301.60 L441.66,301.60 L442.25,301.60 L442.84,301.60 L443.44,301.60 L444.03,301.60 L444.62,301.60 L445.21,301.60 L445.81,301.60 L446.40,301.60" fill="none" stroke="#5a9896" stroke-width="2.3"/>
<rect x="269.6" y="188.5" width="177.0" height="123.5" fill="none" stroke="#6a6a6a" stroke-width="1"/>
<line x1="269.60" y1="312.00" x2="269.60" y2="314.60" stroke="#6a6a6a" stroke-width="0.9" />
<text x="269.6" y="325.7" font-size="11.8" fill="#111" text-anchor="middle" >200</text>
<line x1="294.89" y1="312.00" x2="294.89" y2="313.60" stroke="#6a6a6a" stroke-width="0.9" />
<line x1="320.17" y1="312.00" x2="320.17" y2="314.60" stroke="#6a6a6a" stroke-width="0.9" />
<text x="320.17" y="325.7" font-size="11.8" fill="#111" text-anchor="middle" >400</text>
<line x1="345.46" y1="312.00" x2="345.46" y2="313.60" stroke="#6a6a6a" stroke-width="0.9" />
<line x1="370.74" y1="312.00" x2="370.74" y2="314.60" stroke="#6a6a6a" stroke-width="0.9" />
<text x="370.74" y="325.7" font-size="11.8" fill="#111" text-anchor="middle" >600</text>
<line x1="396.03" y1="312.00" x2="396.03" y2="313.60" stroke="#6a6a6a" stroke-width="0.9" />
<line x1="421.32" y1="312.00" x2="421.32" y2="314.60" stroke="#6a6a6a" stroke-width="0.9" />
<text x="421.32" y="325.7" font-size="11.8" fill="#111" text-anchor="middle" >800</text>
<line x1="446.60" y1="312.00" x2="446.60" y2="313.60" stroke="#6a6a6a" stroke-width="0.9" />
<text x="358.0" y="338.4" font-size="12.4" font-weight="bold" fill="#000" text-anchor="middle" >Wavelength (nm)</text>
<text x="0" y="0" font-size="12.3" font-weight="bold" fill="#000" text-anchor="middle" transform="translate(248.4,250.1) rotate(-90)">Kubelka-Munk</text>
<text x="0" y="0" font-size="12.3" font-weight="bold" fill="#000" text-anchor="middle" transform="translate(264.4,250.7) rotate(-90)">(arb. units)</text>
<line x1="377.30" y1="197.20" x2="400.10" y2="197.20" stroke="#5a9896" stroke-width="2.5" />
<line x1="377.30" y1="212.80" x2="400.10" y2="212.80" stroke="#f77b7b" stroke-width="2.5" />
<text x="403.8" y="201.1" font-size="10.5" font-weight="bold" fill="#5a9896" text-anchor="start" >In<tspan font-size="7.5" dy="2.5">2</tspan><tspan dy="-2.5">S</tspan><tspan font-size="7.5" dy="2.5">3</tspan></text>
<text x="403.8" y="216.2" font-size="10.5" font-weight="bold" fill="#f77b7b" text-anchor="start" >In<tspan font-size="7.5" dy="2.5">2</tspan><tspan dy="-2.5">S</tspan><tspan font-size="7.5" dy="2.5">3</tspan><tspan dy="-2.5">-V</tspan></text>
<text x="242.5" y="184.8" font-size="20" font-weight="bold" fill="#000" text-anchor="start" >e</text>
<defs><clipPath id="cf"><rect x="496.6" y="186.9" width="187.4" height="138.9"/></clipPath><filter id="blur4" x="-50%" y="-50%" width="200%" height="200%"><feGaussianBlur stdDeviation="4"/></filter><filter id="blur05"><feGaussianBlur stdDeviation="0.5"/></filter><filter id="blur2" x="-50%" y="-50%" width="200%" height="200%"><feGaussianBlur stdDeviation="2.2"/></filter><filter id="tex" x="0" y="0" width="100%" height="100%"><feTurbulence type="fractalNoise" baseFrequency="0.11" numOctaves="2" seed="4"/><feColorMatrix type="matrix" values="0 0 0 0 1  0 0 0 0 1  0 0 0 0 1  1 0 0 0 0"/><feComponentTransfer><feFuncA type="table" tableValues="0 0 0 0 0 0 0 0 0 0 0.5 1 0.5 0 0 0 0 0 0 0 0 0 0"/></feComponentTransfer><feGaussianBlur stdDeviation="0.35"/></filter><filter id="tex2" x="0" y="0" width="100%" height="100%"><feTurbulence type="fractalNoise" baseFrequency="0.13" numOctaves="2" seed="11"/><feColorMatrix type="matrix" values="0 0 0 0 0  0 0 0 0 0  0 0 0 0 0  1 0 0 0 0"/><feComponentTransfer><feFuncA type="table" tableValues="0 0 0 0 0 0 0 0 0 0 0.5 1 0.5 0 0 0 0 0 0 0 0 0 0"/></feComponentTransfer><feGaussianBlur stdDeviation="0.5"/></filter></defs>
<g clip-path="url(#cf)">
<rect x="496.6" y="186.9" width="187.39999999999998" height="138.9" fill="#303030"/>
<defs><radialGradient id="sg0" cx="0.45" cy="0.42" r="0.62"><stop offset="0" stop-color="#848484"/><stop offset="0.75" stop-color="#7a7a7a"/><stop offset="1" stop-color="#6e6e6e"/></radialGradient><radialGradient id="sg1" cx="0.45" cy="0.42" r="0.62"><stop offset="0" stop-color="#888888"/><stop offset="0.75" stop-color="#7e7e7e"/><stop offset="1" stop-color="#727272"/></radialGradient><radialGradient id="sg2" cx="0.45" cy="0.42" r="0.62"><stop offset="0" stop-color="#767676"/><stop offset="0.75" stop-color="#6c6c6c"/><stop offset="1" stop-color="#606060"/></radialGradient><radialGradient id="sg3" cx="0.45" cy="0.42" r="0.62"><stop offset="0" stop-color="#909090"/><stop offset="0.75" stop-color="#868686"/><stop offset="1" stop-color="#7a7a7a"/></radialGradient><radialGradient id="sg4" cx="0.45" cy="0.42" r="0.62"><stop offset="0" stop-color="#707070"/><stop offset="0.75" stop-color="#666666"/><stop offset="1" stop-color="#5a5a5a"/></radialGradient><radialGradient id="sg5" cx="0.45" cy="0.42" r="0.62"><stop offset="0" stop-color="#949494"/><stop offset="0.75" stop-color="#8a8a8a"/><stop offset="1" stop-color="#7e7e7e"/></radialGradient><radialGradient id="sg6" cx="0.45" cy="0.42" r="0.62"><stop offset="0" stop-color="#969696"/><stop offset="0.75" stop-color="#8c8c8c"/><stop offset="1" stop-color="#808080"/></radialGradient><radialGradient id="sg7" cx="0.45" cy="0.42" r="0.62"><stop offset="0" stop-color="#9d9d9d"/><stop offset="0.75" stop-color="#939393"/><stop offset="1" stop-color="#878787"/></radialGradient><radialGradient id="sg8" cx="0.45" cy="0.42" r="0.62"><stop offset="0" stop-color="#9c9c9c"/><stop offset="0.75" stop-color="#929292"/><stop offset="1" stop-color="#868686"/></radialGradient><radialGradient id="sg9" cx="0.45" cy="0.42" r="0.62"><stop offset="0" stop-color="#a8a8a8"/><stop offset="0.75" stop-color="#9e9e9e"/><stop offset="1" stop-color="#929292"/></radialGradient><radialGradient id="sg10" cx="0.45" cy="0.42" r="0.62"><stop offset="0" stop-color="#acacac"/><stop offset="0.75" stop-color="#a2a2a2"/><stop offset="1" stop-color="#969696"/></radialGradient><radialGradient id="sg11" cx="0.45" cy="0.42" r="0.62"><stop offset="0" stop-color="#b7b7b7"/><stop offset="0.75" stop-color="#adadad"/><stop offset="1" stop-color="#a1a1a1"/></radialGradient></defs>
<ellipse cx="592" cy="204" rx="28" ry="22" fill="url(#sg0)" filter="url(#blur2)"/>
<ellipse cx="646" cy="206" rx="40" ry="28" fill="url(#sg1)" filter="url(#blur2)"/>
<ellipse cx="505" cy="190" rx="18" ry="12" fill="url(#sg2)" filter="url(#blur2)"/>
<ellipse cx="550" cy="212" rx="36" ry="26" fill="url(#sg3)" filter="url(#blur2)"/>
<ellipse cx="500" cy="254" rx="18" ry="24" fill="url(#sg4)" filter="url(#blur2)"/>
<ellipse cx="664" cy="260" rx="24" ry="27" fill="url(#sg5)" filter="url(#blur2)"/>
<ellipse cx="566" cy="298" rx="32" ry="24" fill="url(#sg6)" filter="url(#blur2)"/>
<ellipse cx="549" cy="250" rx="35" ry="31" fill="url(#sg7)" filter="url(#blur2)"/>
<ellipse cx="606" cy="256" rx="29" ry="34" fill="url(#sg8)" filter="url(#blur2)"/>
<ellipse cx="521" cy="306" rx="30" ry="24" fill="url(#sg9)" filter="url(#blur2)"/>
<ellipse cx="611" cy="314" rx="28" ry="19" fill="url(#sg10)" filter="url(#blur2)"/>
<ellipse cx="664" cy="304" rx="26" ry="24" fill="url(#sg11)" filter="url(#blur2)"/>
<defs><mask id="msph" maskUnits="userSpaceOnUse" x="496.6" y="186.9" width="187.39999999999998" height="138.9"><g filter="url(#blur2)"><ellipse cx="592" cy="204" rx="27" ry="21" fill="#fff"/><ellipse cx="646" cy="206" rx="39" ry="27" fill="#fff"/><ellipse cx="505" cy="190" rx="17" ry="11" fill="#fff"/><ellipse cx="550" cy="212" rx="35" ry="25" fill="#fff"/><ellipse cx="500" cy="254" rx="17" ry="23" fill="#fff"/><ellipse cx="664" cy="260" rx="23" ry="26" fill="#fff"/><ellipse cx="566" cy="298" rx="31" ry="23" fill="#fff"/><ellipse cx="549" cy="250" rx="34" ry="30" fill="#fff"/><ellipse cx="606" cy="256" rx="28" ry="33" fill="#fff"/><ellipse cx="521" cy="306" rx="29" ry="23" fill="#fff"/><ellipse cx="611" cy="314" rx="27" ry="18" fill="#fff"/><ellipse cx="664" cy="304" rx="25" ry="23" fill="#fff"/></g></mask><filter id="semt" x="0" y="0" width="100%" height="100%"><feTurbulence type="turbulence" baseFrequency="0.13" numOctaves="2" seed="5"/><feColorMatrix type="matrix" values="0 0 0 0 1  0 0 0 0 1  0 0 0 0 1  -4.5 0 0 0 1.2"/><feGaussianBlur stdDeviation="0.85"/></filter><filter id="semd" x="0" y="0" width="100%" height="100%"><feTurbulence type="fractalNoise" baseFrequency="0.045" numOctaves="2" seed="2"/><feColorMatrix type="matrix" values="0 0 0 0 0  0 0 0 0 0  0 0 0 0 0  2.5 0 0 0 -1.0"/></filter></defs>
<g mask="url(#msph)"><rect x="496.6" y="186.9" width="187.39999999999998" height="138.9" filter="url(#semd)" opacity="0.45"/><rect x="496.6" y="186.9" width="187.39999999999998" height="138.9" filter="url(#semt)" opacity="0.55"/></g>
<ellipse cx="508" cy="214" rx="12" ry="18" fill="#181818" transform="rotate(0 508 214)" filter="url(#blur4)"/>
<ellipse cx="554" cy="276" rx="4" ry="4" fill="#2a2a2a" transform="rotate(0 554 276)" filter="url(#blur4)"/>
<ellipse cx="623" cy="238" rx="9" ry="26" fill="#343434" transform="rotate(-30 623 238)" filter="url(#blur4)"/>
<ellipse cx="588" cy="313" rx="5" ry="12" fill="#3a3a3a" transform="rotate(0 588 313)" filter="url(#blur4)"/>
<ellipse cx="612" cy="190" rx="8" ry="5" fill="#2c2c2c" transform="rotate(0 612 190)" filter="url(#blur4)"/>
<path d="M587,226 Q570,256 586,286" fill="none" stroke="#3a3a3a" stroke-width="3" stroke-opacity="0.28" filter="url(#blur2)"/>
</g>
<rect x="637.3" y="311.5" width="41.6" height="6.8" fill="#000" stroke="#fff" stroke-width="1"/>
<text x="655.6" y="304.5" font-size="17" font-weight="bold" fill="#000" text-anchor="middle" >1 µm</text>
<text x="477.0" y="185.9" font-size="20" font-weight="bold" fill="#000" text-anchor="start" >f</text>
<defs><radialGradient id="dotw"><stop offset="0" stop-color="#fff"/><stop offset="0.5" stop-color="#f4f4f4" stop-opacity="0.8"/><stop offset="1" stop-color="#fff" stop-opacity="0"/></radialGradient><radialGradient id="dotwf"><stop offset="0" stop-color="#fff" stop-opacity="0.35"/><stop offset="1" stop-color="#fff" stop-opacity="0"/></radialGradient><filter id="blurl" x="0" y="0" width="100%" height="100%"><feGaussianBlur stdDeviation="0.8"/></filter><filter id="blurl6" x="0" y="0" width="100%" height="100%"><feGaussianBlur stdDeviation="0.6"/></filter><radialGradient id="dotk"><stop offset="0" stop-color="#000"/><stop offset="0.55" stop-color="#000" stop-opacity="0.75"/><stop offset="1" stop-color="#000" stop-opacity="0"/></radialGradient><pattern id="latg" patternUnits="userSpaceOnUse" width="11.6" height="11.6" patternTransform="matrix(0.983 0.198 0.172 0.983 108.1 420.2)"><rect width="11.6" height="11.6" fill="#747474"/><ellipse cx="0.00" cy="0.00" rx="3.9" ry="4.7" fill="url(#dotw)"/><ellipse cx="0.00" cy="11.60" rx="3.9" ry="4.7" fill="url(#dotw)"/><ellipse cx="11.60" cy="0.00" rx="3.9" ry="4.7" fill="url(#dotw)"/><ellipse cx="11.60" cy="11.60" rx="3.9" ry="4.7" fill="url(#dotw)"/><ellipse cx="5.80" cy="5.80" rx="3.6" ry="4.5" fill="url(#dotk)"/></pattern><pattern id="colg" patternUnits="userSpaceOnUse" width="11.6" height="11.6" patternTransform="matrix(0.983 0.198 0.172 0.983 108.1 420.2)"><rect width="11.6" height="11.6" fill="#747474"/><ellipse cx="0.00" cy="5.80" rx="3.2" ry="5.6" fill="url(#dotw)"/><ellipse cx="11.60" cy="5.80" rx="3.2" ry="5.6" fill="url(#dotw)"/><ellipse cx="0.00" cy="0.00" rx="3.6" ry="5.2" fill="url(#dotw)"/><ellipse cx="0.00" cy="11.60" rx="3.6" ry="5.2" fill="url(#dotw)"/><ellipse cx="11.60" cy="0.00" rx="3.6" ry="5.2" fill="url(#dotw)"/><ellipse cx="11.60" cy="11.60" rx="3.6" ry="5.2" fill="url(#dotw)"/><ellipse cx="5.80" cy="5.80" rx="3.0" ry="5.2" fill="url(#dotk)"/><ellipse cx="5.80" cy="0.00" rx="3.0" ry="5.2" fill="url(#dotk)"/><ellipse cx="5.80" cy="11.60" rx="3.0" ry="5.2" fill="url(#dotk)"/></pattern><linearGradient id="mgc" x1="0" y1="0" x2="1" y2="0"><stop offset="0" stop-color="#fff" stop-opacity="0.6"/><stop offset="0.5" stop-color="#fff" stop-opacity="0.45"/><stop offset="1" stop-color="#fff" stop-opacity="0"/></linearGradient><mask id="mskc" maskUnits="userSpaceOnUse" x="31" y="367" width="139" height="139"><rect x="31" y="367" width="60" height="139" fill="url(#mgc)"/></mask><linearGradient id="strg" x1="0" y1="0" x2="1" y2="0"><stop offset="0" stop-color="#000"/><stop offset="0.22" stop-color="#5a5a5a"/><stop offset="0.5" stop-color="#f4f4f4"/><stop offset="0.78" stop-color="#5a5a5a"/><stop offset="1" stop-color="#000"/></linearGradient><pattern id="stripes" patternUnits="userSpaceOnUse" width="8.75" height="30" patternTransform="translate(33,367) rotate(-7)"><rect width="8.75" height="30" fill="url(#strg)"/></pattern><linearGradient id="mgs" x1="0" y1="0" x2="1" y2="0"><stop offset="0" stop-color="#fff" stop-opacity="0.95"/><stop offset="0.55" stop-color="#fff" stop-opacity="0.6"/><stop offset="1" stop-color="#fff" stop-opacity="0"/></linearGradient><mask id="mskg" maskUnits="userSpaceOnUse" x="31" y="367" width="139" height="139"><rect x="31" y="367" width="55" height="139" fill="url(#mgs)"/></mask><pattern id="lati" patternUnits="userSpaceOnUse" width="11.5" height="10.8" patternTransform="matrix(1 0.1217 0.1065 1 387.7 411.5)"><rect width="11.5" height="10.8" fill="#7e7e7e"/><ellipse cx="0.00" cy="0.00" rx="3.9" ry="5.0" fill="url(#dotw)"/><ellipse cx="0.00" cy="10.80" rx="3.9" ry="5.0" fill="url(#dotw)"/><ellipse cx="11.50" cy="0.00" rx="3.9" ry="5.0" fill="url(#dotw)"/><ellipse cx="11.50" cy="10.80" rx="3.9" ry="5.0" fill="url(#dotw)"/><ellipse cx="5.75" cy="5.40" rx="3.8" ry="5.0" fill="url(#dotk)"/></pattern><pattern id="stripesi" patternUnits="userSpaceOnUse" width="8.5" height="30" patternTransform="translate(382,367) rotate(-6)"><rect width="8.5" height="30" fill="url(#strg)"/></pattern><radialGradient id="mgi" cx="0" cy="1" r="1"><stop offset="0" stop-color="#fff" stop-opacity="0.9"/><stop offset="0.5" stop-color="#fff" stop-opacity="0.5"/><stop offset="1" stop-color="#fff" stop-opacity="0"/></radialGradient><mask id="mski" maskUnits="userSpaceOnUse" x="379" y="367" width="139" height="139"><rect x="379.5" y="420" width="50" height="85" fill="url(#mgi)"/></mask><radialGradient id="fadei" cx="0.85" cy="1" r="1.05"><stop offset="0" stop-color="#8a8a8a" stop-opacity="0.62"/><stop offset="0.45" stop-color="#8a8a8a" stop-opacity="0.42"/><stop offset="0.85" stop-color="#8a8a8a" stop-opacity="0"/></radialGradient></defs>
<rect x="31.1" y="367.0" width="138.4" height="138.4" fill="#7c7c7c"/>
<g filter="url(#blurl)"><rect x="31.1" y="367.0" width="138.4" height="138.4" fill="url(#latg)"/><rect x="31.1" y="367.0" width="138.4" height="138.4" fill="url(#colg)" mask="url(#mskc)"/></g>
<rect x="107.8" y="367.2" width="62" height="31.5" fill="#508c88" fill-opacity="0.64"/>
<text x="116.0" y="390.4" font-size="19.6" font-weight="bold" fill="#fff" text-anchor="start" >In<tspan font-size="13.5" dy="4.5">2</tspan><tspan dy="-4.5">S</tspan><tspan font-size="13.5" dy="4.5">3</tspan></text>
<line x1="72.8" y1="407.8" x2="85.4" y2="486.5" stroke="#f01818" stroke-width="1.9" stroke-dasharray="7.4,6.8"/>
<rect x="130.8" y="495.0" width="30.2" height="4.1" fill="#000" stroke="#fff" stroke-width="0.8"/>
<text x="146.1" y="489.8" font-size="12.6" font-weight="bold" fill="#000" text-anchor="middle" >1 nm</text>
<text x="10.1" y="371.6" font-size="20" font-weight="bold" fill="#000" text-anchor="start" >g</text>
<rect x="379.5" y="367.8" width="137.2" height="136.8" fill="#7e7e7e"/>
<rect x="379.5" y="367.8" width="137.2" height="136.8" fill="url(#lati)" filter="url(#blurl6)"/>
<rect x="379.5" y="367.8" width="137.2" height="136.8" fill="url(#fadei)"/>
<rect x="435.2" y="367.3" width="81.8" height="31.7" fill="#e88a8a" fill-opacity="0.6"/>
<text x="443.3" y="390.6" font-size="20" font-weight="bold" fill="#fff" text-anchor="start" >In<tspan font-size="14" dy="4.6">2</tspan><tspan dy="-4.6">S</tspan><tspan font-size="14" dy="4.6">3</tspan><tspan dy="-4.6">-V</tspan></text>
<line x1="420.0" y1="401.6" x2="432.2" y2="480.7" stroke="#f01818" stroke-width="1.9" stroke-dasharray="8,6.4"/>
<path d="M465.7,472.8 L476.2,471.7 M470.9,472.3 L471.8,483.8" stroke="#f7bb08" stroke-width="2.2" fill="none"/>
<path d="M491.5,464.4 L501.4,463.6 M495.2,453.1 L495.8,464" stroke="#f7bb08" stroke-width="2.2" fill="none"/>
<rect x="386.4" y="493.6" width="24.1" height="5.1" fill="#000" stroke="#fff" stroke-width="0.8"/>
<text x="398.5" y="487.1" font-size="12.6" font-weight="bold" fill="#000" text-anchor="middle" >1 nm</text>
<text x="358.2" y="371.5" font-size="20" font-weight="bold" fill="#000" text-anchor="start" >i</text>
<defs><linearGradient id="gh" x1="0" y1="0" x2="0" y2="1" gradientUnits="userSpaceOnUse" x1="0" y1="385" x2="0" y2="490"></linearGradient></defs>
<defs><linearGradient id="gh2" gradientUnits="userSpaceOnUse" x1="0" y1="388" x2="0" y2="490"><stop offset="0" stop-color="#5f9794"/><stop offset="1" stop-color="#d6e6e4"/></linearGradient></defs>
<path d="M213.10,405.80 L213.52,406.34 L213.94,407.95 L214.36,410.56 L214.78,414.07 L215.19,418.36 L215.61,423.24 L216.03,428.54 L216.45,434.05 L216.87,439.56 L217.29,444.86 L217.71,449.74 L218.12,454.03 L218.54,457.54 L218.96,460.15 L219.38,461.76 L219.80,462.30 L220.17,461.70 L220.54,459.91 L220.91,457.02 L221.28,453.12 L221.64,448.37 L222.01,442.95 L222.38,437.07 L222.75,430.95 L223.12,424.83 L223.49,418.95 L223.86,413.53 L224.22,408.78 L224.59,404.88 L224.96,401.99 L225.33,400.20 L225.70,399.60 L226.09,400.22 L226.47,402.06 L226.86,405.04 L227.25,409.06 L227.64,413.96 L228.03,419.54 L228.41,425.60 L228.80,431.90 L229.19,438.20 L229.57,444.26 L229.96,449.84 L230.35,454.74 L230.74,458.76 L231.12,461.74 L231.51,463.58 L231.90,464.20 L232.27,463.60 L232.64,461.82 L233.01,458.93 L233.38,455.05 L233.74,450.31 L234.11,444.91 L234.48,439.05 L234.85,432.95 L235.22,426.85 L235.59,420.99 L235.96,415.59 L236.33,410.85 L236.69,406.97 L237.06,404.08 L237.43,402.30 L237.80,401.70 L238.19,402.38 L238.58,404.39 L238.96,407.65 L239.35,412.04 L239.74,417.39 L240.12,423.49 L240.51,430.11 L240.90,437.00 L241.29,443.89 L241.68,450.51 L242.06,456.61 L242.45,461.96 L242.84,466.35 L243.22,469.61 L243.61,471.62 L244.00,472.30 L244.39,471.60 L244.78,469.51 L245.16,466.12 L245.55,461.57 L245.94,456.01 L246.32,449.68 L246.71,442.80 L247.10,435.65 L247.49,428.50 L247.88,421.62 L248.26,415.29 L248.65,409.73 L249.04,405.18 L249.42,401.79 L249.81,399.70 L250.20,399.00 L250.57,399.76 L250.95,402.03 L251.32,405.70 L251.70,410.64 L252.07,416.67 L252.45,423.54 L252.82,431.00 L253.20,438.75 L253.57,446.50 L253.95,453.96 L254.32,460.83 L254.70,466.86 L255.07,471.80 L255.45,475.47 L255.82,477.74 L256.20,478.50 L256.58,477.81 L256.96,475.75 L257.34,472.42 L257.73,467.93 L258.11,462.46 L258.49,456.21 L258.87,449.44 L259.25,442.40 L259.63,435.36 L260.01,428.59 L260.39,422.34 L260.77,416.87 L261.16,412.38 L261.54,409.05 L261.92,406.99 L262.30,406.30 L262.68,406.86 L263.05,408.52 L263.43,411.20 L263.80,414.82 L264.18,419.23 L264.55,424.26 L264.93,429.72 L265.30,435.40 L265.68,441.08 L266.05,446.54 L266.43,451.57 L266.80,455.98 L267.18,459.60 L267.55,462.28 L267.93,463.94 L268.30,464.50 L268.69,463.87 L269.07,461.99 L269.46,458.94 L269.85,454.83 L270.24,449.83 L270.62,444.13 L271.01,437.94 L271.40,431.50 L271.79,425.06 L272.18,418.87 L272.56,413.17 L272.95,408.17 L273.34,404.06 L273.73,401.01 L274.11,399.13 L274.50,398.50 L274.89,399.15 L275.29,401.08 L275.68,404.22 L276.07,408.44 L276.47,413.59 L276.86,419.46 L277.26,425.83 L277.65,432.45 L278.04,439.07 L278.44,445.44 L278.83,451.31 L279.23,456.46 L279.62,460.68 L280.01,463.82 L280.41,465.75 L280.80,466.40 L281.22,465.67 L281.64,463.51 L282.06,460.00 L282.48,455.27 L282.89,449.51 L283.31,442.94 L283.73,435.81 L284.15,428.40 L284.57,420.99 L284.99,413.86 L285.41,407.29 L285.82,401.53 L286.24,396.80 L286.66,393.29 L287.08,391.13 L287.50,390.40 L287.87,391.10 L288.24,393.17 L288.61,396.53 L288.98,401.05 L289.34,406.56 L289.71,412.84 L290.08,419.66 L290.45,426.75 L290.82,433.84 L291.19,440.66 L291.56,446.94 L291.92,452.45 L292.29,456.97 L292.66,460.33 L293.03,462.40 L293.40,463.10 L293.79,462.44 L294.17,460.48 L294.56,457.29 L294.95,453.01 L295.34,447.79 L295.73,441.83 L296.11,435.37 L296.50,428.65 L296.89,421.93 L297.27,415.47 L297.66,409.51 L298.05,404.29 L298.44,400.01 L298.83,396.82 L299.21,394.86 L299.60,394.20 L299.99,394.84 L300.38,396.72 L300.76,399.78 L301.15,403.89 L301.54,408.91 L301.93,414.63 L302.31,420.84 L302.70,427.30 L303.09,433.76 L303.48,439.97 L303.86,445.69 L304.25,450.71 L304.64,454.82 L305.03,457.88 L305.41,459.76 L305.80,460.40 L306.19,459.74 L306.57,457.78 L306.96,454.59 L307.35,450.31 L307.74,445.09 L308.12,439.13 L308.51,432.67 L308.90,425.95 L309.29,419.23 L309.68,412.77 L310.06,406.81 L310.45,401.59 L310.84,397.31 L311.23,394.12 L311.61,392.16 L312.00,391.50 L312.41,392.28 L312.81,394.58 L313.22,398.33 L313.62,403.36 L314.03,409.50 L314.44,416.50 L314.84,424.10 L315.25,432.00 L315.66,439.90 L316.06,447.50 L316.47,454.50 L316.88,460.64 L317.28,465.67 L317.69,469.42 L318.09,471.72 L318.50,472.50 L318.92,471.80 L319.34,469.73 L319.76,466.36 L320.18,461.82 L320.59,456.30 L321.01,450.00 L321.43,443.16 L321.85,436.05 L322.27,428.94 L322.69,422.10 L323.11,415.80 L323.52,410.28 L323.94,405.74 L324.36,402.37 L324.78,400.30 L325.20,399.60 L325.61,400.16 L326.01,401.80 L326.42,404.48 L326.82,408.08 L327.23,412.47 L327.64,417.47 L328.04,422.90 L328.45,428.55 L328.86,434.20 L329.26,439.63 L329.67,444.63 L330.07,449.02 L330.48,452.62 L330.89,455.30 L331.29,456.94 L331.70,457.50 L331.84,457.46 L331.97,457.32 L332.11,457.11 L332.25,456.83 L332.39,456.48 L332.52,456.08 L332.66,455.65 L332.80,455.20 L332.94,454.75 L333.07,454.32 L333.21,453.92 L333.35,453.57 L333.49,453.29 L333.62,453.08 L333.76,452.94 L333.90,452.90 L333.6,489.9 L213.1,489.9 Z" fill="url(#gh2)"/>
<path d="M213.10,405.80 L213.52,406.34 L213.94,407.95 L214.36,410.56 L214.78,414.07 L215.19,418.36 L215.61,423.24 L216.03,428.54 L216.45,434.05 L216.87,439.56 L217.29,444.86 L217.71,449.74 L218.12,454.03 L218.54,457.54 L218.96,460.15 L219.38,461.76 L219.80,462.30 L220.17,461.70 L220.54,459.91 L220.91,457.02 L221.28,453.12 L221.64,448.37 L222.01,442.95 L222.38,437.07 L222.75,430.95 L223.12,424.83 L223.49,418.95 L223.86,413.53 L224.22,408.78 L224.59,404.88 L224.96,401.99 L225.33,400.20 L225.70,399.60 L226.09,400.22 L226.47,402.06 L226.86,405.04 L227.25,409.06 L227.64,413.96 L228.03,419.54 L228.41,425.60 L228.80,431.90 L229.19,438.20 L229.57,444.26 L229.96,449.84 L230.35,454.74 L230.74,458.76 L231.12,461.74 L231.51,463.58 L231.90,464.20 L232.27,463.60 L232.64,461.82 L233.01,458.93 L233.38,455.05 L233.74,450.31 L234.11,444.91 L234.48,439.05 L234.85,432.95 L235.22,426.85 L235.59,420.99 L235.96,415.59 L236.33,410.85 L236.69,406.97 L237.06,404.08 L237.43,402.30 L237.80,401.70 L238.19,402.38 L238.58,404.39 L238.96,407.65 L239.35,412.04 L239.74,417.39 L240.12,423.49 L240.51,430.11 L240.90,437.00 L241.29,443.89 L241.68,450.51 L242.06,456.61 L242.45,461.96 L242.84,466.35 L243.22,469.61 L243.61,471.62 L244.00,472.30 L244.39,471.60 L244.78,469.51 L245.16,466.12 L245.55,461.57 L245.94,456.01 L246.32,449.68 L246.71,442.80 L247.10,435.65 L247.49,428.50 L247.88,421.62 L248.26,415.29 L248.65,409.73 L249.04,405.18 L249.42,401.79 L249.81,399.70 L250.20,399.00 L250.57,399.76 L250.95,402.03 L251.32,405.70 L251.70,410.64 L252.07,416.67 L252.45,423.54 L252.82,431.00 L253.20,438.75 L253.57,446.50 L253.95,453.96 L254.32,460.83 L254.70,466.86 L255.07,471.80 L255.45,475.47 L255.82,477.74 L256.20,478.50 L256.58,477.81 L256.96,475.75 L257.34,472.42 L257.73,467.93 L258.11,462.46 L258.49,456.21 L258.87,449.44 L259.25,442.40 L259.63,435.36 L260.01,428.59 L260.39,422.34 L260.77,416.87 L261.16,412.38 L261.54,409.05 L261.92,406.99 L262.30,406.30 L262.68,406.86 L263.05,408.52 L263.43,411.20 L263.80,414.82 L264.18,419.23 L264.55,424.26 L264.93,429.72 L265.30,435.40 L265.68,441.08 L266.05,446.54 L266.43,451.57 L266.80,455.98 L267.18,459.60 L267.55,462.28 L267.93,463.94 L268.30,464.50 L268.69,463.87 L269.07,461.99 L269.46,458.94 L269.85,454.83 L270.24,449.83 L270.62,444.13 L271.01,437.94 L271.40,431.50 L271.79,425.06 L272.18,418.87 L272.56,413.17 L272.95,408.17 L273.34,404.06 L273.73,401.01 L274.11,399.13 L274.50,398.50 L274.89,399.15 L275.29,401.08 L275.68,404.22 L276.07,408.44 L276.47,413.59 L276.86,419.46 L277.26,425.83 L277.65,432.45 L278.04,439.07 L278.44,445.44 L278.83,451.31 L279.23,456.46 L279.62,460.68 L280.01,463.82 L280.41,465.75 L280.80,466.40 L281.22,465.67 L281.64,463.51 L282.06,460.00 L282.48,455.27 L282.89,449.51 L283.31,442.94 L283.73,435.81 L284.15,428.40 L284.57,420.99 L284.99,413.86 L285.41,407.29 L285.82,401.53 L286.24,396.80 L286.66,393.29 L287.08,391.13 L287.50,390.40 L287.87,391.10 L288.24,393.17 L288.61,396.53 L288.98,401.05 L289.34,406.56 L289.71,412.84 L290.08,419.66 L290.45,426.75 L290.82,433.84 L291.19,440.66 L291.56,446.94 L291.92,452.45 L292.29,456.97 L292.66,460.33 L293.03,462.40 L293.40,463.10 L293.79,462.44 L294.17,460.48 L294.56,457.29 L294.95,453.01 L295.34,447.79 L295.73,441.83 L296.11,435.37 L296.50,428.65 L296.89,421.93 L297.27,415.47 L297.66,409.51 L298.05,404.29 L298.44,400.01 L298.83,396.82 L299.21,394.86 L299.60,394.20 L299.99,394.84 L300.38,396.72 L300.76,399.78 L301.15,403.89 L301.54,408.91 L301.93,414.63 L302.31,420.84 L302.70,427.30 L303.09,433.76 L303.48,439.97 L303.86,445.69 L304.25,450.71 L304.64,454.82 L305.03,457.88 L305.41,459.76 L305.80,460.40 L306.19,459.74 L306.57,457.78 L306.96,454.59 L307.35,450.31 L307.74,445.09 L308.12,439.13 L308.51,432.67 L308.90,425.95 L309.29,419.23 L309.68,412.77 L310.06,406.81 L310.45,401.59 L310.84,397.31 L311.23,394.12 L311.61,392.16 L312.00,391.50 L312.41,392.28 L312.81,394.58 L313.22,398.33 L313.62,403.36 L314.03,409.50 L314.44,416.50 L314.84,424.10 L315.25,432.00 L315.66,439.90 L316.06,447.50 L316.47,454.50 L316.88,460.64 L317.28,465.67 L317.69,469.42 L318.09,471.72 L318.50,472.50 L318.92,471.80 L319.34,469.73 L319.76,466.36 L320.18,461.82 L320.59,456.30 L321.01,450.00 L321.43,443.16 L321.85,436.05 L322.27,428.94 L322.69,422.10 L323.11,415.80 L323.52,410.28 L323.94,405.74 L324.36,402.37 L324.78,400.30 L325.20,399.60 L325.61,400.16 L326.01,401.80 L326.42,404.48 L326.82,408.08 L327.23,412.47 L327.64,417.47 L328.04,422.90 L328.45,428.55 L328.86,434.20 L329.26,439.63 L329.67,444.63 L330.07,449.02 L330.48,452.62 L330.89,455.30 L331.29,456.94 L331.70,457.50 L331.84,457.46 L331.97,457.32 L332.11,457.11 L332.25,456.83 L332.39,456.48 L332.52,456.08 L332.66,455.65 L332.80,455.20 L332.94,454.75 L333.07,454.32 L333.21,453.92 L333.35,453.57 L333.49,453.29 L333.62,453.08 L333.76,452.94 L333.90,452.90" fill="none" stroke="#5a9693" stroke-width="1"/>
<rect x="213.1" y="370.4" width="120.50000000000003" height="119.5" fill="none" stroke="#6a6a6a" stroke-width="1"/>
<line x1="213.10" y1="489.90" x2="213.10" y2="492.30" stroke="#6a6a6a" stroke-width="0.9" />
<text x="213.1" y="502.5" font-size="11" fill="#111" text-anchor="middle" >0</text>
<line x1="234.55" y1="489.90" x2="234.55" y2="491.30" stroke="#6a6a6a" stroke-width="0.9" />
<line x1="256.00" y1="489.90" x2="256.00" y2="492.30" stroke="#6a6a6a" stroke-width="0.9" />
<text x="256.0" y="502.5" font-size="11" fill="#111" text-anchor="middle" >1</text>
<line x1="277.45" y1="489.90" x2="277.45" y2="491.30" stroke="#6a6a6a" stroke-width="0.9" />
<line x1="298.90" y1="489.90" x2="298.90" y2="492.30" stroke="#6a6a6a" stroke-width="0.9" />
<text x="298.9" y="502.5" font-size="11" fill="#111" text-anchor="middle" >2</text>
<line x1="320.35" y1="489.90" x2="320.35" y2="491.30" stroke="#6a6a6a" stroke-width="0.9" />
<text x="273.2" y="516.0" font-size="11.5" font-weight="bold" fill="#000" text-anchor="middle" >Distance (nm)</text>
<text x="0" y="0" font-size="11.6" font-weight="bold" fill="#000" text-anchor="middle" transform="translate(205.8,436.9) rotate(-90)">Intrnsity (arb. units)</text>
<text x="330.2" y="382.0" font-size="10" font-weight="bold" fill="#5a9693" text-anchor="end" >In<tspan font-size="7.2" dy="2.6">2</tspan><tspan dy="-2.6">S</tspan><tspan font-size="7.2" dy="2.6">3</tspan></text>
<text x="189.3" y="371.4" font-size="19" font-weight="bold" fill="#000" text-anchor="start" >h</text>
<defs><linearGradient id="gj" gradientUnits="userSpaceOnUse" x1="0" y1="385" x2="0" y2="491"><stop offset="0" stop-color="#f57f7f"/><stop offset="1" stop-color="#fdbcbc"/></linearGradient></defs>
<path d="M561.40,384.40 L561.65,385.13 L561.90,387.31 L562.15,390.85 L562.40,395.60 L562.65,401.40 L562.90,408.01 L563.15,415.19 L563.40,422.65 L563.65,430.11 L563.90,437.29 L564.15,443.90 L564.40,449.70 L564.65,454.45 L564.90,457.99 L565.15,460.17 L565.40,460.90 L565.76,460.21 L566.11,458.19 L566.47,454.89 L566.83,450.46 L567.18,445.06 L567.54,438.89 L567.89,432.20 L568.25,425.25 L568.61,418.30 L568.96,411.61 L569.32,405.44 L569.67,400.04 L570.03,395.61 L570.39,392.31 L570.74,390.29 L571.10,389.60 L571.51,390.44 L571.91,392.93 L572.32,396.96 L572.73,402.40 L573.13,409.02 L573.54,416.58 L573.94,424.77 L574.35,433.30 L574.76,441.83 L575.16,450.02 L575.57,457.58 L575.98,464.20 L576.38,469.64 L576.79,473.67 L577.19,476.16 L577.60,477.00 L577.94,476.20 L578.27,473.84 L578.61,470.01 L578.95,464.84 L579.29,458.56 L579.62,451.38 L579.96,443.60 L580.30,435.50 L580.64,427.40 L580.98,419.62 L581.31,412.44 L581.65,406.16 L581.99,400.99 L582.33,397.16 L582.66,394.80 L583.00,394.00 L583.36,394.70 L583.71,396.77 L584.07,400.14 L584.42,404.68 L584.78,410.20 L585.14,416.50 L585.49,423.34 L585.85,430.45 L586.21,437.56 L586.56,444.40 L586.92,450.70 L587.28,456.22 L587.63,460.76 L587.99,464.13 L588.34,466.20 L588.70,466.90 L589.08,466.41 L589.45,464.97 L589.83,462.64 L590.20,459.49 L590.58,455.66 L590.95,451.28 L591.33,446.54 L591.70,441.60 L592.08,436.66 L592.45,431.92 L592.83,427.54 L593.20,423.71 L593.58,420.56 L593.95,418.23 L594.33,416.79 L594.70,416.30 L595.06,416.76 L595.41,418.13 L595.77,420.34 L596.12,423.33 L596.48,426.97 L596.84,431.12 L597.19,435.62 L597.55,440.30 L597.91,444.98 L598.26,449.48 L598.62,453.63 L598.98,457.27 L599.33,460.26 L599.69,462.47 L600.04,463.84 L600.40,464.30 L600.81,463.84 L601.21,462.47 L601.62,460.26 L602.02,457.27 L602.43,453.63 L602.84,449.48 L603.24,444.98 L603.65,440.30 L604.06,435.62 L604.46,431.12 L604.87,426.97 L605.27,423.33 L605.68,420.34 L606.09,418.13 L606.49,416.76 L606.90,416.30 L607.30,416.62 L607.70,417.56 L608.10,419.08 L608.50,421.13 L608.90,423.63 L609.30,426.49 L609.70,429.58 L610.10,432.80 L610.50,436.02 L610.90,439.11 L611.30,441.97 L611.70,444.47 L612.10,446.52 L612.50,448.04 L612.90,448.98 L613.30,449.30 L613.58,449.16 L613.86,448.76 L614.14,448.10 L614.42,447.21 L614.71,446.12 L614.99,444.89 L615.27,443.54 L615.55,442.15 L615.83,440.76 L616.11,439.41 L616.39,438.18 L616.67,437.09 L616.96,436.20 L617.24,435.54 L617.52,435.14 L617.80,435.00 L618.19,435.17 L618.59,435.67 L618.98,436.48 L619.38,437.58 L619.77,438.91 L620.16,440.43 L620.56,442.08 L620.95,443.80 L621.34,445.52 L621.74,447.17 L622.13,448.69 L622.52,450.02 L622.92,451.12 L623.31,451.93 L623.71,452.43 L624.10,452.60 L624.51,452.27 L624.91,451.31 L625.32,449.74 L625.73,447.64 L626.13,445.07 L626.54,442.14 L626.94,438.96 L627.35,435.65 L627.76,432.34 L628.16,429.16 L628.57,426.23 L628.98,423.66 L629.38,421.56 L629.79,419.99 L630.19,419.03 L630.60,418.70 L631.08,419.28 L631.56,421.00 L632.04,423.79 L632.52,427.55 L633.01,432.12 L633.49,437.34 L633.97,443.01 L634.45,448.90 L634.93,454.79 L635.41,460.46 L635.89,465.68 L636.38,470.25 L636.86,474.01 L637.34,476.80 L637.82,478.52 L638.30,479.10 L638.74,478.68 L639.17,477.42 L639.61,475.38 L640.05,472.64 L640.49,469.30 L640.92,465.49 L641.36,461.35 L641.80,457.05 L642.24,452.75 L642.67,448.61 L643.11,444.80 L643.55,441.46 L643.99,438.72 L644.42,436.68 L644.86,435.42 L645.30,435.00 L645.59,435.29 L645.89,436.13 L646.18,437.51 L646.47,439.36 L646.77,441.62 L647.06,444.20 L647.36,446.99 L647.65,449.90 L647.94,452.81 L648.24,455.60 L648.53,458.18 L648.83,460.44 L649.12,462.29 L649.41,463.67 L649.71,464.51 L650.00,464.80 L650.33,464.68 L650.65,464.31 L650.98,463.71 L651.30,462.91 L651.62,461.93 L651.95,460.82 L652.27,459.61 L652.60,458.35 L652.93,457.09 L653.25,455.88 L653.58,454.77 L653.90,453.79 L654.23,452.99 L654.55,452.39 L654.88,452.02 L655.20,451.90 L655.57,452.14 L655.94,452.86 L656.31,454.02 L656.68,455.58 L657.04,457.48 L657.41,459.65 L657.78,462.00 L658.15,464.45 L658.52,466.90 L658.89,469.25 L659.26,471.42 L659.62,473.32 L659.99,474.88 L660.36,476.04 L660.73,476.76 L661.10,477.00 L661.46,476.76 L661.83,476.04 L662.19,474.88 L662.55,473.32 L662.91,471.42 L663.27,469.25 L663.64,466.90 L664.00,464.45 L664.36,462.00 L664.73,459.65 L665.09,457.48 L665.45,455.58 L665.81,454.02 L666.17,452.86 L666.54,452.14 L666.90,451.90 L667.26,452.14 L667.61,452.84 L667.97,453.97 L668.33,455.50 L668.68,457.37 L669.04,459.49 L669.39,461.80 L669.75,464.20 L670.11,466.60 L670.46,468.91 L670.82,471.03 L671.17,472.90 L671.53,474.43 L671.89,475.56 L672.24,476.26 L672.60,476.50 L672.94,476.32 L673.27,475.79 L673.61,474.92 L673.95,473.76 L674.29,472.34 L674.62,470.73 L674.96,468.97 L675.30,467.15 L675.64,465.33 L675.98,463.57 L676.31,461.96 L676.65,460.54 L676.99,459.38 L677.33,458.51 L677.66,457.98 L678.00,457.80 L678.25,457.93 L678.50,458.31 L678.75,458.94 L679.00,459.78 L679.25,460.80 L679.50,461.97 L679.75,463.23 L680.00,464.55 L680.25,465.87 L680.50,467.13 L680.75,468.30 L681.00,469.32 L681.25,470.16 L681.50,470.79 L681.75,471.17 L682.00,471.30 L682.0,491.3 L561.4,491.3 Z" fill="url(#gj)"/>
<path d="M561.40,384.40 L561.65,385.13 L561.90,387.31 L562.15,390.85 L562.40,395.60 L562.65,401.40 L562.90,408.01 L563.15,415.19 L563.40,422.65 L563.65,430.11 L563.90,437.29 L564.15,443.90 L564.40,449.70 L564.65,454.45 L564.90,457.99 L565.15,460.17 L565.40,460.90 L565.76,460.21 L566.11,458.19 L566.47,454.89 L566.83,450.46 L567.18,445.06 L567.54,438.89 L567.89,432.20 L568.25,425.25 L568.61,418.30 L568.96,411.61 L569.32,405.44 L569.67,400.04 L570.03,395.61 L570.39,392.31 L570.74,390.29 L571.10,389.60 L571.51,390.44 L571.91,392.93 L572.32,396.96 L572.73,402.40 L573.13,409.02 L573.54,416.58 L573.94,424.77 L574.35,433.30 L574.76,441.83 L575.16,450.02 L575.57,457.58 L575.98,464.20 L576.38,469.64 L576.79,473.67 L577.19,476.16 L577.60,477.00 L577.94,476.20 L578.27,473.84 L578.61,470.01 L578.95,464.84 L579.29,458.56 L579.62,451.38 L579.96,443.60 L580.30,435.50 L580.64,427.40 L580.98,419.62 L581.31,412.44 L581.65,406.16 L581.99,400.99 L582.33,397.16 L582.66,394.80 L583.00,394.00 L583.36,394.70 L583.71,396.77 L584.07,400.14 L584.42,404.68 L584.78,410.20 L585.14,416.50 L585.49,423.34 L585.85,430.45 L586.21,437.56 L586.56,444.40 L586.92,450.70 L587.28,456.22 L587.63,460.76 L587.99,464.13 L588.34,466.20 L588.70,466.90 L589.08,466.41 L589.45,464.97 L589.83,462.64 L590.20,459.49 L590.58,455.66 L590.95,451.28 L591.33,446.54 L591.70,441.60 L592.08,436.66 L592.45,431.92 L592.83,427.54 L593.20,423.71 L593.58,420.56 L593.95,418.23 L594.33,416.79 L594.70,416.30 L595.06,416.76 L595.41,418.13 L595.77,420.34 L596.12,423.33 L596.48,426.97 L596.84,431.12 L597.19,435.62 L597.55,440.30 L597.91,444.98 L598.26,449.48 L598.62,453.63 L598.98,457.27 L599.33,460.26 L599.69,462.47 L600.04,463.84 L600.40,464.30 L600.81,463.84 L601.21,462.47 L601.62,460.26 L602.02,457.27 L602.43,453.63 L602.84,449.48 L603.24,444.98 L603.65,440.30 L604.06,435.62 L604.46,431.12 L604.87,426.97 L605.27,423.33 L605.68,420.34 L606.09,418.13 L606.49,416.76 L606.90,416.30 L607.30,416.62 L607.70,417.56 L608.10,419.08 L608.50,421.13 L608.90,423.63 L609.30,426.49 L609.70,429.58 L610.10,432.80 L610.50,436.02 L610.90,439.11 L611.30,441.97 L611.70,444.47 L612.10,446.52 L612.50,448.04 L612.90,448.98 L613.30,449.30 L613.58,449.16 L613.86,448.76 L614.14,448.10 L614.42,447.21 L614.71,446.12 L614.99,444.89 L615.27,443.54 L615.55,442.15 L615.83,440.76 L616.11,439.41 L616.39,438.18 L616.67,437.09 L616.96,436.20 L617.24,435.54 L617.52,435.14 L617.80,435.00 L618.19,435.17 L618.59,435.67 L618.98,436.48 L619.38,437.58 L619.77,438.91 L620.16,440.43 L620.56,442.08 L620.95,443.80 L621.34,445.52 L621.74,447.17 L622.13,448.69 L622.52,450.02 L622.92,451.12 L623.31,451.93 L623.71,452.43 L624.10,452.60 L624.51,452.27 L624.91,451.31 L625.32,449.74 L625.73,447.64 L626.13,445.07 L626.54,442.14 L626.94,438.96 L627.35,435.65 L627.76,432.34 L628.16,429.16 L628.57,426.23 L628.98,423.66 L629.38,421.56 L629.79,419.99 L630.19,419.03 L630.60,418.70 L631.08,419.28 L631.56,421.00 L632.04,423.79 L632.52,427.55 L633.01,432.12 L633.49,437.34 L633.97,443.01 L634.45,448.90 L634.93,454.79 L635.41,460.46 L635.89,465.68 L636.38,470.25 L636.86,474.01 L637.34,476.80 L637.82,478.52 L638.30,479.10 L638.74,478.68 L639.17,477.42 L639.61,475.38 L640.05,472.64 L640.49,469.30 L640.92,465.49 L641.36,461.35 L641.80,457.05 L642.24,452.75 L642.67,448.61 L643.11,444.80 L643.55,441.46 L643.99,438.72 L644.42,436.68 L644.86,435.42 L645.30,435.00 L645.59,435.29 L645.89,436.13 L646.18,437.51 L646.47,439.36 L646.77,441.62 L647.06,444.20 L647.36,446.99 L647.65,449.90 L647.94,452.81 L648.24,455.60 L648.53,458.18 L648.83,460.44 L649.12,462.29 L649.41,463.67 L649.71,464.51 L650.00,464.80 L650.33,464.68 L650.65,464.31 L650.98,463.71 L651.30,462.91 L651.62,461.93 L651.95,460.82 L652.27,459.61 L652.60,458.35 L652.93,457.09 L653.25,455.88 L653.58,454.77 L653.90,453.79 L654.23,452.99 L654.55,452.39 L654.88,452.02 L655.20,451.90 L655.57,452.14 L655.94,452.86 L656.31,454.02 L656.68,455.58 L657.04,457.48 L657.41,459.65 L657.78,462.00 L658.15,464.45 L658.52,466.90 L658.89,469.25 L659.26,471.42 L659.62,473.32 L659.99,474.88 L660.36,476.04 L660.73,476.76 L661.10,477.00 L661.46,476.76 L661.83,476.04 L662.19,474.88 L662.55,473.32 L662.91,471.42 L663.27,469.25 L663.64,466.90 L664.00,464.45 L664.36,462.00 L664.73,459.65 L665.09,457.48 L665.45,455.58 L665.81,454.02 L666.17,452.86 L666.54,452.14 L666.90,451.90 L667.26,452.14 L667.61,452.84 L667.97,453.97 L668.33,455.50 L668.68,457.37 L669.04,459.49 L669.39,461.80 L669.75,464.20 L670.11,466.60 L670.46,468.91 L670.82,471.03 L671.17,472.90 L671.53,474.43 L671.89,475.56 L672.24,476.26 L672.60,476.50 L672.94,476.32 L673.27,475.79 L673.61,474.92 L673.95,473.76 L674.29,472.34 L674.62,470.73 L674.96,468.97 L675.30,467.15 L675.64,465.33 L675.98,463.57 L676.31,461.96 L676.65,460.54 L676.99,459.38 L677.33,458.51 L677.66,457.98 L678.00,457.80 L678.25,457.93 L678.50,458.31 L678.75,458.94 L679.00,459.78 L679.25,460.80 L679.50,461.97 L679.75,463.23 L680.00,464.55 L680.25,465.87 L680.50,467.13 L680.75,468.30 L681.00,469.32 L681.25,470.16 L681.50,470.79 L681.75,471.17 L682.00,471.30" fill="none" stroke="#f47878" stroke-width="1"/>
<rect x="561.4" y="371.5" width="120.60000000000002" height="119.80000000000001" fill="none" stroke="#6a6a6a" stroke-width="1"/>
<line x1="561.40" y1="491.30" x2="561.40" y2="493.70" stroke="#6a6a6a" stroke-width="0.9" />
<text x="561.4" y="503.5" font-size="11" fill="#111" text-anchor="middle" >0</text>
<line x1="586.23" y1="491.30" x2="586.23" y2="492.70" stroke="#6a6a6a" stroke-width="0.9" />
<line x1="611.05" y1="491.30" x2="611.05" y2="493.70" stroke="#6a6a6a" stroke-width="0.9" />
<text x="611.05" y="503.5" font-size="11" fill="#111" text-anchor="middle" >1</text>
<line x1="635.88" y1="491.30" x2="635.88" y2="492.70" stroke="#6a6a6a" stroke-width="0.9" />
<line x1="660.70" y1="491.30" x2="660.70" y2="493.70" stroke="#6a6a6a" stroke-width="0.9" />
<text x="660.7" y="503.5" font-size="11" fill="#111" text-anchor="middle" >2</text>
<text x="621.7" y="516.5" font-size="11.5" font-weight="bold" fill="#000" text-anchor="middle" >Distance (nm)</text>
<text x="0" y="0" font-size="11.6" font-weight="bold" fill="#000" text-anchor="middle" transform="translate(553.3,437.3) rotate(-90)">Intrnsity (arb. units)</text>
<text x="677.4" y="383.6" font-size="10" font-weight="bold" fill="#f47878" text-anchor="end" >In<tspan font-size="7.2" dy="2.6">2</tspan><tspan dy="-2.6">S</tspan><tspan font-size="7.2" dy="2.6">3</tspan><tspan dy="-2.6">-V</tspan></text>
<text x="543.5" y="372.0" font-size="20" font-weight="bold" fill="#000" text-anchor="start" >j</text>
</svg></body></html>
